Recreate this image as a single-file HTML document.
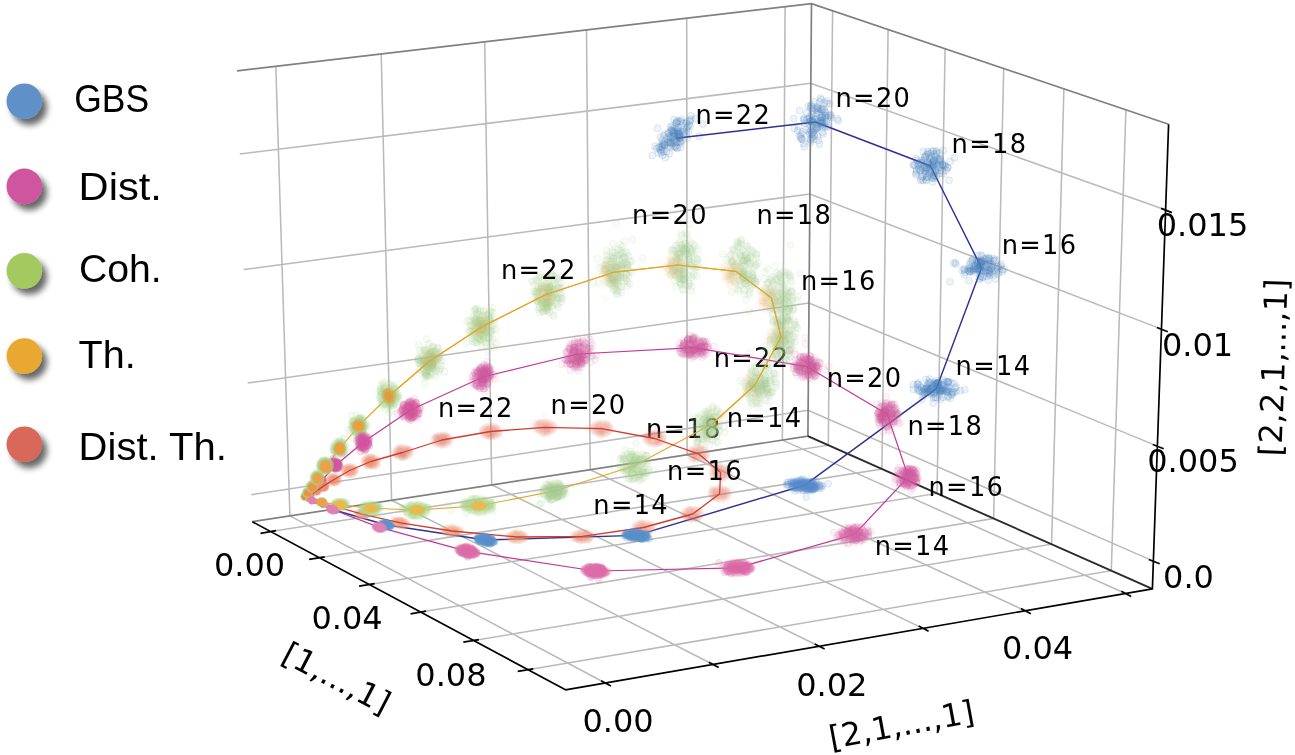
<!DOCTYPE html>
<html lang="en"><head><meta charset="utf-8"><title>Chart</title><style>html,body{margin:0;padding:0;background:#fff}svg{display:block}.p circle{r:3.5px;stroke-width:1px}</style></head><body>
<svg width="1295" height="755" viewBox="0 0 1295 755">
<defs><filter id="sh" x="-50%" y="-50%" width="220%" height="220%"><feGaussianBlur in="SourceAlpha" stdDeviation="3.2"/><feOffset dx="5" dy="6"/><feComponentTransfer><feFuncA type="linear" slope="0.6"/></feComponentTransfer><feMerge><feMergeNode/><feMergeNode in="SourceGraphic"/></feMerge></filter></defs>
<rect width="1295" height="755" fill="#fff"/>
<path d="M270.8,531.6L828.3,445.2L832.6,10.7M319.4,557.7L881.9,469.0L888.1,29.4M369.4,584.5L937.0,493.4L945.1,48.7M420.8,612.1L993.6,518.5L1003.7,68.5M473.6,640.5L1051.6,544.2L1063.9,88.8M528.0,669.7L1111.3,570.7L1125.9,109.7M605.3,683.0L289.9,515.9L275.8,66.4M713.1,664.5L391.6,500.3L381.2,54.0M819.0,646.2L491.7,484.8L484.7,41.9M923.0,628.4L590.2,469.7L586.5,30.0M1025.2,610.8L687.1,454.8L686.7,18.2M1125.6,593.5L782.4,440.1L785.1,6.7M251.4,494.7L808.1,410.2L1153.4,561.1M247.6,383.1L809.0,303.0L1157.4,446.1M243.7,269.6L809.9,194.0L1161.5,329.1M239.8,154.1L810.8,83.3L1165.7,210.0" fill="none" stroke="#bababa" stroke-width="1.55"/>
<path d="M237.0,70.9L811.5,3.6L1168.6,124.2M811.5,3.6L807.9,436.2M252.3,521.7L807.9,436.2" fill="none" stroke="#808080" stroke-width="1.7"/>
<path d="M807.9,436.2L1152.4,588.9" fill="none" stroke="#2a2a2a" stroke-width="1.9"/>
<defs><radialGradient id="g0"><stop offset="0" stop-color="#5b92cd" stop-opacity="1"/><stop offset="0.68" stop-color="#5b92cd" stop-opacity="1"/><stop offset="0.86" stop-color="#5b92cd" stop-opacity="0.6"/><stop offset="1" stop-color="#5b92cd" stop-opacity="0"/></radialGradient><radialGradient id="g1"><stop offset="0" stop-color="#548dca" stop-opacity="1"/><stop offset="0.5" stop-color="#548dca" stop-opacity="0.92"/><stop offset="0.8" stop-color="#548dca" stop-opacity="0.45"/><stop offset="1" stop-color="#548dca" stop-opacity="0"/></radialGradient><radialGradient id="g2"><stop offset="0" stop-color="#4c84c2" stop-opacity="1"/><stop offset="0.5" stop-color="#4c84c2" stop-opacity="0.92"/><stop offset="0.8" stop-color="#4c84c2" stop-opacity="0.45"/><stop offset="1" stop-color="#4c84c2" stop-opacity="0"/></radialGradient><radialGradient id="g3"><stop offset="0" stop-color="#4a80be" stop-opacity="1"/><stop offset="0.5" stop-color="#4a80be" stop-opacity="0.92"/><stop offset="0.8" stop-color="#4a80be" stop-opacity="0.45"/><stop offset="1" stop-color="#4a80be" stop-opacity="0"/></radialGradient><radialGradient id="g4"><stop offset="0" stop-color="#e07fb2" stop-opacity="1"/><stop offset="0.68" stop-color="#e07fb2" stop-opacity="1"/><stop offset="0.86" stop-color="#e07fb2" stop-opacity="0.6"/><stop offset="1" stop-color="#e07fb2" stop-opacity="0"/></radialGradient><radialGradient id="g5"><stop offset="0" stop-color="#de70aa" stop-opacity="1"/><stop offset="0.68" stop-color="#de70aa" stop-opacity="1"/><stop offset="0.86" stop-color="#de70aa" stop-opacity="0.6"/><stop offset="1" stop-color="#de70aa" stop-opacity="0"/></radialGradient><radialGradient id="g6"><stop offset="0" stop-color="#dc6aa8" stop-opacity="1"/><stop offset="0.5" stop-color="#dc6aa8" stop-opacity="0.92"/><stop offset="0.8" stop-color="#dc6aa8" stop-opacity="0.45"/><stop offset="1" stop-color="#dc6aa8" stop-opacity="0"/></radialGradient><radialGradient id="g7"><stop offset="0" stop-color="#dc68a9" stop-opacity="1"/><stop offset="0.5" stop-color="#dc68a9" stop-opacity="0.92"/><stop offset="0.8" stop-color="#dc68a9" stop-opacity="0.45"/><stop offset="1" stop-color="#dc68a9" stop-opacity="0"/></radialGradient><radialGradient id="g8"><stop offset="0" stop-color="#d860a5" stop-opacity="1"/><stop offset="0.5" stop-color="#d860a5" stop-opacity="0.92"/><stop offset="0.8" stop-color="#d860a5" stop-opacity="0.45"/><stop offset="1" stop-color="#d860a5" stop-opacity="0"/></radialGradient><radialGradient id="g9"><stop offset="0" stop-color="#d4589f" stop-opacity="1"/><stop offset="0.5" stop-color="#d4589f" stop-opacity="0.92"/><stop offset="0.8" stop-color="#d4589f" stop-opacity="0.45"/><stop offset="1" stop-color="#d4589f" stop-opacity="0"/></radialGradient><radialGradient id="g10"><stop offset="0" stop-color="#d4569f" stop-opacity="1"/><stop offset="0.5" stop-color="#d4569f" stop-opacity="0.92"/><stop offset="0.8" stop-color="#d4569f" stop-opacity="0.45"/><stop offset="1" stop-color="#d4569f" stop-opacity="0"/></radialGradient><radialGradient id="g11"><stop offset="0" stop-color="#d4569f" stop-opacity="1"/><stop offset="0.68" stop-color="#d4569f" stop-opacity="1"/><stop offset="0.86" stop-color="#d4569f" stop-opacity="0.6"/><stop offset="1" stop-color="#d4569f" stop-opacity="0"/></radialGradient><radialGradient id="g12"><stop offset="0" stop-color="#d8589f" stop-opacity="1"/><stop offset="0.68" stop-color="#d8589f" stop-opacity="1"/><stop offset="0.86" stop-color="#d8589f" stop-opacity="0.6"/><stop offset="1" stop-color="#d8589f" stop-opacity="0"/></radialGradient><radialGradient id="g13"><stop offset="0" stop-color="#aed58c" stop-opacity="1"/><stop offset="0.68" stop-color="#aed58c" stop-opacity="1"/><stop offset="0.86" stop-color="#aed58c" stop-opacity="0.6"/><stop offset="1" stop-color="#aed58c" stop-opacity="0"/></radialGradient><radialGradient id="g14"><stop offset="0" stop-color="#aed58c" stop-opacity="1"/><stop offset="0.5" stop-color="#aed58c" stop-opacity="0.92"/><stop offset="0.8" stop-color="#aed58c" stop-opacity="0.45"/><stop offset="1" stop-color="#aed58c" stop-opacity="0"/></radialGradient><radialGradient id="g15"><stop offset="0" stop-color="#a6cf90" stop-opacity="1"/><stop offset="0.5" stop-color="#a6cf90" stop-opacity="0.92"/><stop offset="0.8" stop-color="#a6cf90" stop-opacity="0.45"/><stop offset="1" stop-color="#a6cf90" stop-opacity="0"/></radialGradient><radialGradient id="g16"><stop offset="0" stop-color="#a6d488" stop-opacity="1"/><stop offset="0.68" stop-color="#a6d488" stop-opacity="1"/><stop offset="0.86" stop-color="#a6d488" stop-opacity="0.6"/><stop offset="1" stop-color="#a6d488" stop-opacity="0"/></radialGradient><radialGradient id="g17"><stop offset="0" stop-color="#eba04a" stop-opacity="1"/><stop offset="0.68" stop-color="#eba04a" stop-opacity="1"/><stop offset="0.86" stop-color="#eba04a" stop-opacity="0.6"/><stop offset="1" stop-color="#eba04a" stop-opacity="0"/></radialGradient><radialGradient id="g18"><stop offset="0" stop-color="#e9b94c" stop-opacity="1"/><stop offset="0.68" stop-color="#e9b94c" stop-opacity="1"/><stop offset="0.86" stop-color="#e9b94c" stop-opacity="0.6"/><stop offset="1" stop-color="#e9b94c" stop-opacity="0"/></radialGradient><radialGradient id="g19"><stop offset="0" stop-color="#e9a03c" stop-opacity="1"/><stop offset="0.5" stop-color="#e9a03c" stop-opacity="0.92"/><stop offset="0.8" stop-color="#e9a03c" stop-opacity="0.45"/><stop offset="1" stop-color="#e9a03c" stop-opacity="0"/></radialGradient><radialGradient id="g20"><stop offset="0" stop-color="#e9a03c" stop-opacity="1"/><stop offset="0.68" stop-color="#e9a03c" stop-opacity="1"/><stop offset="0.86" stop-color="#e9a03c" stop-opacity="0.6"/><stop offset="1" stop-color="#e9a03c" stop-opacity="0"/></radialGradient><radialGradient id="g21"><stop offset="0" stop-color="#ea9548" stop-opacity="1"/><stop offset="0.68" stop-color="#ea9548" stop-opacity="1"/><stop offset="0.86" stop-color="#ea9548" stop-opacity="0.6"/><stop offset="1" stop-color="#ea9548" stop-opacity="0"/></radialGradient><radialGradient id="g22"><stop offset="0" stop-color="#ea8f48" stop-opacity="1"/><stop offset="0.68" stop-color="#ea8f48" stop-opacity="1"/><stop offset="0.86" stop-color="#ea8f48" stop-opacity="0.6"/><stop offset="1" stop-color="#ea8f48" stop-opacity="0"/></radialGradient><radialGradient id="g23"><stop offset="0" stop-color="#ea8a48" stop-opacity="1"/><stop offset="0.68" stop-color="#ea8a48" stop-opacity="1"/><stop offset="0.86" stop-color="#ea8a48" stop-opacity="0.6"/><stop offset="1" stop-color="#ea8a48" stop-opacity="0"/></radialGradient><radialGradient id="g24"><stop offset="0" stop-color="#ea8a6c" stop-opacity="1"/><stop offset="0.68" stop-color="#ea8a6c" stop-opacity="1"/><stop offset="0.86" stop-color="#ea8a6c" stop-opacity="0.6"/><stop offset="1" stop-color="#ea8a6c" stop-opacity="0"/></radialGradient><radialGradient id="g25"><stop offset="0" stop-color="#f0a07e" stop-opacity="1"/><stop offset="0.68" stop-color="#f0a07e" stop-opacity="1"/><stop offset="0.86" stop-color="#f0a07e" stop-opacity="0.6"/><stop offset="1" stop-color="#f0a07e" stop-opacity="0"/></radialGradient><radialGradient id="g26"><stop offset="0" stop-color="#f0a07e" stop-opacity="1"/><stop offset="0.5" stop-color="#f0a07e" stop-opacity="0.92"/><stop offset="0.8" stop-color="#f0a07e" stop-opacity="0.45"/><stop offset="1" stop-color="#f0a07e" stop-opacity="0"/></radialGradient><radialGradient id="g27"><stop offset="0" stop-color="#ea8a6c" stop-opacity="1"/><stop offset="0.5" stop-color="#ea8a6c" stop-opacity="0.92"/><stop offset="0.8" stop-color="#ea8a6c" stop-opacity="0.45"/><stop offset="1" stop-color="#ea8a6c" stop-opacity="0"/></radialGradient><radialGradient id="g28"><stop offset="0" stop-color="#e0705a" stop-opacity="1"/><stop offset="0.5" stop-color="#e0705a" stop-opacity="0.92"/><stop offset="0.8" stop-color="#e0705a" stop-opacity="0.45"/><stop offset="1" stop-color="#e0705a" stop-opacity="0"/></radialGradient></defs>
<g font-family="DejaVu Sans, Liberation Sans, sans-serif" font-size="25.7" letter-spacing="1.3" fill="#000"><text x="645.9" y="438">n=18</text><text x="713.7" y="366.5">n=22</text></g>
<path d="M305.5,497.5L315.0,501.5L323.0,505.0L335.0,510.3L385.5,524.7L485.5,540.0L636.5,535.4L804.4,485.3L936.4,388.6L981.5,267.9L930.5,166.0L815.3,122.0L676.0,138.3" fill="none" stroke="#2d3192" stroke-width="1.45" stroke-linejoin="round"/>
<path d="M305.5,497.5L311.9,500.3L332.4,509.5L379.4,527.4L467.5,551.3L595.0,571.0L737.6,567.8L854.5,534.4L908.3,476.9L887.2,414.2L807.2,366.7L693.6,347.6L577.6,354.0L483.0,377.0L410.6,410.0L363.5,442.0L335.7,465.2L321.8,480.5L314.0,488.0L309.5,493.0L307.0,496.0L305.5,497.5" fill="none" stroke="#c0399b" stroke-width="1.25" stroke-linejoin="round"/>
<path d="M305.5,497.5L308.0,499.0L313.0,500.8L321.8,502.3L339.7,504.9L370.8,508.2L417.0,510.0L479.0,505.7L552.7,491.5L634.0,466.0L712.0,424.0L755.0,385.0L781.0,337.0L771.5,298.0L736.0,271.4L677.8,265.0L613.0,272.4L546.0,294.5L481.6,327.0L429.7,361.0L389.0,396.0L358.6,426.0L339.7,448.6L325.8,466.5L317.8,478.4L312.5,487.0L307.9,493.0L305.0,496.8L305.5,497.5" fill="none" stroke="#e8a422" stroke-width="1.1" stroke-linejoin="round"/>
<ellipse cx="552.7" cy="491.5" rx="10.8" ry="8.1" fill="url(#g19)" opacity="0.12"/>
<ellipse cx="634.0" cy="466.0" rx="10.8" ry="8.9" fill="url(#g19)" opacity="0.1"/>
<ellipse cx="712.0" cy="424.0" rx="10.8" ry="10.8" fill="url(#g19)" opacity="0.06"/><g class="p" fill="#e9a03c" fill-opacity="0.03"><circle cx="722.9" cy="414.4"/><circle cx="716.5" cy="421.8"/><circle cx="706.3" cy="418.9"/><circle cx="709.9" cy="426.5"/><circle cx="713.4" cy="421.8"/><circle cx="713.7" cy="415.9"/><circle cx="712.5" cy="425.2"/><circle cx="705.8" cy="426.9"/><circle cx="718.9" cy="429.0"/><circle cx="706.7" cy="422.4"/><circle cx="708.3" cy="423.6"/><circle cx="710.3" cy="422.7"/><circle cx="714.3" cy="411.7"/><circle cx="706.1" cy="418.0"/><circle cx="710.4" cy="427.6"/><circle cx="714.7" cy="426.1"/><circle cx="703.7" cy="419.4"/><circle cx="710.8" cy="425.6"/><circle cx="712.2" cy="419.8"/><circle cx="705.5" cy="427.5"/><circle cx="707.4" cy="422.8"/><circle cx="711.6" cy="425.4"/><circle cx="708.5" cy="418.6"/><circle cx="710.7" cy="419.9"/><circle cx="712.1" cy="417.4"/></g>
<ellipse cx="753.0" cy="386.0" rx="11.8" ry="13.6" fill="url(#g19)" opacity="0.12"/><g class="p" fill="#e9a03c" fill-opacity="0.03" stroke="#e9a03c" stroke-opacity="0.03"><circle cx="757.4" cy="386.1"/><circle cx="751.1" cy="396.0"/><circle cx="747.7" cy="390.1"/><circle cx="756.2" cy="386.1"/><circle cx="759.5" cy="381.7"/><circle cx="755.4" cy="392.6"/><circle cx="752.9" cy="392.7"/><circle cx="750.3" cy="379.0"/><circle cx="748.0" cy="377.8"/><circle cx="759.1" cy="380.0"/><circle cx="746.9" cy="379.0"/><circle cx="755.1" cy="378.3"/><circle cx="746.2" cy="385.5"/><circle cx="758.1" cy="393.6"/><circle cx="756.3" cy="375.8"/><circle cx="749.5" cy="386.3"/><circle cx="749.2" cy="389.9"/><circle cx="747.4" cy="380.4"/><circle cx="755.8" cy="374.3"/><circle cx="761.2" cy="389.3"/><circle cx="752.0" cy="383.7"/><circle cx="755.2" cy="388.0"/><circle cx="748.2" cy="386.6"/><circle cx="748.8" cy="382.8"/><circle cx="752.7" cy="386.2"/><circle cx="751.4" cy="385.3"/><circle cx="750.9" cy="384.0"/><circle cx="760.0" cy="393.9"/><circle cx="748.7" cy="373.5"/><circle cx="756.6" cy="396.3"/></g>
<ellipse cx="778.0" cy="338.0" rx="11.8" ry="13.6" fill="url(#g19)" opacity="0.15"/><g class="p" fill="#e9a03c" fill-opacity="0.03" stroke="#e9a03c" stroke-opacity="0.03"><circle cx="766.7" cy="336.6"/><circle cx="780.2" cy="344.9"/><circle cx="775.2" cy="329.7"/><circle cx="781.2" cy="333.9"/><circle cx="775.1" cy="344.7"/><circle cx="785.1" cy="335.4"/><circle cx="770.3" cy="344.5"/><circle cx="776.3" cy="346.5"/><circle cx="779.0" cy="331.8"/><circle cx="769.9" cy="331.9"/><circle cx="774.8" cy="338.5"/><circle cx="778.8" cy="339.1"/><circle cx="783.8" cy="334.7"/><circle cx="778.1" cy="329.7"/><circle cx="786.4" cy="339.0"/><circle cx="776.3" cy="331.7"/><circle cx="778.6" cy="345.1"/><circle cx="780.4" cy="338.9"/><circle cx="778.8" cy="345.3"/><circle cx="781.7" cy="338.7"/><circle cx="768.2" cy="341.7"/><circle cx="778.7" cy="337.6"/><circle cx="783.0" cy="333.4"/><circle cx="779.3" cy="338.6"/><circle cx="771.3" cy="336.7"/><circle cx="778.4" cy="343.9"/><circle cx="780.3" cy="337.8"/><circle cx="781.3" cy="326.2"/><circle cx="775.9" cy="333.5"/><circle cx="780.2" cy="347.5"/></g>
<ellipse cx="768.0" cy="299.0" rx="11.8" ry="14.6" fill="url(#g19)" opacity="0.18"/><g class="p" fill="#e9a03c" fill-opacity="0.03" stroke="#e9a03c" stroke-opacity="0.03"><circle cx="771.5" cy="303.5"/><circle cx="775.2" cy="290.6"/><circle cx="777.1" cy="296.1"/><circle cx="775.7" cy="301.8"/><circle cx="761.7" cy="291.3"/><circle cx="777.3" cy="296.5"/><circle cx="767.8" cy="299.8"/><circle cx="776.4" cy="293.6"/><circle cx="765.8" cy="310.0"/><circle cx="762.3" cy="300.6"/><circle cx="767.2" cy="296.1"/><circle cx="771.5" cy="290.2"/><circle cx="768.1" cy="289.6"/><circle cx="776.0" cy="302.0"/><circle cx="762.7" cy="290.1"/><circle cx="770.2" cy="286.7"/><circle cx="767.2" cy="305.3"/><circle cx="772.4" cy="306.1"/><circle cx="769.6" cy="290.8"/><circle cx="763.4" cy="301.9"/><circle cx="758.1" cy="305.6"/><circle cx="775.9" cy="291.1"/><circle cx="762.8" cy="303.2"/><circle cx="764.8" cy="303.0"/><circle cx="765.9" cy="295.9"/><circle cx="767.4" cy="303.0"/><circle cx="770.7" cy="298.6"/><circle cx="774.3" cy="308.3"/><circle cx="771.6" cy="290.6"/><circle cx="765.1" cy="297.8"/><circle cx="770.3" cy="307.0"/><circle cx="765.3" cy="306.5"/><circle cx="762.6" cy="300.9"/><circle cx="766.0" cy="297.4"/><circle cx="773.6" cy="296.7"/></g>
<ellipse cx="733.0" cy="273.0" rx="11.9" ry="14.6" fill="url(#g19)" opacity="0.2"/><g class="p" fill="#e9a03c" fill-opacity="0.03" stroke="#e9a03c" stroke-opacity="0.03"><circle cx="731.0" cy="260.1"/><circle cx="742.4" cy="274.4"/><circle cx="724.1" cy="270.8"/><circle cx="730.6" cy="279.5"/><circle cx="731.1" cy="276.1"/><circle cx="731.4" cy="266.8"/><circle cx="732.5" cy="273.3"/><circle cx="736.2" cy="284.3"/><circle cx="729.6" cy="285.0"/><circle cx="729.5" cy="284.2"/><circle cx="733.0" cy="260.3"/><circle cx="733.8" cy="282.0"/><circle cx="740.7" cy="271.3"/><circle cx="724.8" cy="266.2"/><circle cx="738.0" cy="266.8"/><circle cx="723.8" cy="277.3"/><circle cx="727.2" cy="276.2"/><circle cx="734.2" cy="271.1"/><circle cx="721.8" cy="267.7"/><circle cx="729.4" cy="278.4"/><circle cx="733.5" cy="266.8"/><circle cx="737.2" cy="275.3"/><circle cx="725.4" cy="280.8"/><circle cx="734.8" cy="289.9"/><circle cx="737.9" cy="263.4"/><circle cx="738.3" cy="274.3"/><circle cx="731.1" cy="274.8"/><circle cx="735.9" cy="270.8"/><circle cx="728.6" cy="276.7"/><circle cx="734.6" cy="265.7"/><circle cx="739.0" cy="271.3"/><circle cx="741.7" cy="281.9"/><circle cx="732.2" cy="277.8"/><circle cx="728.1" cy="274.0"/><circle cx="724.2" cy="266.1"/></g>
<ellipse cx="675.0" cy="266.5" rx="11.9" ry="14.6" fill="url(#g19)" opacity="0.2"/><g class="p" fill="#e9a03c" fill-opacity="0.03" stroke="#e9a03c" stroke-opacity="0.03"><circle cx="669.1" cy="275.7"/><circle cx="665.5" cy="267.2"/><circle cx="665.3" cy="266.1"/><circle cx="675.2" cy="275.0"/><circle cx="677.7" cy="272.0"/><circle cx="666.6" cy="268.4"/><circle cx="673.4" cy="273.4"/><circle cx="684.1" cy="265.1"/><circle cx="679.9" cy="277.2"/><circle cx="672.1" cy="265.8"/><circle cx="671.3" cy="260.5"/><circle cx="669.3" cy="257.8"/><circle cx="677.0" cy="256.7"/><circle cx="677.6" cy="273.4"/><circle cx="666.7" cy="271.3"/><circle cx="675.0" cy="269.0"/><circle cx="684.7" cy="268.0"/><circle cx="679.9" cy="271.7"/><circle cx="675.1" cy="261.1"/><circle cx="676.4" cy="261.0"/><circle cx="670.4" cy="265.9"/><circle cx="684.1" cy="277.2"/><circle cx="681.7" cy="256.4"/><circle cx="677.7" cy="261.6"/><circle cx="677.1" cy="271.7"/><circle cx="678.1" cy="262.3"/><circle cx="670.1" cy="270.7"/><circle cx="680.8" cy="261.7"/><circle cx="670.8" cy="265.5"/><circle cx="672.2" cy="272.2"/><circle cx="679.8" cy="271.4"/><circle cx="672.0" cy="261.0"/><circle cx="673.4" cy="267.2"/><circle cx="678.9" cy="269.0"/><circle cx="673.3" cy="270.0"/></g>
<ellipse cx="610.5" cy="274.0" rx="11.9" ry="14.6" fill="url(#g19)" opacity="0.23"/><g class="p" fill="#e9a03c" fill-opacity="0.035" stroke="#e9a03c" stroke-opacity="0.03"><circle cx="605.2" cy="297.9"/><circle cx="605.2" cy="271.3"/><circle cx="606.8" cy="266.4"/><circle cx="606.7" cy="281.4"/><circle cx="605.1" cy="264.7"/><circle cx="605.6" cy="262.9"/><circle cx="604.0" cy="273.8"/><circle cx="609.9" cy="280.8"/><circle cx="612.4" cy="285.2"/><circle cx="614.6" cy="280.4"/><circle cx="613.7" cy="278.4"/><circle cx="610.3" cy="277.9"/><circle cx="612.5" cy="271.9"/><circle cx="604.5" cy="265.7"/><circle cx="602.1" cy="270.3"/><circle cx="601.4" cy="274.1"/><circle cx="617.1" cy="278.0"/><circle cx="618.3" cy="280.4"/><circle cx="605.7" cy="260.5"/><circle cx="618.0" cy="265.9"/><circle cx="604.0" cy="270.9"/><circle cx="609.0" cy="277.7"/><circle cx="607.5" cy="268.8"/><circle cx="614.5" cy="268.3"/><circle cx="623.2" cy="265.7"/><circle cx="610.9" cy="281.2"/><circle cx="610.8" cy="264.4"/><circle cx="610.5" cy="280.7"/><circle cx="607.3" cy="264.4"/><circle cx="610.4" cy="261.3"/><circle cx="612.9" cy="278.7"/><circle cx="611.3" cy="267.3"/><circle cx="615.7" cy="282.5"/><circle cx="616.1" cy="271.8"/><circle cx="613.1" cy="270.1"/></g>
<ellipse cx="546.0" cy="294.5" rx="11.4" ry="13.5" fill="url(#g19)" opacity="0.27"/><g class="p" fill="#e9a03c" fill-opacity="0.04" stroke="#e9a03c" stroke-opacity="0.03"><circle cx="547.3" cy="287.5"/><circle cx="548.2" cy="292.8"/><circle cx="541.0" cy="289.2"/><circle cx="555.2" cy="293.7"/><circle cx="548.1" cy="283.4"/><circle cx="550.1" cy="303.4"/><circle cx="547.4" cy="305.5"/><circle cx="548.1" cy="289.0"/><circle cx="553.2" cy="297.6"/><circle cx="542.1" cy="288.7"/><circle cx="538.1" cy="299.8"/><circle cx="546.4" cy="293.0"/><circle cx="550.0" cy="287.4"/><circle cx="547.6" cy="297.3"/><circle cx="549.7" cy="293.6"/><circle cx="544.9" cy="293.0"/><circle cx="547.8" cy="303.4"/><circle cx="541.4" cy="297.6"/><circle cx="546.5" cy="297.3"/><circle cx="546.3" cy="303.4"/><circle cx="549.1" cy="296.1"/><circle cx="548.0" cy="299.7"/><circle cx="546.6" cy="298.3"/><circle cx="545.1" cy="302.8"/><circle cx="545.2" cy="277.0"/><circle cx="548.7" cy="292.7"/><circle cx="545.2" cy="298.1"/><circle cx="534.1" cy="284.8"/><circle cx="545.3" cy="287.3"/><circle cx="548.6" cy="297.2"/><circle cx="544.1" cy="298.9"/><circle cx="537.6" cy="293.9"/><circle cx="549.8" cy="301.8"/><circle cx="548.4" cy="302.5"/><circle cx="547.8" cy="293.8"/></g>
<ellipse cx="481.6" cy="327.0" rx="10.4" ry="12.3" fill="url(#g19)" opacity="0.35"/><g class="p" fill="#e9a03c" fill-opacity="0.05" stroke="#e9a03c" stroke-opacity="0.04"><circle cx="489.9" cy="319.9"/><circle cx="488.0" cy="326.2"/><circle cx="480.4" cy="317.7"/><circle cx="475.2" cy="324.2"/><circle cx="477.0" cy="329.2"/><circle cx="483.3" cy="322.8"/><circle cx="483.1" cy="325.4"/><circle cx="481.2" cy="332.8"/><circle cx="482.9" cy="329.3"/><circle cx="486.7" cy="331.3"/><circle cx="479.7" cy="329.4"/><circle cx="475.9" cy="333.6"/><circle cx="479.8" cy="325.3"/><circle cx="475.4" cy="333.1"/><circle cx="478.7" cy="323.2"/><circle cx="480.2" cy="335.7"/><circle cx="485.9" cy="324.9"/><circle cx="479.2" cy="331.1"/><circle cx="481.8" cy="328.3"/><circle cx="481.4" cy="339.0"/><circle cx="485.2" cy="329.5"/><circle cx="484.1" cy="315.7"/><circle cx="478.3" cy="332.7"/><circle cx="486.4" cy="323.3"/><circle cx="473.7" cy="320.7"/><circle cx="483.5" cy="326.0"/><circle cx="485.6" cy="325.8"/><circle cx="482.5" cy="329.4"/><circle cx="481.0" cy="324.8"/><circle cx="479.1" cy="325.9"/><circle cx="481.6" cy="331.5"/><circle cx="481.7" cy="324.2"/><circle cx="477.4" cy="323.2"/><circle cx="483.0" cy="327.4"/><circle cx="486.5" cy="326.2"/></g>
<ellipse cx="429.7" cy="361.0" rx="9.7" ry="10.8" fill="url(#g19)" opacity="0.46"/><g class="p" fill="#e9a03c" fill-opacity="0.07" stroke="#e9a03c" stroke-opacity="0.04"><circle cx="425.3" cy="363.4"/><circle cx="429.2" cy="363.2"/><circle cx="433.8" cy="363.1"/><circle cx="424.9" cy="358.8"/><circle cx="428.1" cy="353.5"/><circle cx="430.5" cy="353.8"/><circle cx="433.1" cy="363.8"/><circle cx="429.7" cy="367.5"/><circle cx="433.4" cy="355.7"/><circle cx="435.8" cy="356.5"/><circle cx="432.7" cy="356.6"/><circle cx="425.9" cy="366.1"/><circle cx="424.8" cy="365.3"/><circle cx="426.9" cy="366.9"/><circle cx="427.6" cy="364.1"/><circle cx="437.0" cy="360.0"/><circle cx="424.8" cy="359.2"/><circle cx="430.3" cy="352.5"/><circle cx="427.3" cy="361.4"/><circle cx="431.0" cy="353.1"/><circle cx="429.3" cy="361.2"/><circle cx="433.4" cy="362.0"/><circle cx="433.2" cy="363.1"/><circle cx="426.6" cy="372.1"/><circle cx="431.9" cy="361.9"/><circle cx="428.3" cy="367.2"/><circle cx="429.9" cy="363.2"/><circle cx="430.3" cy="360.3"/><circle cx="424.1" cy="358.5"/><circle cx="435.6" cy="361.9"/></g>
<ellipse cx="553.0" cy="491.5" rx="14.6" ry="11.2" fill="url(#g15)" opacity="0.3"/><g class="p" fill="#a6cf90" fill-opacity="0.101" stroke="#a6cf90" stroke-opacity="0.127"><circle cx="563.1" cy="494.2"/><circle cx="541.1" cy="503.2"/><circle cx="550.3" cy="482.3"/><circle cx="548.6" cy="494.8"/><circle cx="561.9" cy="495.9"/><circle cx="560.2" cy="487.1"/><circle cx="557.5" cy="496.1"/><circle cx="562.0" cy="493.9"/><circle cx="553.7" cy="499.2"/><circle cx="559.2" cy="485.3"/><circle cx="553.2" cy="488.2"/><circle cx="557.9" cy="494.5"/><circle cx="549.5" cy="488.3"/><circle cx="559.9" cy="486.4"/><circle cx="564.6" cy="488.1"/><circle cx="544.4" cy="490.0"/><circle cx="555.1" cy="489.9"/><circle cx="547.9" cy="495.9"/><circle cx="559.8" cy="492.4"/><circle cx="557.8" cy="496.5"/><circle cx="551.6" cy="500.3"/><circle cx="565.3" cy="493.8"/><circle cx="562.4" cy="490.1"/><circle cx="564.0" cy="491.5"/><circle cx="554.6" cy="490.6"/><circle cx="543.4" cy="490.2"/><circle cx="543.7" cy="494.4"/><circle cx="547.5" cy="498.8"/><circle cx="545.3" cy="489.0"/><circle cx="558.7" cy="495.8"/><circle cx="554.6" cy="483.2"/><circle cx="550.4" cy="494.3"/><circle cx="557.0" cy="483.1"/><circle cx="561.7" cy="496.0"/><circle cx="551.0" cy="499.8"/><circle cx="558.7" cy="484.0"/><circle cx="554.9" cy="486.0"/><circle cx="546.1" cy="484.3"/><circle cx="543.2" cy="488.1"/><circle cx="563.2" cy="490.8"/><circle cx="550.6" cy="488.7"/><circle cx="549.3" cy="497.3"/><circle cx="556.2" cy="497.9"/><circle cx="548.5" cy="493.0"/><circle cx="559.8" cy="489.3"/><circle cx="557.3" cy="497.0"/><circle cx="557.2" cy="488.4"/><circle cx="553.3" cy="487.0"/><circle cx="557.0" cy="496.5"/><circle cx="550.6" cy="492.2"/><circle cx="546.9" cy="489.0"/><circle cx="552.2" cy="492.2"/><circle cx="556.0" cy="494.8"/><circle cx="554.5" cy="493.5"/><circle cx="557.2" cy="491.5"/><circle cx="554.2" cy="487.7"/><circle cx="554.5" cy="495.8"/><circle cx="549.1" cy="497.2"/><circle cx="550.0" cy="496.2"/><circle cx="563.3" cy="492.5"/><circle cx="550.7" cy="493.5"/><circle cx="550.7" cy="487.7"/><circle cx="559.4" cy="483.4"/><circle cx="558.6" cy="488.3"/><circle cx="558.8" cy="489.4"/><circle cx="564.2" cy="489.4"/><circle cx="539.4" cy="504.0"/><circle cx="553.3" cy="491.0"/><circle cx="553.0" cy="490.2"/><circle cx="554.9" cy="488.3"/><circle cx="566.3" cy="488.6"/><circle cx="557.0" cy="497.3"/><circle cx="551.7" cy="495.3"/><circle cx="549.8" cy="487.3"/><circle cx="548.2" cy="496.2"/><circle cx="559.4" cy="487.7"/><circle cx="559.2" cy="487.7"/><circle cx="554.1" cy="494.5"/><circle cx="540.5" cy="494.2"/><circle cx="551.2" cy="485.2"/><circle cx="557.1" cy="492.7"/><circle cx="555.2" cy="490.3"/><circle cx="548.9" cy="485.8"/><circle cx="551.5" cy="487.0"/><circle cx="550.2" cy="493.2"/><circle cx="557.8" cy="493.2"/><circle cx="554.6" cy="490.3"/><circle cx="558.7" cy="496.4"/><circle cx="549.9" cy="489.6"/><circle cx="546.9" cy="490.2"/><circle cx="550.2" cy="499.7"/><circle cx="561.1" cy="485.6"/><circle cx="557.6" cy="490.4"/><circle cx="542.3" cy="492.5"/><circle cx="548.7" cy="492.7"/><circle cx="556.0" cy="488.6"/><circle cx="562.0" cy="492.0"/><circle cx="548.1" cy="484.5"/></g>
<ellipse cx="635.0" cy="465.5" rx="16.5" ry="17.1" fill="url(#g15)" opacity="0.26"/><g class="p" fill="#a6cf90" fill-opacity="0.089" stroke="#a6cf90" stroke-opacity="0.127"><circle cx="635.9" cy="443.6"/><circle cx="626.8" cy="470.0"/><circle cx="620.2" cy="459.1"/><circle cx="629.4" cy="470.7"/><circle cx="637.7" cy="459.5"/><circle cx="636.6" cy="465.6"/><circle cx="629.1" cy="478.4"/><circle cx="630.3" cy="475.8"/><circle cx="641.2" cy="463.8"/><circle cx="633.4" cy="473.9"/><circle cx="635.9" cy="456.7"/><circle cx="639.7" cy="474.6"/><circle cx="639.2" cy="480.0"/><circle cx="627.4" cy="453.9"/><circle cx="630.5" cy="463.3"/><circle cx="623.3" cy="460.3"/><circle cx="640.3" cy="474.5"/><circle cx="639.0" cy="458.8"/><circle cx="637.1" cy="462.1"/><circle cx="635.4" cy="477.9"/><circle cx="621.8" cy="458.6"/><circle cx="633.7" cy="468.0"/><circle cx="640.2" cy="479.5"/><circle cx="648.0" cy="460.5"/><circle cx="626.9" cy="462.3"/><circle cx="645.5" cy="473.0"/><circle cx="623.3" cy="470.6"/><circle cx="634.5" cy="478.6"/><circle cx="646.8" cy="463.7"/><circle cx="632.1" cy="479.3"/><circle cx="621.2" cy="467.6"/><circle cx="631.4" cy="472.3"/><circle cx="643.3" cy="472.6"/><circle cx="645.9" cy="455.8"/><circle cx="633.7" cy="460.8"/><circle cx="644.8" cy="459.8"/><circle cx="643.5" cy="454.7"/><circle cx="623.7" cy="456.4"/><circle cx="624.3" cy="459.3"/><circle cx="631.6" cy="454.7"/><circle cx="626.9" cy="472.6"/><circle cx="633.8" cy="457.5"/><circle cx="640.9" cy="472.3"/><circle cx="624.3" cy="458.8"/><circle cx="630.8" cy="451.4"/><circle cx="644.6" cy="477.1"/><circle cx="648.9" cy="469.7"/><circle cx="628.3" cy="469.7"/><circle cx="635.9" cy="457.8"/><circle cx="633.4" cy="469.6"/><circle cx="642.2" cy="478.4"/><circle cx="631.6" cy="454.3"/><circle cx="631.2" cy="460.3"/><circle cx="634.6" cy="464.2"/><circle cx="632.9" cy="465.5"/><circle cx="641.4" cy="460.1"/><circle cx="622.2" cy="468.2"/><circle cx="648.0" cy="472.9"/><circle cx="626.2" cy="468.5"/><circle cx="642.5" cy="471.8"/><circle cx="647.6" cy="471.4"/><circle cx="614.9" cy="469.4"/><circle cx="629.2" cy="458.3"/><circle cx="622.5" cy="455.7"/><circle cx="632.0" cy="473.2"/><circle cx="642.7" cy="470.0"/><circle cx="643.4" cy="462.2"/><circle cx="628.7" cy="479.3"/><circle cx="637.9" cy="462.5"/><circle cx="640.0" cy="459.6"/><circle cx="645.9" cy="455.5"/><circle cx="630.8" cy="463.8"/><circle cx="633.3" cy="455.9"/><circle cx="640.8" cy="469.8"/><circle cx="635.1" cy="469.5"/><circle cx="631.4" cy="472.4"/><circle cx="630.6" cy="457.3"/><circle cx="633.5" cy="463.8"/><circle cx="637.2" cy="470.2"/><circle cx="646.8" cy="455.4"/><circle cx="623.4" cy="467.4"/><circle cx="644.1" cy="473.0"/><circle cx="634.1" cy="463.6"/><circle cx="632.8" cy="478.5"/><circle cx="633.5" cy="467.9"/><circle cx="626.3" cy="472.3"/><circle cx="634.1" cy="463.6"/><circle cx="632.9" cy="464.6"/><circle cx="654.2" cy="470.1"/><circle cx="639.8" cy="460.0"/><circle cx="625.1" cy="449.7"/><circle cx="630.9" cy="466.8"/><circle cx="636.7" cy="454.9"/><circle cx="639.7" cy="461.5"/><circle cx="643.1" cy="463.7"/><circle cx="635.4" cy="460.2"/><circle cx="630.3" cy="465.9"/><circle cx="639.2" cy="471.0"/><circle cx="630.2" cy="456.5"/><circle cx="638.2" cy="475.1"/><circle cx="631.7" cy="462.5"/><circle cx="632.1" cy="468.2"/><circle cx="641.9" cy="458.8"/><circle cx="638.3" cy="476.2"/><circle cx="639.4" cy="460.1"/></g>
<ellipse cx="708.4" cy="426.5" rx="14.6" ry="22.2" transform="rotate(20 708.4 426.5)" fill="url(#g15)" opacity="0.22"/><g class="p" fill="#a6cf90" fill-opacity="0.081" stroke="#a6cf90" stroke-opacity="0.127"><circle cx="708.4" cy="410.3"/><circle cx="703.7" cy="430.9"/><circle cx="706.8" cy="421.9"/><circle cx="707.8" cy="412.6"/><circle cx="713.1" cy="426.8"/><circle cx="694.5" cy="432.5"/><circle cx="703.0" cy="438.4"/><circle cx="711.5" cy="419.2"/><circle cx="719.4" cy="431.0"/><circle cx="719.4" cy="425.5"/><circle cx="705.4" cy="423.1"/><circle cx="709.7" cy="428.6"/><circle cx="700.8" cy="414.5"/><circle cx="721.2" cy="413.1"/><circle cx="698.6" cy="418.2"/><circle cx="717.3" cy="435.0"/><circle cx="705.2" cy="429.3"/><circle cx="709.4" cy="444.7"/><circle cx="715.0" cy="429.6"/><circle cx="710.7" cy="413.7"/><circle cx="709.9" cy="417.6"/><circle cx="711.3" cy="434.6"/><circle cx="705.9" cy="427.9"/><circle cx="713.0" cy="406.4"/><circle cx="707.7" cy="431.9"/><circle cx="698.5" cy="417.2"/><circle cx="709.0" cy="430.7"/><circle cx="712.0" cy="433.1"/><circle cx="710.0" cy="420.5"/><circle cx="696.9" cy="442.5"/><circle cx="708.3" cy="419.2"/><circle cx="705.8" cy="411.4"/><circle cx="719.7" cy="414.0"/><circle cx="712.6" cy="440.1"/><circle cx="702.8" cy="425.5"/><circle cx="716.5" cy="436.4"/><circle cx="714.0" cy="416.6"/><circle cx="695.9" cy="426.2"/><circle cx="709.0" cy="421.6"/><circle cx="711.8" cy="423.9"/><circle cx="708.3" cy="420.4"/><circle cx="708.4" cy="435.0"/><circle cx="696.6" cy="441.4"/><circle cx="714.2" cy="417.3"/><circle cx="707.1" cy="428.0"/><circle cx="705.0" cy="414.2"/><circle cx="698.7" cy="426.5"/><circle cx="708.9" cy="416.9"/><circle cx="717.1" cy="411.0"/><circle cx="707.8" cy="414.1"/><circle cx="708.8" cy="426.1"/><circle cx="706.9" cy="438.7"/><circle cx="715.4" cy="415.9"/><circle cx="706.9" cy="437.2"/><circle cx="706.6" cy="419.8"/><circle cx="717.4" cy="417.1"/><circle cx="718.2" cy="442.6"/><circle cx="712.2" cy="425.5"/><circle cx="706.0" cy="424.9"/><circle cx="702.5" cy="431.0"/><circle cx="710.0" cy="424.6"/><circle cx="702.4" cy="425.5"/><circle cx="705.2" cy="429.5"/><circle cx="700.8" cy="431.0"/><circle cx="701.3" cy="444.3"/><circle cx="697.4" cy="443.5"/><circle cx="724.8" cy="432.5"/><circle cx="716.0" cy="441.8"/><circle cx="703.6" cy="419.4"/><circle cx="713.2" cy="432.2"/><circle cx="712.0" cy="433.1"/><circle cx="717.6" cy="428.1"/><circle cx="704.9" cy="419.0"/><circle cx="711.5" cy="418.9"/><circle cx="709.1" cy="425.3"/><circle cx="707.0" cy="426.3"/><circle cx="703.0" cy="435.8"/><circle cx="706.5" cy="434.7"/><circle cx="700.4" cy="424.6"/><circle cx="712.5" cy="408.1"/><circle cx="724.5" cy="419.2"/><circle cx="710.6" cy="436.0"/><circle cx="716.5" cy="425.6"/><circle cx="692.1" cy="428.0"/><circle cx="705.7" cy="433.3"/><circle cx="703.3" cy="439.1"/><circle cx="712.7" cy="425.2"/><circle cx="724.1" cy="426.8"/><circle cx="695.9" cy="424.1"/><circle cx="709.3" cy="433.8"/><circle cx="705.6" cy="426.3"/><circle cx="705.3" cy="421.9"/><circle cx="714.1" cy="424.0"/><circle cx="713.5" cy="426.7"/><circle cx="710.2" cy="424.7"/><circle cx="714.6" cy="430.9"/><circle cx="703.8" cy="427.0"/><circle cx="714.3" cy="432.3"/><circle cx="705.2" cy="418.2"/><circle cx="698.2" cy="438.0"/><circle cx="706.6" cy="435.9"/><circle cx="714.3" cy="425.9"/><circle cx="715.1" cy="428.4"/><circle cx="717.2" cy="409.0"/><circle cx="709.4" cy="423.0"/><circle cx="703.5" cy="427.3"/><circle cx="702.3" cy="421.7"/><circle cx="694.9" cy="419.4"/><circle cx="698.6" cy="441.4"/><circle cx="707.4" cy="432.5"/><circle cx="693.5" cy="416.5"/><circle cx="697.4" cy="436.4"/></g>
<ellipse cx="760.0" cy="384.0" rx="17.6" ry="21.8" transform="rotate(15 760.0 384.0)" fill="url(#g15)" opacity="0.19"/><g class="p" fill="#a6cf90" fill-opacity="0.075" stroke="#a6cf90" stroke-opacity="0.127"><circle cx="769.3" cy="402.0"/><circle cx="757.9" cy="390.6"/><circle cx="749.9" cy="353.3"/><circle cx="754.6" cy="387.9"/><circle cx="753.1" cy="384.7"/><circle cx="759.3" cy="376.7"/><circle cx="767.1" cy="364.8"/><circle cx="755.1" cy="393.7"/><circle cx="760.3" cy="395.6"/><circle cx="750.0" cy="388.9"/><circle cx="747.1" cy="393.6"/><circle cx="746.9" cy="393.3"/><circle cx="774.2" cy="373.4"/><circle cx="766.6" cy="378.4"/><circle cx="772.7" cy="392.0"/><circle cx="757.4" cy="386.5"/><circle cx="752.5" cy="403.0"/><circle cx="774.8" cy="378.8"/><circle cx="775.0" cy="387.5"/><circle cx="752.7" cy="376.3"/><circle cx="763.9" cy="392.7"/><circle cx="766.6" cy="390.3"/><circle cx="751.3" cy="382.8"/><circle cx="751.4" cy="371.0"/><circle cx="767.5" cy="393.7"/><circle cx="756.2" cy="365.8"/><circle cx="768.1" cy="388.6"/><circle cx="760.8" cy="382.6"/><circle cx="762.8" cy="386.0"/><circle cx="764.3" cy="365.2"/><circle cx="765.2" cy="368.8"/><circle cx="756.9" cy="403.4"/><circle cx="759.1" cy="393.1"/><circle cx="750.7" cy="380.9"/><circle cx="770.9" cy="393.9"/><circle cx="748.1" cy="387.4"/><circle cx="762.6" cy="366.8"/><circle cx="773.6" cy="373.3"/><circle cx="752.8" cy="387.4"/><circle cx="761.5" cy="390.0"/><circle cx="766.1" cy="400.4"/><circle cx="758.7" cy="397.7"/><circle cx="756.2" cy="402.0"/><circle cx="776.4" cy="384.9"/><circle cx="765.5" cy="384.8"/><circle cx="751.7" cy="382.2"/><circle cx="775.7" cy="374.8"/><circle cx="770.0" cy="382.0"/><circle cx="759.9" cy="403.6"/><circle cx="758.3" cy="400.3"/><circle cx="768.8" cy="370.5"/><circle cx="758.5" cy="388.9"/><circle cx="757.3" cy="388.8"/><circle cx="745.8" cy="386.7"/><circle cx="749.3" cy="397.5"/><circle cx="756.3" cy="394.9"/><circle cx="771.4" cy="392.1"/><circle cx="752.0" cy="368.5"/><circle cx="757.5" cy="378.1"/><circle cx="767.2" cy="386.7"/><circle cx="765.1" cy="380.2"/><circle cx="751.0" cy="397.9"/><circle cx="745.0" cy="391.3"/><circle cx="752.7" cy="388.3"/><circle cx="749.2" cy="385.6"/><circle cx="767.3" cy="364.5"/><circle cx="753.5" cy="388.3"/><circle cx="766.4" cy="388.3"/><circle cx="755.8" cy="381.9"/><circle cx="752.9" cy="371.8"/><circle cx="761.4" cy="383.9"/><circle cx="764.4" cy="386.6"/><circle cx="764.3" cy="383.7"/><circle cx="758.1" cy="407.6"/><circle cx="752.4" cy="383.0"/><circle cx="755.3" cy="387.4"/><circle cx="765.2" cy="377.1"/><circle cx="760.5" cy="386.0"/><circle cx="758.3" cy="386.5"/><circle cx="768.4" cy="392.2"/><circle cx="757.5" cy="385.7"/><circle cx="775.9" cy="382.1"/><circle cx="769.7" cy="380.0"/><circle cx="750.2" cy="374.5"/><circle cx="763.0" cy="382.4"/><circle cx="756.9" cy="375.3"/><circle cx="755.7" cy="372.2"/><circle cx="761.8" cy="359.6"/><circle cx="762.4" cy="387.4"/><circle cx="758.4" cy="392.6"/><circle cx="755.7" cy="382.7"/><circle cx="740.7" cy="380.6"/><circle cx="755.5" cy="388.7"/><circle cx="766.5" cy="383.8"/><circle cx="750.0" cy="384.5"/><circle cx="763.7" cy="393.9"/><circle cx="758.4" cy="374.2"/><circle cx="760.5" cy="373.6"/><circle cx="743.5" cy="382.9"/><circle cx="761.4" cy="390.6"/><circle cx="753.8" cy="381.6"/><circle cx="754.8" cy="367.5"/><circle cx="767.8" cy="367.6"/><circle cx="751.5" cy="404.8"/><circle cx="766.9" cy="392.2"/><circle cx="764.7" cy="382.9"/><circle cx="750.5" cy="401.3"/><circle cx="759.9" cy="377.8"/><circle cx="764.8" cy="384.4"/><circle cx="770.8" cy="380.4"/><circle cx="754.9" cy="378.4"/><circle cx="769.1" cy="395.6"/><circle cx="761.6" cy="385.2"/><circle cx="764.9" cy="375.5"/><circle cx="764.9" cy="380.3"/><circle cx="761.6" cy="384.6"/><circle cx="763.3" cy="380.3"/><circle cx="766.0" cy="389.2"/></g>
<ellipse cx="783.0" cy="338.0" rx="16.5" ry="26.4" transform="rotate(5 783.0 338.0)" fill="url(#g15)" opacity="0.18"/><g class="p" fill="#a6cf90" fill-opacity="0.075" stroke="#a6cf90" stroke-opacity="0.127"><circle cx="764.1" cy="345.8"/><circle cx="788.3" cy="332.5"/><circle cx="779.6" cy="325.7"/><circle cx="791.0" cy="342.2"/><circle cx="780.1" cy="320.1"/><circle cx="781.9" cy="349.2"/><circle cx="770.8" cy="343.3"/><circle cx="781.8" cy="319.6"/><circle cx="786.5" cy="321.4"/><circle cx="795.8" cy="333.4"/><circle cx="789.4" cy="344.7"/><circle cx="777.7" cy="356.8"/><circle cx="793.7" cy="320.2"/><circle cx="785.6" cy="350.2"/><circle cx="783.8" cy="335.0"/><circle cx="776.4" cy="355.7"/><circle cx="789.5" cy="330.4"/><circle cx="778.9" cy="339.5"/><circle cx="790.6" cy="329.5"/><circle cx="781.7" cy="321.1"/><circle cx="790.0" cy="344.3"/><circle cx="776.6" cy="353.0"/><circle cx="777.2" cy="361.7"/><circle cx="774.0" cy="336.9"/><circle cx="775.9" cy="335.1"/><circle cx="781.7" cy="346.1"/><circle cx="780.9" cy="335.6"/><circle cx="791.1" cy="356.3"/><circle cx="794.4" cy="325.2"/><circle cx="782.8" cy="325.6"/><circle cx="780.3" cy="353.7"/><circle cx="789.3" cy="360.0"/><circle cx="780.2" cy="324.0"/><circle cx="777.3" cy="339.2"/><circle cx="787.6" cy="318.2"/><circle cx="797.4" cy="328.0"/><circle cx="789.6" cy="349.0"/><circle cx="782.8" cy="361.6"/><circle cx="770.0" cy="340.0"/><circle cx="774.9" cy="354.7"/><circle cx="790.1" cy="338.0"/><circle cx="778.4" cy="342.7"/><circle cx="776.8" cy="320.0"/><circle cx="794.9" cy="342.0"/><circle cx="796.6" cy="326.6"/><circle cx="787.8" cy="344.5"/><circle cx="781.4" cy="326.2"/><circle cx="772.2" cy="356.9"/><circle cx="782.8" cy="353.8"/><circle cx="786.7" cy="316.6"/><circle cx="794.9" cy="322.2"/><circle cx="776.1" cy="354.2"/><circle cx="782.3" cy="339.7"/><circle cx="786.8" cy="360.0"/><circle cx="773.4" cy="359.1"/><circle cx="770.4" cy="339.3"/><circle cx="774.8" cy="340.0"/><circle cx="787.6" cy="352.5"/><circle cx="786.9" cy="351.0"/><circle cx="776.6" cy="343.2"/><circle cx="781.4" cy="352.7"/><circle cx="779.8" cy="349.0"/><circle cx="776.4" cy="344.2"/><circle cx="804.5" cy="337.6"/><circle cx="781.1" cy="349.9"/><circle cx="776.6" cy="331.9"/><circle cx="779.0" cy="340.9"/><circle cx="772.0" cy="354.8"/><circle cx="783.8" cy="340.5"/><circle cx="782.0" cy="337.7"/><circle cx="765.5" cy="352.3"/><circle cx="776.0" cy="347.7"/><circle cx="782.2" cy="335.6"/><circle cx="784.8" cy="359.0"/><circle cx="783.1" cy="331.1"/><circle cx="789.0" cy="308.4"/><circle cx="778.1" cy="325.6"/><circle cx="782.0" cy="321.3"/><circle cx="789.3" cy="334.9"/><circle cx="784.0" cy="338.4"/><circle cx="781.6" cy="330.0"/><circle cx="791.2" cy="349.1"/><circle cx="793.7" cy="337.1"/><circle cx="784.6" cy="342.7"/><circle cx="780.8" cy="337.5"/><circle cx="773.0" cy="322.7"/><circle cx="777.9" cy="323.7"/><circle cx="785.7" cy="342.9"/><circle cx="786.2" cy="335.2"/><circle cx="789.2" cy="350.0"/><circle cx="787.4" cy="334.4"/><circle cx="795.1" cy="324.6"/><circle cx="773.0" cy="321.3"/><circle cx="791.4" cy="340.0"/><circle cx="781.4" cy="309.5"/><circle cx="782.5" cy="325.9"/><circle cx="767.3" cy="350.1"/><circle cx="781.8" cy="355.1"/><circle cx="782.4" cy="345.0"/><circle cx="777.6" cy="345.3"/><circle cx="779.6" cy="345.3"/><circle cx="785.7" cy="325.0"/><circle cx="783.1" cy="340.2"/><circle cx="778.3" cy="336.4"/><circle cx="788.3" cy="353.8"/><circle cx="786.0" cy="310.6"/><circle cx="786.4" cy="361.1"/><circle cx="782.4" cy="327.6"/><circle cx="785.0" cy="341.0"/><circle cx="790.0" cy="331.2"/><circle cx="794.4" cy="350.5"/><circle cx="774.9" cy="350.3"/><circle cx="781.5" cy="346.7"/><circle cx="785.6" cy="339.2"/><circle cx="785.8" cy="333.4"/><circle cx="778.3" cy="335.0"/><circle cx="780.7" cy="342.9"/><circle cx="786.2" cy="318.7"/></g>
<ellipse cx="781.0" cy="296.5" rx="17.6" ry="28.7" transform="rotate(-3 781.0 296.5)" fill="url(#g15)" opacity="0.15"/><g class="p" fill="#a6cf90" fill-opacity="0.075" stroke="#a6cf90" stroke-opacity="0.127"><circle cx="772.7" cy="313.4"/><circle cx="797.5" cy="296.5"/><circle cx="790.6" cy="245.0"/><circle cx="783.3" cy="271.5"/><circle cx="773.0" cy="283.0"/><circle cx="772.6" cy="314.7"/><circle cx="770.2" cy="279.0"/><circle cx="781.3" cy="306.4"/><circle cx="769.8" cy="302.5"/><circle cx="777.1" cy="310.4"/><circle cx="788.5" cy="302.8"/><circle cx="773.9" cy="320.1"/><circle cx="788.4" cy="273.1"/><circle cx="778.6" cy="286.7"/><circle cx="788.1" cy="320.4"/><circle cx="791.5" cy="280.9"/><circle cx="777.3" cy="279.5"/><circle cx="790.5" cy="292.0"/><circle cx="784.9" cy="312.7"/><circle cx="766.8" cy="284.4"/><circle cx="775.6" cy="279.8"/><circle cx="792.7" cy="298.2"/><circle cx="770.5" cy="308.8"/><circle cx="782.3" cy="286.1"/><circle cx="782.1" cy="293.5"/><circle cx="793.5" cy="309.1"/><circle cx="779.3" cy="314.1"/><circle cx="787.9" cy="319.8"/><circle cx="767.7" cy="282.7"/><circle cx="783.9" cy="303.6"/><circle cx="784.2" cy="283.5"/><circle cx="773.9" cy="284.4"/><circle cx="788.7" cy="320.9"/><circle cx="781.1" cy="281.7"/><circle cx="789.4" cy="309.8"/><circle cx="785.4" cy="275.5"/><circle cx="785.6" cy="323.8"/><circle cx="771.3" cy="296.7"/><circle cx="797.1" cy="300.3"/><circle cx="777.2" cy="320.6"/><circle cx="782.6" cy="322.5"/><circle cx="791.6" cy="291.6"/><circle cx="776.5" cy="272.8"/><circle cx="782.6" cy="290.6"/><circle cx="781.0" cy="273.4"/><circle cx="790.1" cy="304.9"/><circle cx="773.7" cy="291.8"/><circle cx="775.1" cy="321.0"/><circle cx="779.1" cy="300.6"/><circle cx="789.1" cy="308.6"/><circle cx="779.2" cy="276.0"/><circle cx="777.2" cy="323.7"/><circle cx="787.1" cy="317.5"/><circle cx="787.3" cy="297.8"/><circle cx="779.2" cy="274.7"/><circle cx="790.2" cy="277.7"/><circle cx="792.4" cy="311.1"/><circle cx="781.5" cy="317.9"/><circle cx="772.3" cy="294.7"/><circle cx="781.4" cy="277.4"/><circle cx="775.1" cy="266.4"/><circle cx="780.7" cy="292.9"/><circle cx="771.9" cy="280.6"/><circle cx="790.1" cy="276.1"/><circle cx="786.7" cy="297.8"/><circle cx="789.3" cy="274.7"/><circle cx="782.8" cy="313.2"/><circle cx="778.9" cy="278.0"/><circle cx="765.9" cy="288.2"/><circle cx="789.8" cy="316.6"/><circle cx="782.2" cy="308.5"/><circle cx="789.1" cy="304.4"/><circle cx="775.3" cy="306.7"/><circle cx="773.7" cy="298.7"/><circle cx="787.9" cy="310.9"/><circle cx="781.1" cy="312.0"/><circle cx="793.4" cy="309.2"/><circle cx="781.2" cy="301.1"/><circle cx="781.5" cy="297.7"/><circle cx="787.6" cy="311.3"/><circle cx="782.0" cy="307.0"/><circle cx="783.4" cy="299.1"/><circle cx="774.3" cy="302.6"/><circle cx="780.7" cy="301.0"/><circle cx="789.5" cy="306.7"/><circle cx="786.4" cy="290.1"/><circle cx="769.0" cy="292.5"/><circle cx="781.4" cy="299.6"/><circle cx="791.7" cy="300.5"/><circle cx="791.8" cy="291.1"/><circle cx="773.8" cy="308.9"/><circle cx="771.8" cy="276.7"/><circle cx="777.4" cy="301.7"/><circle cx="789.6" cy="296.7"/><circle cx="788.1" cy="296.4"/><circle cx="768.3" cy="283.1"/><circle cx="768.6" cy="294.9"/><circle cx="764.6" cy="278.8"/><circle cx="775.6" cy="309.0"/><circle cx="784.9" cy="291.6"/><circle cx="782.5" cy="293.4"/><circle cx="800.5" cy="273.7"/><circle cx="764.6" cy="272.0"/><circle cx="770.1" cy="292.5"/><circle cx="787.8" cy="292.9"/><circle cx="778.8" cy="294.5"/><circle cx="781.7" cy="284.1"/><circle cx="785.5" cy="295.3"/><circle cx="783.0" cy="303.3"/><circle cx="785.5" cy="306.3"/><circle cx="774.6" cy="302.6"/><circle cx="767.7" cy="269.1"/><circle cx="778.1" cy="301.5"/><circle cx="784.5" cy="300.4"/><circle cx="785.7" cy="272.3"/><circle cx="776.3" cy="293.1"/><circle cx="774.8" cy="300.4"/><circle cx="785.1" cy="299.7"/></g>
<ellipse cx="743.7" cy="267.0" rx="16.5" ry="28.7" transform="rotate(-3 743.7 267.0)" fill="url(#g15)" opacity="0.15"/><g class="p" fill="#a6cf90" fill-opacity="0.075" stroke="#a6cf90" stroke-opacity="0.127"><circle cx="746.2" cy="300.0"/><circle cx="751.5" cy="281.0"/><circle cx="733.2" cy="249.0"/><circle cx="749.1" cy="311.0"/><circle cx="742.4" cy="278.6"/><circle cx="756.4" cy="265.5"/><circle cx="752.1" cy="286.3"/><circle cx="752.1" cy="250.9"/><circle cx="742.7" cy="250.4"/><circle cx="752.5" cy="274.8"/><circle cx="739.2" cy="247.5"/><circle cx="752.4" cy="275.7"/><circle cx="754.9" cy="284.1"/><circle cx="742.5" cy="274.6"/><circle cx="741.9" cy="257.2"/><circle cx="730.4" cy="274.5"/><circle cx="757.4" cy="278.8"/><circle cx="745.2" cy="264.6"/><circle cx="739.9" cy="280.3"/><circle cx="754.7" cy="281.0"/><circle cx="735.1" cy="281.7"/><circle cx="747.2" cy="257.6"/><circle cx="731.3" cy="262.0"/><circle cx="749.9" cy="249.3"/><circle cx="746.7" cy="257.3"/><circle cx="738.7" cy="243.5"/><circle cx="755.4" cy="284.1"/><circle cx="744.4" cy="294.0"/><circle cx="750.4" cy="288.8"/><circle cx="732.3" cy="262.0"/><circle cx="748.7" cy="294.7"/><circle cx="746.2" cy="278.8"/><circle cx="732.1" cy="261.6"/><circle cx="734.2" cy="271.9"/><circle cx="742.6" cy="266.6"/><circle cx="740.3" cy="256.2"/><circle cx="747.5" cy="246.6"/><circle cx="748.0" cy="274.5"/><circle cx="732.0" cy="269.2"/><circle cx="744.0" cy="270.4"/><circle cx="756.3" cy="258.0"/><circle cx="749.9" cy="258.2"/><circle cx="737.9" cy="289.1"/><circle cx="755.6" cy="264.4"/><circle cx="750.0" cy="256.4"/><circle cx="745.8" cy="253.8"/><circle cx="756.1" cy="281.9"/><circle cx="744.0" cy="278.0"/><circle cx="734.7" cy="250.0"/><circle cx="742.9" cy="277.6"/><circle cx="744.3" cy="290.0"/><circle cx="754.6" cy="267.4"/><circle cx="752.4" cy="278.6"/><circle cx="756.5" cy="253.8"/><circle cx="743.3" cy="277.3"/><circle cx="749.8" cy="292.7"/><circle cx="740.4" cy="268.2"/><circle cx="742.0" cy="263.0"/><circle cx="737.9" cy="241.7"/><circle cx="748.4" cy="262.7"/><circle cx="722.9" cy="253.8"/><circle cx="727.1" cy="259.6"/><circle cx="763.8" cy="292.6"/><circle cx="744.9" cy="255.7"/><circle cx="735.1" cy="257.6"/><circle cx="746.2" cy="283.3"/><circle cx="744.9" cy="283.4"/><circle cx="741.4" cy="239.7"/><circle cx="746.6" cy="280.3"/><circle cx="748.5" cy="281.3"/><circle cx="737.3" cy="263.9"/><circle cx="744.2" cy="271.8"/><circle cx="748.4" cy="279.8"/><circle cx="740.3" cy="253.4"/><circle cx="740.6" cy="264.7"/><circle cx="740.1" cy="255.1"/><circle cx="750.5" cy="279.6"/><circle cx="751.1" cy="277.0"/><circle cx="747.2" cy="261.1"/><circle cx="741.2" cy="271.1"/><circle cx="731.3" cy="271.1"/><circle cx="731.5" cy="291.9"/><circle cx="747.7" cy="258.7"/><circle cx="743.3" cy="260.5"/><circle cx="755.2" cy="281.2"/><circle cx="744.1" cy="260.6"/><circle cx="748.1" cy="270.6"/><circle cx="743.3" cy="260.6"/><circle cx="732.4" cy="250.0"/><circle cx="737.8" cy="246.2"/><circle cx="738.7" cy="291.0"/><circle cx="744.6" cy="276.4"/><circle cx="740.8" cy="285.1"/><circle cx="745.3" cy="277.8"/><circle cx="751.8" cy="272.7"/><circle cx="756.5" cy="254.5"/><circle cx="742.0" cy="274.0"/><circle cx="743.6" cy="273.4"/><circle cx="758.6" cy="262.7"/><circle cx="745.4" cy="260.5"/><circle cx="737.0" cy="242.5"/><circle cx="748.1" cy="285.5"/><circle cx="745.0" cy="283.2"/><circle cx="734.7" cy="265.4"/><circle cx="743.4" cy="277.0"/><circle cx="744.6" cy="274.4"/><circle cx="753.2" cy="252.2"/><circle cx="743.3" cy="272.5"/><circle cx="739.5" cy="272.3"/><circle cx="731.1" cy="254.6"/><circle cx="740.8" cy="243.5"/><circle cx="759.9" cy="290.9"/><circle cx="753.0" cy="277.7"/><circle cx="749.8" cy="263.3"/><circle cx="740.8" cy="240.4"/><circle cx="750.0" cy="264.3"/><circle cx="729.6" cy="256.8"/><circle cx="746.1" cy="245.6"/></g>
<ellipse cx="684.0" cy="261.0" rx="17.1" ry="28.7" fill="url(#g15)" opacity="0.15"/><g class="p" fill="#a6cf90" fill-opacity="0.075" stroke="#a6cf90" stroke-opacity="0.127"><circle cx="676.2" cy="250.6"/><circle cx="691.8" cy="286.4"/><circle cx="693.2" cy="244.1"/><circle cx="687.5" cy="234.5"/><circle cx="676.0" cy="245.5"/><circle cx="672.6" cy="268.1"/><circle cx="685.4" cy="233.0"/><circle cx="688.9" cy="286.1"/><circle cx="687.3" cy="254.1"/><circle cx="689.3" cy="283.8"/><circle cx="675.6" cy="268.8"/><circle cx="672.8" cy="251.0"/><circle cx="683.8" cy="279.6"/><circle cx="698.1" cy="249.5"/><circle cx="697.9" cy="264.1"/><circle cx="680.6" cy="284.0"/><circle cx="677.4" cy="253.2"/><circle cx="679.3" cy="266.0"/><circle cx="678.5" cy="259.7"/><circle cx="695.7" cy="257.9"/><circle cx="682.6" cy="278.7"/><circle cx="683.0" cy="289.5"/><circle cx="681.2" cy="278.8"/><circle cx="684.6" cy="273.9"/><circle cx="670.6" cy="274.7"/><circle cx="674.0" cy="270.5"/><circle cx="681.8" cy="235.7"/><circle cx="681.7" cy="247.2"/><circle cx="680.5" cy="281.4"/><circle cx="697.6" cy="258.9"/><circle cx="683.2" cy="289.5"/><circle cx="685.5" cy="254.9"/><circle cx="672.3" cy="263.0"/><circle cx="695.2" cy="245.8"/><circle cx="684.2" cy="276.4"/><circle cx="677.8" cy="274.3"/><circle cx="682.1" cy="274.6"/><circle cx="686.0" cy="249.6"/><circle cx="690.2" cy="249.5"/><circle cx="688.8" cy="283.6"/><circle cx="677.8" cy="254.0"/><circle cx="698.0" cy="266.5"/><circle cx="684.8" cy="248.4"/><circle cx="683.8" cy="279.8"/><circle cx="696.7" cy="276.1"/><circle cx="697.9" cy="259.7"/><circle cx="681.1" cy="234.0"/><circle cx="684.4" cy="267.4"/><circle cx="687.8" cy="246.4"/><circle cx="691.3" cy="264.5"/><circle cx="674.6" cy="280.5"/><circle cx="685.6" cy="266.6"/><circle cx="676.1" cy="256.9"/><circle cx="670.9" cy="250.3"/><circle cx="684.8" cy="243.5"/><circle cx="691.6" cy="253.9"/><circle cx="678.8" cy="274.3"/><circle cx="693.1" cy="266.4"/><circle cx="672.6" cy="272.0"/><circle cx="691.3" cy="264.9"/><circle cx="688.9" cy="275.5"/><circle cx="682.2" cy="245.1"/><circle cx="682.2" cy="269.7"/><circle cx="680.1" cy="252.6"/><circle cx="675.1" cy="268.1"/><circle cx="676.5" cy="258.4"/><circle cx="678.9" cy="278.0"/><circle cx="691.2" cy="291.0"/><circle cx="679.1" cy="248.4"/><circle cx="686.0" cy="243.3"/><circle cx="680.6" cy="270.0"/><circle cx="684.5" cy="272.2"/><circle cx="678.8" cy="255.1"/><circle cx="683.1" cy="272.1"/><circle cx="692.0" cy="276.9"/><circle cx="684.9" cy="251.8"/><circle cx="681.2" cy="261.3"/><circle cx="673.2" cy="249.0"/><circle cx="671.8" cy="265.0"/><circle cx="685.7" cy="249.2"/><circle cx="690.9" cy="262.4"/><circle cx="683.2" cy="269.9"/><circle cx="686.5" cy="247.5"/><circle cx="679.3" cy="242.6"/><circle cx="688.4" cy="259.8"/><circle cx="690.5" cy="252.0"/><circle cx="675.7" cy="275.6"/><circle cx="690.0" cy="242.3"/><circle cx="691.6" cy="251.8"/><circle cx="694.8" cy="267.7"/><circle cx="679.8" cy="258.1"/><circle cx="682.9" cy="222.9"/><circle cx="688.9" cy="257.1"/><circle cx="689.4" cy="224.5"/><circle cx="689.1" cy="261.5"/><circle cx="676.1" cy="286.7"/><circle cx="689.9" cy="249.0"/><circle cx="678.4" cy="268.8"/><circle cx="696.7" cy="267.9"/><circle cx="681.1" cy="284.6"/><circle cx="679.9" cy="278.4"/><circle cx="688.9" cy="259.6"/><circle cx="679.9" cy="253.9"/><circle cx="684.0" cy="279.2"/><circle cx="683.7" cy="249.9"/><circle cx="693.6" cy="274.7"/><circle cx="684.8" cy="277.5"/><circle cx="685.5" cy="285.1"/><circle cx="683.4" cy="251.8"/><circle cx="681.1" cy="262.9"/><circle cx="685.2" cy="254.0"/><circle cx="680.5" cy="244.3"/><circle cx="680.3" cy="282.4"/><circle cx="682.8" cy="248.5"/><circle cx="679.4" cy="251.2"/><circle cx="683.3" cy="250.1"/><circle cx="692.3" cy="250.2"/><circle cx="682.2" cy="280.1"/></g>
<ellipse cx="616.6" cy="268.6" rx="16.5" ry="26.4" fill="url(#g15)" opacity="0.18"/><g class="p" fill="#a6cf90" fill-opacity="0.075" stroke="#a6cf90" stroke-opacity="0.127"><circle cx="642.8" cy="258.2"/><circle cx="625.3" cy="258.2"/><circle cx="624.3" cy="257.4"/><circle cx="616.0" cy="223.5"/><circle cx="621.4" cy="292.3"/><circle cx="618.2" cy="249.7"/><circle cx="602.8" cy="265.7"/><circle cx="622.2" cy="258.9"/><circle cx="627.6" cy="265.0"/><circle cx="620.9" cy="287.0"/><circle cx="611.3" cy="261.2"/><circle cx="613.0" cy="243.6"/><circle cx="618.1" cy="275.8"/><circle cx="607.1" cy="274.7"/><circle cx="612.4" cy="251.2"/><circle cx="627.3" cy="286.6"/><circle cx="627.5" cy="281.9"/><circle cx="608.2" cy="272.4"/><circle cx="609.7" cy="273.9"/><circle cx="620.6" cy="250.8"/><circle cx="624.3" cy="281.2"/><circle cx="617.7" cy="293.5"/><circle cx="611.3" cy="268.8"/><circle cx="620.2" cy="244.5"/><circle cx="605.8" cy="268.8"/><circle cx="612.3" cy="256.1"/><circle cx="615.7" cy="278.7"/><circle cx="609.7" cy="268.2"/><circle cx="610.1" cy="278.4"/><circle cx="628.9" cy="256.4"/><circle cx="606.6" cy="255.9"/><circle cx="605.7" cy="264.7"/><circle cx="625.8" cy="263.0"/><circle cx="620.3" cy="277.1"/><circle cx="612.1" cy="277.3"/><circle cx="621.0" cy="265.7"/><circle cx="626.9" cy="264.8"/><circle cx="610.7" cy="284.2"/><circle cx="619.3" cy="259.5"/><circle cx="621.5" cy="266.5"/><circle cx="612.3" cy="279.2"/><circle cx="626.2" cy="278.8"/><circle cx="617.7" cy="290.9"/><circle cx="627.8" cy="268.1"/><circle cx="620.1" cy="254.4"/><circle cx="624.3" cy="277.8"/><circle cx="625.5" cy="251.2"/><circle cx="615.6" cy="287.5"/><circle cx="613.8" cy="289.9"/><circle cx="613.6" cy="258.6"/><circle cx="616.2" cy="282.9"/><circle cx="609.2" cy="273.7"/><circle cx="621.3" cy="277.4"/><circle cx="616.6" cy="294.6"/><circle cx="612.2" cy="281.5"/><circle cx="627.2" cy="253.1"/><circle cx="618.1" cy="276.6"/><circle cx="620.9" cy="269.7"/><circle cx="630.0" cy="261.0"/><circle cx="617.8" cy="283.8"/><circle cx="614.0" cy="252.5"/><circle cx="624.2" cy="240.7"/><circle cx="614.1" cy="282.8"/><circle cx="627.3" cy="267.7"/><circle cx="616.0" cy="267.1"/><circle cx="614.8" cy="267.2"/><circle cx="626.3" cy="274.6"/><circle cx="628.6" cy="275.5"/><circle cx="614.1" cy="265.4"/><circle cx="631.8" cy="261.2"/><circle cx="623.8" cy="257.0"/><circle cx="620.5" cy="264.4"/><circle cx="613.6" cy="258.2"/><circle cx="611.4" cy="270.6"/><circle cx="626.2" cy="273.4"/><circle cx="610.4" cy="274.1"/><circle cx="599.1" cy="267.6"/><circle cx="632.3" cy="239.4"/><circle cx="614.3" cy="280.6"/><circle cx="629.8" cy="283.9"/><circle cx="613.6" cy="288.8"/><circle cx="627.7" cy="264.7"/><circle cx="617.3" cy="257.8"/><circle cx="614.5" cy="285.6"/><circle cx="608.5" cy="283.4"/><circle cx="619.2" cy="273.4"/><circle cx="612.6" cy="278.1"/><circle cx="615.8" cy="266.5"/><circle cx="605.5" cy="269.1"/><circle cx="614.0" cy="279.3"/><circle cx="617.6" cy="267.8"/><circle cx="613.0" cy="261.3"/><circle cx="611.6" cy="277.2"/><circle cx="606.4" cy="250.6"/><circle cx="618.4" cy="286.1"/><circle cx="618.9" cy="266.3"/><circle cx="631.4" cy="272.4"/><circle cx="612.5" cy="270.6"/><circle cx="623.6" cy="263.7"/><circle cx="622.1" cy="264.2"/><circle cx="617.5" cy="272.1"/><circle cx="599.1" cy="283.3"/><circle cx="620.5" cy="273.5"/><circle cx="617.6" cy="265.1"/><circle cx="625.7" cy="267.9"/><circle cx="622.3" cy="247.0"/><circle cx="630.0" cy="270.4"/><circle cx="618.1" cy="255.3"/><circle cx="609.8" cy="272.7"/><circle cx="593.0" cy="282.8"/><circle cx="610.7" cy="257.6"/><circle cx="616.1" cy="290.5"/><circle cx="617.4" cy="280.6"/><circle cx="607.0" cy="259.8"/><circle cx="622.0" cy="253.1"/><circle cx="597.3" cy="258.6"/><circle cx="613.1" cy="264.3"/><circle cx="620.7" cy="274.9"/></g>
<ellipse cx="548.0" cy="294.0" rx="16.5" ry="23.5" fill="url(#g15)" opacity="0.2"/><g class="p" fill="#a6cf90" fill-opacity="0.081" stroke="#a6cf90" stroke-opacity="0.127"><circle cx="548.3" cy="301.8"/><circle cx="536.3" cy="292.3"/><circle cx="542.9" cy="291.6"/><circle cx="531.4" cy="280.8"/><circle cx="537.7" cy="291.5"/><circle cx="546.4" cy="310.7"/><circle cx="561.5" cy="288.2"/><circle cx="558.9" cy="297.7"/><circle cx="555.9" cy="276.5"/><circle cx="534.0" cy="297.6"/><circle cx="548.3" cy="289.7"/><circle cx="533.4" cy="291.5"/><circle cx="547.1" cy="305.3"/><circle cx="549.6" cy="287.2"/><circle cx="549.1" cy="312.2"/><circle cx="552.4" cy="297.4"/><circle cx="546.0" cy="307.6"/><circle cx="539.5" cy="308.2"/><circle cx="557.2" cy="299.6"/><circle cx="541.5" cy="302.3"/><circle cx="555.0" cy="294.6"/><circle cx="560.8" cy="288.4"/><circle cx="544.5" cy="308.1"/><circle cx="537.2" cy="297.5"/><circle cx="549.5" cy="286.7"/><circle cx="552.0" cy="286.0"/><circle cx="552.7" cy="296.6"/><circle cx="538.5" cy="309.8"/><circle cx="558.1" cy="281.2"/><circle cx="550.5" cy="273.4"/><circle cx="560.9" cy="282.5"/><circle cx="560.6" cy="298.3"/><circle cx="558.6" cy="307.0"/><circle cx="557.5" cy="278.6"/><circle cx="552.9" cy="275.1"/><circle cx="540.0" cy="312.7"/><circle cx="562.0" cy="296.3"/><circle cx="543.4" cy="307.0"/><circle cx="536.2" cy="280.0"/><circle cx="552.5" cy="314.9"/><circle cx="546.7" cy="310.1"/><circle cx="535.2" cy="291.2"/><circle cx="561.0" cy="301.9"/><circle cx="539.2" cy="276.9"/><circle cx="554.3" cy="283.1"/><circle cx="549.5" cy="285.7"/><circle cx="552.2" cy="276.2"/><circle cx="540.0" cy="307.0"/><circle cx="558.7" cy="288.5"/><circle cx="560.4" cy="293.0"/><circle cx="542.2" cy="309.3"/><circle cx="537.3" cy="301.3"/><circle cx="535.8" cy="293.3"/><circle cx="538.8" cy="277.8"/><circle cx="546.4" cy="296.6"/><circle cx="550.7" cy="290.0"/><circle cx="556.6" cy="297.8"/><circle cx="549.7" cy="288.1"/><circle cx="550.5" cy="302.8"/><circle cx="537.6" cy="300.3"/><circle cx="557.0" cy="304.1"/><circle cx="551.2" cy="292.6"/><circle cx="541.2" cy="285.4"/><circle cx="546.0" cy="283.8"/><circle cx="549.2" cy="289.7"/><circle cx="546.5" cy="307.5"/><circle cx="549.9" cy="302.1"/><circle cx="537.1" cy="300.9"/><circle cx="543.1" cy="311.5"/><circle cx="538.6" cy="287.1"/><circle cx="554.2" cy="316.2"/><circle cx="538.8" cy="292.8"/><circle cx="543.7" cy="311.5"/><circle cx="562.6" cy="298.4"/><circle cx="555.1" cy="289.1"/><circle cx="541.4" cy="300.9"/><circle cx="546.1" cy="303.4"/><circle cx="547.2" cy="309.0"/><circle cx="548.0" cy="295.5"/><circle cx="555.4" cy="297.3"/><circle cx="558.1" cy="289.3"/><circle cx="542.7" cy="304.6"/><circle cx="552.2" cy="289.4"/><circle cx="541.4" cy="288.3"/><circle cx="548.4" cy="292.4"/><circle cx="541.4" cy="286.1"/><circle cx="552.2" cy="306.2"/><circle cx="558.6" cy="286.9"/><circle cx="541.2" cy="300.5"/><circle cx="546.3" cy="302.3"/><circle cx="554.4" cy="290.5"/><circle cx="547.4" cy="278.2"/><circle cx="537.9" cy="301.5"/><circle cx="561.9" cy="277.0"/><circle cx="538.5" cy="289.1"/><circle cx="552.8" cy="275.0"/><circle cx="548.1" cy="307.6"/><circle cx="532.9" cy="282.0"/><circle cx="552.5" cy="305.1"/><circle cx="542.4" cy="302.6"/><circle cx="554.1" cy="279.7"/><circle cx="547.2" cy="287.9"/><circle cx="545.8" cy="295.9"/><circle cx="540.5" cy="274.5"/><circle cx="538.5" cy="280.3"/><circle cx="546.4" cy="303.0"/><circle cx="544.3" cy="286.4"/><circle cx="544.3" cy="301.3"/><circle cx="546.9" cy="294.0"/><circle cx="543.2" cy="293.1"/><circle cx="545.1" cy="305.2"/><circle cx="548.1" cy="305.9"/></g>
<ellipse cx="482.0" cy="326.5" rx="16.3" ry="21.8" fill="url(#g15)" opacity="0.23"/><g class="p" fill="#a6cf90" fill-opacity="0.089" stroke="#a6cf90" stroke-opacity="0.127"><circle cx="483.6" cy="323.9"/><circle cx="496.2" cy="343.2"/><circle cx="484.6" cy="323.2"/><circle cx="481.7" cy="346.8"/><circle cx="475.8" cy="318.8"/><circle cx="476.7" cy="343.0"/><circle cx="475.7" cy="320.0"/><circle cx="494.7" cy="323.1"/><circle cx="482.4" cy="315.2"/><circle cx="483.6" cy="311.2"/><circle cx="491.8" cy="330.8"/><circle cx="476.4" cy="317.5"/><circle cx="472.8" cy="341.0"/><circle cx="492.8" cy="338.9"/><circle cx="480.1" cy="310.9"/><circle cx="481.3" cy="334.2"/><circle cx="479.6" cy="339.9"/><circle cx="481.1" cy="327.5"/><circle cx="489.4" cy="338.0"/><circle cx="489.9" cy="321.3"/><circle cx="496.1" cy="329.8"/><circle cx="479.3" cy="315.0"/><circle cx="481.3" cy="322.9"/><circle cx="477.5" cy="309.0"/><circle cx="475.1" cy="309.0"/><circle cx="471.3" cy="325.9"/><circle cx="476.0" cy="341.8"/><circle cx="492.4" cy="312.6"/><circle cx="470.6" cy="325.2"/><circle cx="483.4" cy="336.5"/><circle cx="470.7" cy="330.5"/><circle cx="468.5" cy="331.3"/><circle cx="484.9" cy="330.4"/><circle cx="473.1" cy="317.2"/><circle cx="493.4" cy="319.6"/><circle cx="481.0" cy="320.7"/><circle cx="477.2" cy="312.0"/><circle cx="485.8" cy="331.3"/><circle cx="481.4" cy="320.8"/><circle cx="490.0" cy="310.9"/><circle cx="474.4" cy="310.6"/><circle cx="478.8" cy="326.1"/><circle cx="477.0" cy="313.9"/><circle cx="482.4" cy="329.5"/><circle cx="488.6" cy="337.1"/><circle cx="487.5" cy="332.5"/><circle cx="489.8" cy="331.9"/><circle cx="488.1" cy="315.4"/><circle cx="491.0" cy="311.8"/><circle cx="473.4" cy="331.3"/><circle cx="474.3" cy="342.6"/><circle cx="478.7" cy="338.4"/><circle cx="483.3" cy="328.9"/><circle cx="474.4" cy="325.8"/><circle cx="490.6" cy="346.0"/><circle cx="485.5" cy="342.8"/><circle cx="493.7" cy="347.4"/><circle cx="487.5" cy="320.9"/><circle cx="483.5" cy="338.8"/><circle cx="478.4" cy="326.5"/><circle cx="476.5" cy="321.3"/><circle cx="472.3" cy="338.2"/><circle cx="477.5" cy="327.7"/><circle cx="485.7" cy="323.7"/><circle cx="474.6" cy="320.7"/><circle cx="474.7" cy="327.6"/><circle cx="477.7" cy="337.4"/><circle cx="479.5" cy="331.6"/><circle cx="475.5" cy="308.9"/><circle cx="479.6" cy="335.7"/><circle cx="488.6" cy="338.1"/><circle cx="479.0" cy="322.8"/><circle cx="482.7" cy="323.0"/><circle cx="485.6" cy="334.5"/><circle cx="488.3" cy="318.5"/><circle cx="492.0" cy="307.6"/><circle cx="479.5" cy="320.8"/><circle cx="481.4" cy="323.4"/><circle cx="489.4" cy="318.5"/><circle cx="486.7" cy="314.9"/><circle cx="481.5" cy="329.6"/><circle cx="488.4" cy="314.6"/><circle cx="466.6" cy="342.7"/><circle cx="475.3" cy="323.2"/><circle cx="480.5" cy="339.7"/><circle cx="486.7" cy="337.9"/><circle cx="490.9" cy="331.1"/><circle cx="480.2" cy="339.3"/><circle cx="488.7" cy="329.3"/><circle cx="469.2" cy="320.4"/><circle cx="484.9" cy="321.6"/><circle cx="488.3" cy="352.2"/><circle cx="482.6" cy="329.9"/><circle cx="487.9" cy="343.8"/><circle cx="467.2" cy="321.5"/><circle cx="491.7" cy="326.0"/><circle cx="470.0" cy="331.6"/><circle cx="472.8" cy="335.4"/><circle cx="488.7" cy="322.7"/><circle cx="473.9" cy="331.5"/><circle cx="479.5" cy="323.6"/><circle cx="477.9" cy="321.6"/><circle cx="475.2" cy="334.7"/><circle cx="489.8" cy="318.0"/><circle cx="473.1" cy="333.9"/></g>
<ellipse cx="430.0" cy="361.0" rx="14.6" ry="18.6" fill="url(#g15)" opacity="0.28"/><g class="p" fill="#a6cf90" fill-opacity="0.094" stroke="#a6cf90" stroke-opacity="0.127"><circle cx="441.9" cy="360.7"/><circle cx="424.6" cy="383.3"/><circle cx="430.3" cy="363.3"/><circle cx="433.3" cy="347.3"/><circle cx="432.8" cy="367.3"/><circle cx="432.5" cy="346.5"/><circle cx="425.8" cy="349.9"/><circle cx="426.7" cy="372.8"/><circle cx="426.1" cy="375.3"/><circle cx="436.4" cy="358.3"/><circle cx="419.1" cy="357.2"/><circle cx="432.8" cy="357.1"/><circle cx="417.6" cy="362.8"/><circle cx="441.6" cy="365.9"/><circle cx="420.2" cy="369.3"/><circle cx="423.9" cy="364.5"/><circle cx="420.9" cy="363.9"/><circle cx="438.3" cy="348.3"/><circle cx="419.6" cy="363.4"/><circle cx="435.0" cy="376.8"/><circle cx="433.2" cy="356.9"/><circle cx="432.5" cy="366.2"/><circle cx="431.1" cy="362.6"/><circle cx="426.1" cy="373.7"/><circle cx="440.1" cy="369.2"/><circle cx="424.1" cy="364.7"/><circle cx="426.0" cy="376.0"/><circle cx="436.6" cy="354.3"/><circle cx="424.1" cy="350.8"/><circle cx="424.5" cy="363.1"/><circle cx="431.4" cy="358.9"/><circle cx="420.6" cy="361.5"/><circle cx="435.3" cy="354.4"/><circle cx="419.8" cy="350.6"/><circle cx="418.4" cy="360.0"/><circle cx="428.9" cy="343.8"/><circle cx="423.6" cy="360.7"/><circle cx="438.4" cy="371.4"/><circle cx="424.8" cy="376.8"/><circle cx="432.6" cy="368.2"/><circle cx="427.7" cy="370.8"/><circle cx="439.7" cy="357.6"/><circle cx="428.1" cy="376.6"/><circle cx="431.1" cy="364.7"/><circle cx="421.8" cy="359.0"/><circle cx="427.1" cy="367.0"/><circle cx="438.2" cy="358.9"/><circle cx="430.8" cy="356.0"/><circle cx="440.1" cy="351.6"/><circle cx="431.6" cy="359.3"/><circle cx="418.4" cy="359.6"/><circle cx="426.2" cy="374.1"/><circle cx="426.8" cy="363.4"/><circle cx="434.7" cy="351.7"/><circle cx="422.9" cy="371.1"/><circle cx="437.1" cy="347.3"/><circle cx="430.3" cy="371.7"/><circle cx="425.0" cy="361.1"/><circle cx="430.4" cy="357.9"/><circle cx="426.6" cy="339.1"/><circle cx="422.9" cy="357.7"/><circle cx="430.9" cy="374.9"/><circle cx="444.4" cy="371.7"/><circle cx="430.8" cy="351.7"/><circle cx="428.5" cy="369.3"/><circle cx="428.8" cy="362.6"/><circle cx="437.3" cy="353.2"/><circle cx="425.5" cy="372.8"/><circle cx="433.1" cy="368.5"/><circle cx="431.5" cy="352.6"/><circle cx="437.8" cy="357.6"/><circle cx="432.9" cy="365.6"/><circle cx="432.7" cy="351.7"/><circle cx="432.9" cy="350.5"/><circle cx="431.9" cy="357.7"/><circle cx="439.0" cy="356.1"/><circle cx="429.0" cy="359.6"/><circle cx="418.4" cy="358.9"/><circle cx="429.6" cy="354.4"/><circle cx="428.8" cy="362.9"/><circle cx="432.1" cy="365.1"/><circle cx="436.1" cy="369.9"/><circle cx="428.1" cy="363.4"/><circle cx="429.6" cy="357.0"/><circle cx="426.8" cy="352.0"/><circle cx="430.9" cy="368.4"/><circle cx="427.2" cy="356.8"/><circle cx="424.3" cy="350.0"/><circle cx="423.2" cy="362.0"/><circle cx="419.8" cy="373.5"/><circle cx="434.5" cy="360.9"/><circle cx="426.1" cy="367.8"/><circle cx="427.7" cy="376.2"/><circle cx="428.9" cy="364.3"/><circle cx="424.7" cy="369.4"/><circle cx="432.7" cy="364.7"/><circle cx="439.7" cy="353.7"/><circle cx="418.8" cy="344.9"/></g>
<path d="M712.0,424.0L755.0,385.0L781.0,337.0L771.5,298.0L736.0,271.4L677.8,265.0L613.0,272.4L546.0,294.5L481.6,327.0L429.7,361.0L389.0,396.0" fill="none" stroke="#e8a422" stroke-width="1.1" stroke-linejoin="round"/>
<ellipse cx="389.0" cy="396.0" rx="12.3" ry="14.2" fill="url(#g15)" opacity="0.42"/><g class="p" fill="#a6cf90" fill-opacity="0.07" stroke="#a6cf90" stroke-opacity="0.09"><circle cx="378.8" cy="391.6"/><circle cx="397.0" cy="384.1"/><circle cx="389.2" cy="412.7"/><circle cx="391.9" cy="393.9"/><circle cx="382.8" cy="381.7"/><circle cx="382.3" cy="405.1"/><circle cx="388.7" cy="383.9"/><circle cx="384.7" cy="389.3"/><circle cx="391.4" cy="397.2"/><circle cx="393.8" cy="400.1"/><circle cx="382.9" cy="394.5"/><circle cx="396.0" cy="396.8"/><circle cx="385.0" cy="390.8"/><circle cx="393.4" cy="385.7"/><circle cx="395.3" cy="389.7"/><circle cx="390.3" cy="383.8"/><circle cx="395.8" cy="398.6"/><circle cx="390.1" cy="402.4"/><circle cx="382.4" cy="402.9"/><circle cx="396.1" cy="392.9"/><circle cx="390.6" cy="385.0"/><circle cx="384.9" cy="395.5"/><circle cx="392.2" cy="403.8"/><circle cx="380.2" cy="389.9"/><circle cx="387.5" cy="399.6"/><circle cx="386.0" cy="400.2"/><circle cx="394.0" cy="394.7"/><circle cx="385.3" cy="404.6"/><circle cx="380.4" cy="398.6"/><circle cx="383.7" cy="402.7"/><circle cx="390.7" cy="402.7"/><circle cx="398.8" cy="398.3"/><circle cx="388.7" cy="399.9"/><circle cx="390.4" cy="402.7"/><circle cx="390.2" cy="402.6"/><circle cx="391.2" cy="401.8"/><circle cx="387.2" cy="391.7"/><circle cx="380.8" cy="403.2"/><circle cx="381.8" cy="404.6"/><circle cx="396.9" cy="397.7"/><circle cx="398.6" cy="397.9"/><circle cx="394.5" cy="395.1"/><circle cx="396.4" cy="388.5"/><circle cx="395.3" cy="388.4"/><circle cx="379.9" cy="397.9"/><circle cx="393.4" cy="387.0"/><circle cx="388.4" cy="395.0"/><circle cx="394.3" cy="404.6"/><circle cx="383.2" cy="392.6"/><circle cx="381.6" cy="391.9"/><circle cx="388.3" cy="402.1"/><circle cx="381.5" cy="388.5"/><circle cx="380.7" cy="389.2"/><circle cx="393.7" cy="405.0"/><circle cx="396.4" cy="403.9"/><circle cx="383.8" cy="388.3"/><circle cx="389.5" cy="388.0"/><circle cx="383.8" cy="385.9"/><circle cx="380.4" cy="390.7"/><circle cx="386.3" cy="391.8"/><circle cx="381.3" cy="394.9"/><circle cx="387.2" cy="397.9"/><circle cx="389.7" cy="396.7"/><circle cx="385.4" cy="395.3"/><circle cx="398.5" cy="395.6"/><circle cx="387.6" cy="400.5"/><circle cx="387.9" cy="394.9"/><circle cx="386.1" cy="382.5"/><circle cx="392.1" cy="395.4"/><circle cx="393.2" cy="414.0"/><circle cx="387.6" cy="399.7"/><circle cx="387.6" cy="392.1"/><circle cx="385.5" cy="394.2"/><circle cx="389.4" cy="406.2"/><circle cx="391.0" cy="393.1"/><circle cx="393.9" cy="391.1"/><circle cx="392.6" cy="397.6"/><circle cx="386.7" cy="398.9"/><circle cx="394.5" cy="399.9"/><circle cx="380.4" cy="386.2"/><circle cx="388.6" cy="394.5"/><circle cx="382.4" cy="400.5"/><circle cx="391.4" cy="403.1"/><circle cx="390.5" cy="406.0"/><circle cx="386.1" cy="393.9"/><circle cx="392.2" cy="398.3"/><circle cx="381.9" cy="391.7"/><circle cx="391.9" cy="396.9"/><circle cx="385.7" cy="394.5"/><circle cx="388.4" cy="394.9"/><circle cx="391.3" cy="399.9"/><circle cx="385.5" cy="409.3"/><circle cx="390.5" cy="395.4"/><circle cx="398.0" cy="396.2"/><circle cx="383.6" cy="388.7"/><circle cx="386.3" cy="392.6"/><circle cx="380.9" cy="393.9"/><circle cx="385.0" cy="403.4"/><circle cx="391.2" cy="391.3"/><circle cx="393.9" cy="395.0"/><circle cx="379.7" cy="395.9"/><circle cx="395.9" cy="396.5"/><circle cx="386.2" cy="396.5"/><circle cx="386.3" cy="399.5"/><circle cx="390.4" cy="394.3"/><circle cx="393.0" cy="405.8"/><circle cx="390.7" cy="403.5"/><circle cx="393.1" cy="395.2"/><circle cx="389.4" cy="404.7"/><circle cx="391.1" cy="401.8"/><circle cx="381.9" cy="400.6"/><circle cx="381.1" cy="407.5"/><circle cx="390.7" cy="401.4"/><circle cx="386.1" cy="395.9"/><circle cx="384.1" cy="390.9"/><circle cx="390.3" cy="394.3"/><circle cx="387.8" cy="395.3"/><circle cx="395.7" cy="402.0"/><circle cx="398.2" cy="395.0"/><circle cx="386.6" cy="397.7"/><circle cx="392.9" cy="388.4"/><circle cx="392.4" cy="394.7"/><circle cx="391.6" cy="398.2"/><circle cx="388.0" cy="392.0"/><circle cx="388.1" cy="402.7"/><circle cx="381.2" cy="397.4"/><circle cx="388.6" cy="395.3"/><circle cx="390.2" cy="398.8"/><circle cx="389.3" cy="403.9"/><circle cx="387.9" cy="408.8"/></g>
<ellipse cx="358.6" cy="426.0" rx="10.4" ry="11.8" fill="url(#g15)" opacity="0.6"/><g class="p" fill="#a6cf90" fill-opacity="0.09" stroke="#a6cf90" stroke-opacity="0.09"><circle cx="359.6" cy="425.0"/><circle cx="351.6" cy="415.3"/><circle cx="348.2" cy="429.5"/><circle cx="358.6" cy="428.6"/><circle cx="360.3" cy="416.8"/><circle cx="355.6" cy="433.2"/><circle cx="359.1" cy="417.9"/><circle cx="362.8" cy="431.7"/><circle cx="362.6" cy="420.6"/><circle cx="355.8" cy="426.3"/><circle cx="352.7" cy="427.3"/><circle cx="360.1" cy="430.1"/><circle cx="359.6" cy="421.9"/><circle cx="354.1" cy="426.4"/><circle cx="357.6" cy="432.7"/><circle cx="360.6" cy="434.9"/><circle cx="355.9" cy="424.2"/><circle cx="363.4" cy="427.8"/><circle cx="356.1" cy="429.0"/><circle cx="365.4" cy="429.2"/><circle cx="361.4" cy="422.7"/><circle cx="354.4" cy="430.3"/><circle cx="363.2" cy="428.6"/><circle cx="352.3" cy="425.5"/><circle cx="358.9" cy="429.0"/><circle cx="353.2" cy="421.5"/><circle cx="361.1" cy="418.4"/><circle cx="354.8" cy="423.8"/><circle cx="362.9" cy="417.9"/><circle cx="353.1" cy="421.3"/><circle cx="359.6" cy="422.2"/><circle cx="354.9" cy="429.4"/><circle cx="357.6" cy="422.9"/><circle cx="356.3" cy="431.4"/><circle cx="358.4" cy="424.5"/><circle cx="363.3" cy="420.1"/><circle cx="356.4" cy="435.2"/><circle cx="350.8" cy="426.8"/><circle cx="355.4" cy="427.7"/><circle cx="362.2" cy="431.2"/><circle cx="355.1" cy="432.3"/><circle cx="355.0" cy="431.4"/><circle cx="362.2" cy="420.3"/><circle cx="357.9" cy="423.5"/><circle cx="362.4" cy="431.1"/><circle cx="362.3" cy="431.9"/><circle cx="357.7" cy="433.0"/><circle cx="352.1" cy="420.3"/><circle cx="359.3" cy="433.3"/><circle cx="362.2" cy="431.7"/><circle cx="357.6" cy="425.2"/><circle cx="356.5" cy="425.2"/><circle cx="360.2" cy="421.9"/><circle cx="358.8" cy="423.4"/><circle cx="361.9" cy="431.3"/><circle cx="360.9" cy="430.4"/><circle cx="356.5" cy="424.2"/><circle cx="359.2" cy="424.4"/><circle cx="360.7" cy="425.0"/><circle cx="353.5" cy="421.2"/><circle cx="359.5" cy="436.8"/><circle cx="358.9" cy="418.7"/><circle cx="359.4" cy="422.6"/><circle cx="353.3" cy="437.9"/><circle cx="367.8" cy="425.6"/><circle cx="358.3" cy="424.5"/><circle cx="361.7" cy="429.7"/><circle cx="362.7" cy="420.9"/><circle cx="357.4" cy="429.6"/><circle cx="359.1" cy="419.1"/><circle cx="358.5" cy="430.5"/><circle cx="350.2" cy="433.0"/><circle cx="357.9" cy="432.8"/><circle cx="362.3" cy="427.7"/><circle cx="358.2" cy="425.2"/><circle cx="355.9" cy="426.6"/><circle cx="359.9" cy="419.0"/><circle cx="356.1" cy="414.9"/><circle cx="352.4" cy="422.2"/><circle cx="360.3" cy="425.8"/><circle cx="358.8" cy="423.6"/><circle cx="354.0" cy="429.6"/><circle cx="361.1" cy="420.4"/><circle cx="357.2" cy="427.4"/><circle cx="354.2" cy="422.0"/><circle cx="360.1" cy="426.3"/><circle cx="362.1" cy="424.4"/><circle cx="360.9" cy="428.3"/><circle cx="365.9" cy="422.4"/><circle cx="358.3" cy="421.4"/><circle cx="360.9" cy="429.2"/><circle cx="365.1" cy="425.1"/><circle cx="361.9" cy="427.1"/><circle cx="365.3" cy="426.4"/><circle cx="358.0" cy="430.1"/><circle cx="358.4" cy="423.0"/><circle cx="351.9" cy="428.4"/><circle cx="363.6" cy="426.8"/><circle cx="362.7" cy="424.5"/><circle cx="361.7" cy="430.2"/></g>
<ellipse cx="389.0" cy="396.0" rx="8.1" ry="8.9" fill="url(#g19)" opacity="0.75"/><g class="p" fill="#e9a03c" fill-opacity="0.12"><circle cx="382.0" cy="383.9"/><circle cx="388.9" cy="402.2"/><circle cx="390.3" cy="396.4"/><circle cx="386.8" cy="391.6"/><circle cx="389.5" cy="390.1"/><circle cx="389.7" cy="394.2"/><circle cx="387.7" cy="399.0"/><circle cx="387.9" cy="395.7"/><circle cx="385.7" cy="393.3"/><circle cx="388.8" cy="398.0"/><circle cx="387.3" cy="391.6"/><circle cx="388.2" cy="395.7"/><circle cx="390.6" cy="401.2"/><circle cx="387.0" cy="394.6"/><circle cx="393.0" cy="393.4"/><circle cx="388.7" cy="395.9"/><circle cx="391.4" cy="399.2"/><circle cx="386.9" cy="398.9"/><circle cx="388.4" cy="395.6"/><circle cx="389.4" cy="398.9"/><circle cx="388.7" cy="397.5"/><circle cx="387.0" cy="391.6"/><circle cx="386.0" cy="396.8"/><circle cx="389.3" cy="396.5"/><circle cx="385.4" cy="393.7"/></g>
<ellipse cx="358.6" cy="426.0" rx="7.0" ry="7.5" fill="url(#g19)" opacity="0.9"/><g class="p" fill="#e9a03c" fill-opacity="0.2"><circle cx="353.4" cy="425.4"/><circle cx="361.0" cy="426.8"/><circle cx="355.1" cy="424.7"/><circle cx="357.1" cy="425.2"/><circle cx="355.7" cy="427.0"/><circle cx="362.9" cy="425.2"/><circle cx="360.5" cy="428.8"/><circle cx="357.8" cy="421.9"/><circle cx="358.1" cy="426.0"/><circle cx="356.3" cy="424.8"/><circle cx="360.7" cy="428.1"/><circle cx="359.6" cy="427.8"/><circle cx="361.4" cy="425.6"/><circle cx="357.1" cy="426.3"/><circle cx="359.0" cy="424.4"/></g>
<ellipse cx="854.5" cy="534.4" rx="16.9" ry="10.0" transform="rotate(-5 854.5 534.4)" fill="url(#g7)" opacity="0.46"/><g class="p" fill="#dc68a9" fill-opacity="0.078" stroke="#dc68a9" stroke-opacity="0.102"><circle cx="850.4" cy="536.5"/><circle cx="853.2" cy="542.1"/><circle cx="867.8" cy="526.7"/><circle cx="857.5" cy="532.4"/><circle cx="839.8" cy="539.5"/><circle cx="853.1" cy="537.1"/><circle cx="856.2" cy="540.4"/><circle cx="848.9" cy="531.8"/><circle cx="857.2" cy="527.0"/><circle cx="859.5" cy="531.4"/><circle cx="855.0" cy="526.8"/><circle cx="864.4" cy="539.4"/><circle cx="848.4" cy="528.4"/><circle cx="852.3" cy="539.2"/><circle cx="839.5" cy="535.4"/><circle cx="859.3" cy="536.8"/><circle cx="844.6" cy="537.2"/><circle cx="848.1" cy="530.3"/><circle cx="859.0" cy="535.9"/><circle cx="841.2" cy="531.5"/><circle cx="859.2" cy="531.8"/><circle cx="843.9" cy="534.4"/><circle cx="852.6" cy="536.6"/><circle cx="857.1" cy="538.1"/><circle cx="840.9" cy="537.2"/><circle cx="844.8" cy="539.2"/><circle cx="850.9" cy="530.3"/><circle cx="853.2" cy="528.3"/><circle cx="852.2" cy="531.6"/><circle cx="854.6" cy="528.1"/><circle cx="857.5" cy="527.0"/><circle cx="854.1" cy="533.5"/><circle cx="854.9" cy="538.6"/><circle cx="847.4" cy="533.2"/><circle cx="851.1" cy="536.2"/><circle cx="867.9" cy="536.7"/><circle cx="845.3" cy="530.5"/><circle cx="862.5" cy="538.4"/><circle cx="849.3" cy="529.3"/><circle cx="842.1" cy="534.0"/><circle cx="862.1" cy="535.5"/><circle cx="848.6" cy="536.6"/><circle cx="850.4" cy="534.1"/><circle cx="854.8" cy="537.4"/><circle cx="860.6" cy="532.4"/><circle cx="867.4" cy="531.2"/><circle cx="861.7" cy="536.5"/><circle cx="852.1" cy="529.9"/><circle cx="842.8" cy="538.4"/><circle cx="861.5" cy="527.2"/><circle cx="859.0" cy="533.0"/><circle cx="842.7" cy="535.4"/><circle cx="847.5" cy="531.3"/><circle cx="850.3" cy="537.2"/><circle cx="849.6" cy="530.9"/><circle cx="868.1" cy="532.8"/><circle cx="850.8" cy="538.2"/><circle cx="865.9" cy="534.5"/><circle cx="864.7" cy="532.6"/><circle cx="856.6" cy="534.4"/><circle cx="848.5" cy="528.3"/><circle cx="841.7" cy="532.1"/><circle cx="843.2" cy="539.4"/><circle cx="863.5" cy="531.4"/><circle cx="862.2" cy="537.2"/><circle cx="855.9" cy="540.6"/><circle cx="861.2" cy="527.0"/><circle cx="865.4" cy="533.7"/><circle cx="854.2" cy="538.7"/><circle cx="860.1" cy="538.6"/><circle cx="844.5" cy="538.1"/><circle cx="852.9" cy="528.4"/><circle cx="868.6" cy="531.0"/><circle cx="855.4" cy="540.2"/><circle cx="868.5" cy="533.8"/><circle cx="859.1" cy="531.6"/><circle cx="857.4" cy="537.1"/><circle cx="859.8" cy="530.8"/><circle cx="847.6" cy="535.2"/><circle cx="848.1" cy="544.0"/><circle cx="848.7" cy="532.2"/><circle cx="859.1" cy="532.4"/><circle cx="837.9" cy="535.4"/><circle cx="847.4" cy="533.2"/><circle cx="842.8" cy="532.2"/><circle cx="853.2" cy="534.2"/><circle cx="846.2" cy="532.5"/><circle cx="848.3" cy="535.3"/><circle cx="852.8" cy="529.9"/><circle cx="858.5" cy="531.4"/><circle cx="856.6" cy="530.8"/><circle cx="856.2" cy="533.6"/><circle cx="854.6" cy="536.0"/><circle cx="857.2" cy="534.5"/><circle cx="854.8" cy="529.6"/><circle cx="852.9" cy="526.5"/><circle cx="838.1" cy="534.5"/><circle cx="852.9" cy="539.7"/><circle cx="859.1" cy="537.7"/><circle cx="852.0" cy="536.0"/><circle cx="862.5" cy="535.4"/><circle cx="856.7" cy="534.4"/><circle cx="847.4" cy="531.7"/><circle cx="844.2" cy="536.6"/><circle cx="852.1" cy="532.1"/><circle cx="856.6" cy="532.1"/><circle cx="862.3" cy="540.4"/><circle cx="857.3" cy="531.6"/><circle cx="844.3" cy="542.4"/><circle cx="857.1" cy="529.9"/><circle cx="861.4" cy="527.8"/><circle cx="851.1" cy="533.8"/><circle cx="851.4" cy="530.5"/><circle cx="871.2" cy="531.4"/><circle cx="857.1" cy="534.2"/><circle cx="842.8" cy="533.4"/><circle cx="856.1" cy="537.5"/><circle cx="852.0" cy="535.9"/><circle cx="852.1" cy="536.6"/><circle cx="837.0" cy="538.0"/><circle cx="849.8" cy="532.7"/><circle cx="833.8" cy="532.3"/><circle cx="859.5" cy="542.2"/><circle cx="849.2" cy="532.4"/><circle cx="858.0" cy="535.1"/><circle cx="850.2" cy="534.1"/><circle cx="851.9" cy="536.8"/><circle cx="860.6" cy="540.1"/><circle cx="861.2" cy="536.2"/><circle cx="855.9" cy="537.6"/><circle cx="848.1" cy="542.7"/><circle cx="856.9" cy="539.2"/><circle cx="849.1" cy="538.6"/><circle cx="857.3" cy="533.5"/><circle cx="849.4" cy="531.7"/><circle cx="867.7" cy="537.6"/><circle cx="855.4" cy="535.0"/><circle cx="848.7" cy="528.3"/><circle cx="841.5" cy="533.3"/><circle cx="853.0" cy="530.3"/><circle cx="860.4" cy="535.7"/><circle cx="855.1" cy="528.0"/><circle cx="853.0" cy="534.4"/><circle cx="844.8" cy="527.4"/><circle cx="868.4" cy="535.4"/><circle cx="852.2" cy="540.4"/><circle cx="862.6" cy="535.3"/><circle cx="856.4" cy="537.0"/><circle cx="865.0" cy="533.7"/><circle cx="853.0" cy="536.6"/></g>
<ellipse cx="908.3" cy="476.9" rx="13.1" ry="12.7" fill="url(#g8)" opacity="0.43"/><g class="p" fill="#d860a5" fill-opacity="0.066" stroke="#d860a5" stroke-opacity="0.111"><circle cx="895.8" cy="478.7"/><circle cx="905.9" cy="474.9"/><circle cx="898.9" cy="467.6"/><circle cx="903.0" cy="480.7"/><circle cx="910.8" cy="471.4"/><circle cx="910.7" cy="491.0"/><circle cx="904.4" cy="483.9"/><circle cx="914.5" cy="477.1"/><circle cx="900.0" cy="483.1"/><circle cx="902.6" cy="470.6"/><circle cx="906.3" cy="471.4"/><circle cx="906.3" cy="468.4"/><circle cx="908.2" cy="478.6"/><circle cx="915.5" cy="473.3"/><circle cx="900.5" cy="474.7"/><circle cx="909.1" cy="479.6"/><circle cx="916.7" cy="473.5"/><circle cx="907.5" cy="475.5"/><circle cx="906.3" cy="472.6"/><circle cx="900.8" cy="471.1"/><circle cx="915.4" cy="477.0"/><circle cx="899.3" cy="474.0"/><circle cx="906.9" cy="469.1"/><circle cx="904.5" cy="470.6"/><circle cx="910.2" cy="485.0"/><circle cx="906.7" cy="477.1"/><circle cx="908.2" cy="476.3"/><circle cx="917.1" cy="470.9"/><circle cx="909.5" cy="485.8"/><circle cx="904.0" cy="474.9"/><circle cx="916.8" cy="480.7"/><circle cx="913.2" cy="486.1"/><circle cx="900.9" cy="483.7"/><circle cx="917.2" cy="477.8"/><circle cx="903.4" cy="483.1"/><circle cx="914.4" cy="470.7"/><circle cx="906.8" cy="481.2"/><circle cx="912.7" cy="482.7"/><circle cx="916.6" cy="483.0"/><circle cx="901.9" cy="474.8"/><circle cx="903.6" cy="480.1"/><circle cx="902.6" cy="471.4"/><circle cx="900.1" cy="482.5"/><circle cx="898.0" cy="475.2"/><circle cx="899.0" cy="482.9"/><circle cx="905.7" cy="487.2"/><circle cx="912.0" cy="477.1"/><circle cx="906.8" cy="484.0"/><circle cx="907.9" cy="468.9"/><circle cx="903.1" cy="484.2"/><circle cx="908.8" cy="473.3"/><circle cx="914.8" cy="478.6"/><circle cx="906.3" cy="470.6"/><circle cx="912.3" cy="469.4"/><circle cx="908.6" cy="483.4"/><circle cx="903.7" cy="481.1"/><circle cx="907.9" cy="481.5"/><circle cx="899.9" cy="480.3"/><circle cx="913.7" cy="474.0"/><circle cx="906.6" cy="472.3"/><circle cx="916.8" cy="483.2"/><circle cx="915.2" cy="476.8"/><circle cx="905.7" cy="471.7"/><circle cx="909.6" cy="473.9"/><circle cx="912.6" cy="470.4"/><circle cx="914.0" cy="473.9"/><circle cx="909.7" cy="468.8"/><circle cx="907.5" cy="482.8"/><circle cx="908.2" cy="469.5"/><circle cx="906.3" cy="473.5"/><circle cx="905.9" cy="478.2"/><circle cx="915.7" cy="469.3"/><circle cx="917.9" cy="477.6"/><circle cx="901.1" cy="476.7"/><circle cx="912.0" cy="473.7"/><circle cx="909.2" cy="472.3"/><circle cx="913.7" cy="478.9"/><circle cx="912.6" cy="482.1"/><circle cx="915.5" cy="482.0"/><circle cx="907.8" cy="477.3"/><circle cx="910.4" cy="476.3"/><circle cx="907.0" cy="486.1"/><circle cx="910.8" cy="486.3"/><circle cx="904.3" cy="476.7"/><circle cx="906.0" cy="474.9"/><circle cx="906.8" cy="476.3"/><circle cx="906.0" cy="485.8"/><circle cx="911.8" cy="473.2"/><circle cx="905.5" cy="480.6"/><circle cx="911.1" cy="473.9"/><circle cx="913.0" cy="469.8"/><circle cx="905.9" cy="485.4"/><circle cx="894.9" cy="475.9"/><circle cx="913.4" cy="476.2"/><circle cx="904.3" cy="472.5"/><circle cx="897.6" cy="470.3"/><circle cx="908.6" cy="474.1"/><circle cx="908.2" cy="476.2"/><circle cx="909.8" cy="468.7"/><circle cx="906.7" cy="475.2"/><circle cx="906.7" cy="472.5"/><circle cx="897.0" cy="480.0"/><circle cx="912.5" cy="488.6"/><circle cx="912.1" cy="485.0"/><circle cx="911.4" cy="475.0"/><circle cx="910.8" cy="471.1"/><circle cx="909.5" cy="476.4"/><circle cx="902.9" cy="482.9"/><circle cx="914.1" cy="479.2"/><circle cx="912.5" cy="485.1"/><circle cx="907.6" cy="470.2"/><circle cx="903.4" cy="480.4"/><circle cx="909.5" cy="469.5"/><circle cx="915.1" cy="478.0"/><circle cx="916.6" cy="482.5"/><circle cx="906.1" cy="477.4"/><circle cx="904.5" cy="472.8"/><circle cx="906.8" cy="479.4"/><circle cx="915.4" cy="472.5"/><circle cx="912.0" cy="477.2"/><circle cx="907.2" cy="482.6"/><circle cx="906.6" cy="483.8"/><circle cx="906.7" cy="472.4"/><circle cx="912.4" cy="469.8"/><circle cx="902.3" cy="476.1"/><circle cx="908.4" cy="475.7"/><circle cx="898.2" cy="470.4"/><circle cx="911.1" cy="479.7"/><circle cx="903.2" cy="478.4"/><circle cx="909.5" cy="482.1"/><circle cx="904.7" cy="484.3"/><circle cx="906.9" cy="484.2"/><circle cx="913.3" cy="472.0"/><circle cx="906.9" cy="478.5"/><circle cx="913.7" cy="470.2"/><circle cx="905.9" cy="480.2"/><circle cx="911.0" cy="471.8"/><circle cx="903.8" cy="479.2"/><circle cx="903.2" cy="478.2"/><circle cx="913.2" cy="477.1"/><circle cx="894.6" cy="482.9"/><circle cx="914.4" cy="484.1"/><circle cx="912.9" cy="468.7"/><circle cx="915.8" cy="478.8"/><circle cx="913.3" cy="476.3"/><circle cx="907.2" cy="475.9"/><circle cx="916.7" cy="478.4"/><circle cx="907.4" cy="470.7"/><circle cx="910.9" cy="477.1"/><circle cx="909.3" cy="482.0"/></g>
<ellipse cx="887.2" cy="414.2" rx="12.7" ry="15.0" fill="url(#g9)" opacity="0.42"/><g class="p" fill="#d4589f" fill-opacity="0.062" stroke="#d4589f" stroke-opacity="0.111"><circle cx="883.0" cy="431.5"/><circle cx="898.4" cy="423.2"/><circle cx="886.4" cy="410.9"/><circle cx="886.6" cy="427.5"/><circle cx="879.8" cy="415.5"/><circle cx="900.3" cy="423.1"/><circle cx="884.4" cy="416.4"/><circle cx="883.0" cy="418.9"/><circle cx="883.8" cy="422.8"/><circle cx="881.2" cy="414.2"/><circle cx="884.5" cy="406.0"/><circle cx="886.6" cy="403.0"/><circle cx="887.8" cy="408.6"/><circle cx="880.9" cy="406.8"/><circle cx="897.7" cy="415.5"/><circle cx="887.4" cy="426.3"/><circle cx="884.0" cy="407.1"/><circle cx="893.6" cy="421.4"/><circle cx="884.0" cy="412.0"/><circle cx="896.3" cy="415.3"/><circle cx="892.1" cy="404.4"/><circle cx="889.7" cy="419.6"/><circle cx="881.1" cy="417.5"/><circle cx="893.3" cy="421.3"/><circle cx="891.1" cy="423.9"/><circle cx="878.9" cy="416.1"/><circle cx="878.0" cy="412.6"/><circle cx="893.7" cy="404.9"/><circle cx="889.1" cy="423.0"/><circle cx="888.2" cy="413.1"/><circle cx="888.0" cy="426.1"/><circle cx="884.4" cy="416.9"/><circle cx="894.8" cy="411.7"/><circle cx="878.2" cy="413.2"/><circle cx="886.9" cy="426.2"/><circle cx="879.7" cy="417.0"/><circle cx="891.0" cy="404.7"/><circle cx="894.5" cy="404.7"/><circle cx="894.4" cy="421.8"/><circle cx="881.5" cy="413.5"/><circle cx="879.8" cy="423.3"/><circle cx="894.9" cy="419.7"/><circle cx="881.7" cy="416.9"/><circle cx="885.6" cy="420.9"/><circle cx="886.7" cy="405.4"/><circle cx="894.8" cy="415.2"/><circle cx="877.8" cy="417.8"/><circle cx="883.1" cy="421.7"/><circle cx="879.2" cy="419.6"/><circle cx="881.5" cy="417.3"/><circle cx="894.5" cy="413.0"/><circle cx="884.8" cy="407.2"/><circle cx="882.2" cy="419.7"/><circle cx="882.5" cy="423.7"/><circle cx="882.4" cy="416.7"/><circle cx="894.1" cy="410.4"/><circle cx="879.6" cy="407.6"/><circle cx="888.2" cy="413.8"/><circle cx="889.1" cy="422.4"/><circle cx="877.8" cy="412.7"/><circle cx="885.6" cy="403.6"/><circle cx="891.6" cy="403.5"/><circle cx="891.5" cy="418.3"/><circle cx="880.2" cy="420.0"/><circle cx="891.3" cy="408.9"/><circle cx="884.8" cy="411.7"/><circle cx="893.2" cy="423.4"/><circle cx="882.0" cy="417.7"/><circle cx="878.0" cy="414.1"/><circle cx="896.6" cy="414.3"/><circle cx="878.7" cy="419.9"/><circle cx="881.5" cy="415.4"/><circle cx="896.6" cy="411.4"/><circle cx="881.9" cy="413.5"/><circle cx="878.6" cy="412.4"/><circle cx="884.9" cy="413.1"/><circle cx="885.2" cy="411.9"/><circle cx="885.9" cy="396.9"/><circle cx="886.3" cy="410.1"/><circle cx="886.8" cy="411.2"/><circle cx="887.2" cy="416.0"/><circle cx="895.9" cy="409.2"/><circle cx="895.5" cy="412.8"/><circle cx="882.9" cy="405.4"/><circle cx="891.5" cy="405.0"/><circle cx="891.7" cy="416.3"/><circle cx="884.4" cy="410.2"/><circle cx="889.6" cy="415.2"/><circle cx="890.8" cy="414.2"/><circle cx="884.7" cy="417.5"/><circle cx="881.4" cy="419.4"/><circle cx="887.5" cy="407.4"/><circle cx="882.2" cy="412.2"/><circle cx="878.3" cy="422.7"/><circle cx="891.9" cy="407.6"/><circle cx="886.6" cy="424.5"/><circle cx="889.2" cy="408.0"/><circle cx="876.6" cy="404.2"/><circle cx="893.1" cy="416.1"/><circle cx="880.8" cy="418.5"/><circle cx="885.4" cy="410.1"/><circle cx="884.6" cy="411.4"/><circle cx="895.4" cy="408.4"/><circle cx="885.2" cy="422.4"/><circle cx="894.6" cy="408.2"/><circle cx="897.4" cy="421.0"/><circle cx="879.9" cy="425.3"/><circle cx="879.9" cy="418.4"/><circle cx="881.5" cy="403.3"/><circle cx="891.4" cy="416.8"/><circle cx="886.8" cy="415.4"/><circle cx="886.7" cy="412.6"/><circle cx="881.9" cy="417.8"/><circle cx="887.3" cy="412.7"/><circle cx="884.4" cy="412.5"/><circle cx="879.7" cy="412.3"/><circle cx="882.3" cy="422.1"/><circle cx="882.5" cy="411.4"/><circle cx="887.3" cy="419.1"/><circle cx="889.5" cy="414.3"/><circle cx="897.9" cy="414.1"/><circle cx="888.8" cy="431.0"/><circle cx="882.8" cy="420.1"/><circle cx="889.4" cy="406.1"/><circle cx="884.1" cy="419.3"/><circle cx="880.0" cy="413.1"/><circle cx="891.8" cy="412.7"/><circle cx="888.5" cy="410.1"/><circle cx="884.1" cy="410.4"/><circle cx="885.5" cy="418.1"/><circle cx="887.6" cy="426.3"/><circle cx="889.9" cy="415.9"/><circle cx="898.4" cy="413.5"/><circle cx="883.2" cy="415.1"/><circle cx="881.8" cy="417.4"/><circle cx="894.0" cy="418.1"/><circle cx="885.2" cy="413.3"/><circle cx="889.6" cy="421.5"/><circle cx="885.2" cy="411.6"/><circle cx="892.6" cy="415.6"/><circle cx="888.9" cy="417.2"/><circle cx="883.4" cy="413.3"/><circle cx="892.5" cy="413.2"/><circle cx="886.2" cy="416.1"/><circle cx="889.1" cy="429.9"/><circle cx="883.2" cy="415.1"/><circle cx="897.2" cy="414.4"/><circle cx="889.1" cy="405.3"/><circle cx="892.1" cy="419.6"/><circle cx="891.3" cy="413.1"/></g>
<ellipse cx="807.2" cy="366.7" rx="15.0" ry="13.5" transform="rotate(10 807.2 366.7)" fill="url(#g9)" opacity="0.42"/><g class="p" fill="#d4589f" fill-opacity="0.062" stroke="#d4589f" stroke-opacity="0.111"><circle cx="789.4" cy="350.5"/><circle cx="805.4" cy="343.8"/><circle cx="800.2" cy="372.6"/><circle cx="796.7" cy="366.1"/><circle cx="797.9" cy="368.8"/><circle cx="811.6" cy="378.9"/><circle cx="816.0" cy="368.7"/><circle cx="812.2" cy="368.5"/><circle cx="810.8" cy="356.7"/><circle cx="803.1" cy="364.2"/><circle cx="804.1" cy="358.3"/><circle cx="814.6" cy="376.3"/><circle cx="813.3" cy="367.0"/><circle cx="796.2" cy="363.9"/><circle cx="799.6" cy="361.6"/><circle cx="803.8" cy="356.2"/><circle cx="800.4" cy="357.4"/><circle cx="810.7" cy="359.2"/><circle cx="808.1" cy="374.7"/><circle cx="817.2" cy="372.4"/><circle cx="796.6" cy="369.5"/><circle cx="809.7" cy="360.5"/><circle cx="809.5" cy="355.7"/><circle cx="799.1" cy="370.7"/><circle cx="808.1" cy="361.0"/><circle cx="809.8" cy="359.8"/><circle cx="810.8" cy="360.2"/><circle cx="816.5" cy="366.3"/><circle cx="799.4" cy="367.0"/><circle cx="807.4" cy="358.8"/><circle cx="819.4" cy="363.0"/><circle cx="801.9" cy="377.1"/><circle cx="813.9" cy="367.3"/><circle cx="802.4" cy="371.4"/><circle cx="804.2" cy="359.9"/><circle cx="810.5" cy="371.6"/><circle cx="808.6" cy="372.1"/><circle cx="814.1" cy="372.4"/><circle cx="802.7" cy="360.1"/><circle cx="810.7" cy="367.9"/><circle cx="797.6" cy="365.9"/><circle cx="808.2" cy="358.8"/><circle cx="803.5" cy="377.5"/><circle cx="809.7" cy="377.3"/><circle cx="817.8" cy="366.4"/><circle cx="808.6" cy="375.1"/><circle cx="803.8" cy="364.1"/><circle cx="796.6" cy="367.0"/><circle cx="818.8" cy="362.4"/><circle cx="799.9" cy="356.9"/><circle cx="794.4" cy="365.7"/><circle cx="805.2" cy="376.5"/><circle cx="812.2" cy="361.7"/><circle cx="804.2" cy="370.8"/><circle cx="810.4" cy="362.1"/><circle cx="805.8" cy="359.4"/><circle cx="803.2" cy="364.7"/><circle cx="814.5" cy="367.8"/><circle cx="800.8" cy="356.4"/><circle cx="799.0" cy="359.4"/><circle cx="805.8" cy="356.9"/><circle cx="809.1" cy="371.1"/><circle cx="798.0" cy="368.2"/><circle cx="816.4" cy="368.3"/><circle cx="814.0" cy="376.5"/><circle cx="817.3" cy="370.6"/><circle cx="801.2" cy="362.8"/><circle cx="803.2" cy="371.3"/><circle cx="808.6" cy="370.4"/><circle cx="798.9" cy="370.1"/><circle cx="817.6" cy="365.6"/><circle cx="814.5" cy="370.6"/><circle cx="815.7" cy="375.6"/><circle cx="816.6" cy="361.2"/><circle cx="807.7" cy="375.3"/><circle cx="807.7" cy="359.9"/><circle cx="796.2" cy="372.3"/><circle cx="828.8" cy="366.5"/><circle cx="795.9" cy="372.5"/><circle cx="813.2" cy="370.4"/><circle cx="816.5" cy="366.5"/><circle cx="808.1" cy="371.2"/><circle cx="804.8" cy="368.9"/><circle cx="805.3" cy="368.9"/><circle cx="810.0" cy="356.3"/><circle cx="809.1" cy="359.2"/><circle cx="803.5" cy="356.9"/><circle cx="812.5" cy="365.8"/><circle cx="803.7" cy="372.9"/><circle cx="811.7" cy="366.3"/><circle cx="793.9" cy="367.9"/><circle cx="805.9" cy="364.5"/><circle cx="812.3" cy="364.1"/><circle cx="805.8" cy="371.3"/><circle cx="811.2" cy="364.0"/><circle cx="815.0" cy="374.4"/><circle cx="818.8" cy="368.4"/><circle cx="807.5" cy="372.5"/><circle cx="809.7" cy="367.9"/><circle cx="806.9" cy="365.0"/><circle cx="803.8" cy="362.6"/><circle cx="810.0" cy="365.5"/><circle cx="798.5" cy="365.5"/><circle cx="816.0" cy="375.7"/><circle cx="795.7" cy="360.0"/><circle cx="811.9" cy="368.0"/><circle cx="807.8" cy="366.1"/><circle cx="808.5" cy="361.4"/><circle cx="815.4" cy="362.5"/><circle cx="804.9" cy="374.7"/><circle cx="813.8" cy="367.9"/><circle cx="807.7" cy="363.6"/><circle cx="804.4" cy="364.9"/><circle cx="815.8" cy="365.9"/><circle cx="810.3" cy="369.6"/><circle cx="810.0" cy="365.7"/><circle cx="811.6" cy="368.4"/><circle cx="808.3" cy="364.4"/><circle cx="793.5" cy="368.4"/><circle cx="812.4" cy="365.0"/><circle cx="805.9" cy="368.1"/><circle cx="800.7" cy="369.5"/><circle cx="810.8" cy="372.1"/><circle cx="814.7" cy="357.8"/><circle cx="810.9" cy="365.1"/><circle cx="813.1" cy="373.7"/><circle cx="812.4" cy="367.3"/><circle cx="824.4" cy="369.6"/><circle cx="800.1" cy="370.9"/><circle cx="796.8" cy="375.5"/><circle cx="812.3" cy="375.0"/><circle cx="813.3" cy="370.2"/><circle cx="800.0" cy="362.4"/><circle cx="811.0" cy="366.5"/><circle cx="810.3" cy="363.8"/><circle cx="802.4" cy="367.7"/><circle cx="811.9" cy="367.8"/><circle cx="803.1" cy="357.2"/><circle cx="820.7" cy="363.1"/><circle cx="802.8" cy="362.2"/><circle cx="813.5" cy="363.9"/><circle cx="810.4" cy="369.1"/><circle cx="800.3" cy="366.5"/><circle cx="800.1" cy="364.7"/><circle cx="812.0" cy="366.4"/><circle cx="802.2" cy="363.7"/><circle cx="805.9" cy="368.4"/><circle cx="795.1" cy="354.6"/><circle cx="810.3" cy="366.7"/><circle cx="807.1" cy="367.9"/></g>
<ellipse cx="693.6" cy="347.6" rx="16.9" ry="12.7" fill="url(#g9)" opacity="0.42"/><g class="p" fill="#d4589f" fill-opacity="0.062" stroke="#d4589f" stroke-opacity="0.111"><circle cx="714.1" cy="346.5"/><circle cx="687.8" cy="348.7"/><circle cx="688.2" cy="339.3"/><circle cx="693.8" cy="347.1"/><circle cx="686.1" cy="344.5"/><circle cx="682.4" cy="348.8"/><circle cx="706.0" cy="346.6"/><circle cx="707.8" cy="347.6"/><circle cx="693.9" cy="341.5"/><circle cx="682.8" cy="353.9"/><circle cx="687.7" cy="339.3"/><circle cx="700.3" cy="348.2"/><circle cx="685.6" cy="355.0"/><circle cx="703.7" cy="349.2"/><circle cx="687.3" cy="349.7"/><circle cx="690.5" cy="342.8"/><circle cx="702.5" cy="348.4"/><circle cx="704.1" cy="342.0"/><circle cx="698.7" cy="349.8"/><circle cx="694.6" cy="356.2"/><circle cx="682.9" cy="353.8"/><circle cx="702.1" cy="352.6"/><circle cx="693.4" cy="337.4"/><circle cx="688.0" cy="339.4"/><circle cx="684.2" cy="343.5"/><circle cx="679.9" cy="352.1"/><circle cx="684.1" cy="343.1"/><circle cx="689.4" cy="350.5"/><circle cx="690.0" cy="343.3"/><circle cx="704.7" cy="341.6"/><circle cx="695.7" cy="337.8"/><circle cx="687.1" cy="352.6"/><circle cx="700.6" cy="343.4"/><circle cx="690.9" cy="352.1"/><circle cx="687.5" cy="338.7"/><circle cx="692.6" cy="336.9"/><circle cx="680.9" cy="353.1"/><circle cx="700.2" cy="342.1"/><circle cx="708.0" cy="345.9"/><circle cx="698.7" cy="350.9"/><circle cx="697.6" cy="348.4"/><circle cx="690.5" cy="355.3"/><circle cx="702.6" cy="348.6"/><circle cx="704.3" cy="347.0"/><circle cx="693.1" cy="350.5"/><circle cx="697.2" cy="351.3"/><circle cx="684.3" cy="343.7"/><circle cx="704.2" cy="345.5"/><circle cx="702.7" cy="341.1"/><circle cx="703.0" cy="341.1"/><circle cx="696.7" cy="353.9"/><circle cx="692.4" cy="354.8"/><circle cx="700.6" cy="350.6"/><circle cx="691.7" cy="343.6"/><circle cx="687.5" cy="353.0"/><circle cx="687.5" cy="340.6"/><circle cx="708.7" cy="349.8"/><circle cx="692.9" cy="338.4"/><circle cx="703.2" cy="354.6"/><circle cx="707.6" cy="346.8"/><circle cx="691.9" cy="357.9"/><circle cx="678.8" cy="348.3"/><circle cx="696.4" cy="343.5"/><circle cx="687.7" cy="343.1"/><circle cx="700.6" cy="350.3"/><circle cx="706.0" cy="343.3"/><circle cx="692.6" cy="340.1"/><circle cx="693.9" cy="337.2"/><circle cx="681.9" cy="347.0"/><circle cx="694.9" cy="349.2"/><circle cx="689.3" cy="343.2"/><circle cx="689.9" cy="353.9"/><circle cx="696.4" cy="344.2"/><circle cx="688.1" cy="354.7"/><circle cx="692.0" cy="345.6"/><circle cx="694.1" cy="350.1"/><circle cx="706.9" cy="353.1"/><circle cx="698.1" cy="347.5"/><circle cx="684.0" cy="345.3"/><circle cx="683.8" cy="347.2"/><circle cx="701.5" cy="353.0"/><circle cx="700.4" cy="347.8"/><circle cx="701.0" cy="346.3"/><circle cx="679.5" cy="348.4"/><circle cx="694.0" cy="338.9"/><circle cx="689.9" cy="335.3"/><circle cx="690.3" cy="353.8"/><circle cx="689.1" cy="354.4"/><circle cx="695.4" cy="344.0"/><circle cx="680.8" cy="351.5"/><circle cx="698.6" cy="340.2"/><circle cx="690.7" cy="353.3"/><circle cx="688.3" cy="349.7"/><circle cx="679.5" cy="343.0"/><circle cx="699.1" cy="341.7"/><circle cx="683.2" cy="340.7"/><circle cx="691.0" cy="339.7"/><circle cx="692.9" cy="350.5"/><circle cx="704.9" cy="345.7"/><circle cx="705.5" cy="350.6"/><circle cx="692.1" cy="350.3"/><circle cx="704.8" cy="355.3"/><circle cx="699.3" cy="347.2"/><circle cx="699.8" cy="348.8"/><circle cx="695.0" cy="349.0"/><circle cx="707.0" cy="341.6"/><circle cx="693.2" cy="342.2"/><circle cx="700.1" cy="353.3"/><circle cx="703.6" cy="345.9"/><circle cx="694.2" cy="351.6"/><circle cx="695.1" cy="349.2"/><circle cx="695.2" cy="349.1"/><circle cx="693.0" cy="350.0"/><circle cx="683.1" cy="345.6"/><circle cx="684.1" cy="347.3"/><circle cx="688.5" cy="350.5"/><circle cx="703.0" cy="341.5"/><circle cx="688.1" cy="349.4"/><circle cx="704.3" cy="351.7"/><circle cx="697.0" cy="347.5"/><circle cx="690.6" cy="349.7"/><circle cx="697.5" cy="348.6"/><circle cx="689.6" cy="339.6"/><circle cx="687.6" cy="345.8"/><circle cx="685.4" cy="349.4"/><circle cx="683.4" cy="346.2"/><circle cx="696.4" cy="351.9"/><circle cx="695.6" cy="353.8"/><circle cx="689.5" cy="343.8"/><circle cx="701.7" cy="343.3"/><circle cx="692.7" cy="339.0"/><circle cx="702.0" cy="351.4"/><circle cx="688.3" cy="338.9"/><circle cx="695.6" cy="349.1"/><circle cx="702.3" cy="357.1"/><circle cx="695.5" cy="346.6"/><circle cx="692.1" cy="346.2"/><circle cx="683.8" cy="343.2"/><circle cx="693.1" cy="339.4"/><circle cx="684.2" cy="353.9"/><circle cx="688.9" cy="351.8"/><circle cx="701.7" cy="347.8"/><circle cx="699.8" cy="346.8"/><circle cx="687.4" cy="347.2"/><circle cx="694.3" cy="348.3"/><circle cx="694.3" cy="345.7"/><circle cx="701.5" cy="346.7"/><circle cx="690.8" cy="352.4"/><circle cx="686.6" cy="347.7"/><circle cx="704.5" cy="348.1"/></g>
<ellipse cx="577.6" cy="354.0" rx="13.8" ry="16.9" transform="rotate(25 577.6 354.0)" fill="url(#g9)" opacity="0.42"/><g class="p" fill="#d4589f" fill-opacity="0.062" stroke="#d4589f" stroke-opacity="0.111"><circle cx="572.8" cy="363.5"/><circle cx="585.8" cy="344.2"/><circle cx="588.4" cy="353.9"/><circle cx="596.1" cy="355.7"/><circle cx="579.3" cy="348.4"/><circle cx="573.3" cy="358.5"/><circle cx="589.8" cy="348.5"/><circle cx="574.6" cy="366.3"/><circle cx="574.0" cy="347.8"/><circle cx="586.5" cy="360.5"/><circle cx="578.9" cy="342.5"/><circle cx="577.9" cy="356.9"/><circle cx="572.8" cy="359.1"/><circle cx="573.4" cy="349.2"/><circle cx="565.9" cy="352.5"/><circle cx="584.1" cy="343.5"/><circle cx="581.6" cy="357.4"/><circle cx="574.2" cy="367.7"/><circle cx="575.9" cy="363.3"/><circle cx="565.1" cy="359.2"/><circle cx="586.3" cy="347.8"/><circle cx="578.9" cy="354.2"/><circle cx="585.3" cy="355.1"/><circle cx="576.2" cy="366.2"/><circle cx="575.5" cy="363.8"/><circle cx="570.4" cy="364.1"/><circle cx="575.9" cy="350.4"/><circle cx="579.0" cy="352.8"/><circle cx="574.4" cy="352.2"/><circle cx="584.9" cy="360.6"/><circle cx="578.3" cy="347.0"/><circle cx="574.4" cy="342.0"/><circle cx="566.6" cy="359.4"/><circle cx="574.3" cy="351.1"/><circle cx="576.2" cy="357.5"/><circle cx="569.8" cy="363.6"/><circle cx="572.6" cy="344.3"/><circle cx="566.1" cy="360.3"/><circle cx="570.8" cy="359.3"/><circle cx="577.9" cy="356.3"/><circle cx="588.4" cy="348.6"/><circle cx="569.8" cy="348.9"/><circle cx="589.4" cy="347.0"/><circle cx="574.6" cy="347.4"/><circle cx="578.3" cy="355.1"/><circle cx="579.8" cy="355.9"/><circle cx="576.7" cy="367.9"/><circle cx="570.3" cy="358.0"/><circle cx="577.4" cy="358.0"/><circle cx="575.6" cy="355.4"/><circle cx="587.8" cy="351.9"/><circle cx="583.7" cy="357.9"/><circle cx="583.4" cy="363.4"/><circle cx="580.6" cy="342.4"/><circle cx="580.1" cy="347.0"/><circle cx="572.1" cy="364.8"/><circle cx="581.8" cy="360.9"/><circle cx="568.3" cy="361.6"/><circle cx="578.8" cy="346.6"/><circle cx="573.1" cy="361.2"/><circle cx="573.2" cy="351.7"/><circle cx="573.0" cy="354.3"/><circle cx="585.6" cy="351.0"/><circle cx="574.7" cy="343.7"/><circle cx="568.7" cy="360.6"/><circle cx="572.1" cy="356.0"/><circle cx="579.5" cy="362.4"/><circle cx="583.8" cy="346.1"/><circle cx="576.6" cy="361.0"/><circle cx="580.7" cy="364.3"/><circle cx="571.3" cy="359.9"/><circle cx="577.6" cy="349.4"/><circle cx="569.6" cy="347.9"/><circle cx="582.0" cy="356.5"/><circle cx="573.9" cy="347.3"/><circle cx="570.4" cy="363.9"/><circle cx="581.8" cy="362.3"/><circle cx="592.1" cy="345.8"/><circle cx="579.2" cy="352.9"/><circle cx="566.7" cy="352.0"/><circle cx="580.2" cy="357.7"/><circle cx="569.0" cy="348.6"/><circle cx="579.5" cy="353.4"/><circle cx="577.6" cy="358.5"/><circle cx="584.3" cy="359.5"/><circle cx="590.7" cy="362.3"/><circle cx="576.8" cy="360.4"/><circle cx="578.4" cy="352.2"/><circle cx="590.8" cy="343.3"/><circle cx="562.1" cy="364.1"/><circle cx="579.9" cy="360.0"/><circle cx="578.4" cy="357.2"/><circle cx="573.7" cy="350.4"/><circle cx="568.9" cy="359.8"/><circle cx="580.3" cy="357.8"/><circle cx="580.2" cy="354.7"/><circle cx="566.5" cy="363.2"/><circle cx="581.7" cy="355.1"/><circle cx="576.9" cy="364.6"/><circle cx="581.8" cy="362.0"/><circle cx="582.7" cy="355.2"/><circle cx="581.8" cy="364.3"/><circle cx="586.7" cy="348.4"/><circle cx="579.0" cy="360.7"/><circle cx="590.0" cy="339.3"/><circle cx="567.2" cy="352.0"/><circle cx="571.6" cy="354.9"/><circle cx="574.6" cy="360.1"/><circle cx="578.1" cy="346.1"/><circle cx="581.3" cy="354.0"/><circle cx="577.8" cy="338.4"/><circle cx="595.2" cy="359.7"/><circle cx="582.6" cy="340.7"/><circle cx="572.9" cy="350.9"/><circle cx="577.0" cy="360.4"/><circle cx="572.3" cy="355.8"/><circle cx="585.3" cy="353.8"/><circle cx="583.0" cy="342.1"/><circle cx="577.7" cy="343.1"/><circle cx="581.7" cy="354.8"/><circle cx="585.4" cy="359.5"/><circle cx="580.2" cy="359.8"/><circle cx="582.1" cy="347.7"/><circle cx="586.6" cy="357.8"/><circle cx="569.9" cy="346.0"/><circle cx="568.2" cy="359.6"/><circle cx="578.4" cy="367.2"/><circle cx="591.2" cy="355.4"/><circle cx="570.8" cy="343.5"/><circle cx="588.3" cy="337.2"/><circle cx="571.9" cy="358.6"/><circle cx="573.6" cy="351.5"/><circle cx="567.4" cy="364.0"/><circle cx="591.1" cy="352.3"/><circle cx="572.8" cy="353.2"/><circle cx="580.0" cy="359.1"/><circle cx="578.0" cy="363.0"/><circle cx="578.2" cy="370.6"/><circle cx="580.2" cy="352.4"/><circle cx="570.4" cy="370.2"/><circle cx="580.1" cy="362.3"/><circle cx="581.1" cy="367.1"/><circle cx="592.9" cy="355.8"/><circle cx="576.6" cy="361.1"/><circle cx="583.5" cy="354.9"/><circle cx="570.2" cy="349.6"/><circle cx="574.6" cy="353.0"/><circle cx="581.5" cy="362.8"/><circle cx="574.3" cy="347.4"/><circle cx="575.3" cy="363.5"/></g>
<ellipse cx="483.0" cy="377.0" rx="12.3" ry="14.2" transform="rotate(15 483.0 377.0)" fill="url(#g9)" opacity="0.44"/><g class="p" fill="#d4589f" fill-opacity="0.066" stroke="#d4589f" stroke-opacity="0.111"><circle cx="482.4" cy="385.7"/><circle cx="482.8" cy="379.2"/><circle cx="480.4" cy="367.7"/><circle cx="486.2" cy="367.3"/><circle cx="482.4" cy="367.7"/><circle cx="487.6" cy="366.2"/><circle cx="477.7" cy="370.8"/><circle cx="477.1" cy="386.1"/><circle cx="483.5" cy="388.7"/><circle cx="477.8" cy="380.8"/><circle cx="476.7" cy="386.1"/><circle cx="483.3" cy="382.3"/><circle cx="475.5" cy="380.1"/><circle cx="475.9" cy="383.3"/><circle cx="474.6" cy="372.3"/><circle cx="487.3" cy="371.8"/><circle cx="474.4" cy="384.6"/><circle cx="481.5" cy="366.7"/><circle cx="484.9" cy="388.4"/><circle cx="481.8" cy="383.2"/><circle cx="489.5" cy="371.4"/><circle cx="485.0" cy="368.8"/><circle cx="483.9" cy="364.9"/><circle cx="489.5" cy="368.2"/><circle cx="487.0" cy="374.8"/><circle cx="493.0" cy="375.0"/><circle cx="484.0" cy="369.6"/><circle cx="490.1" cy="375.1"/><circle cx="482.0" cy="379.7"/><circle cx="475.6" cy="376.3"/><circle cx="483.7" cy="388.6"/><circle cx="487.0" cy="383.5"/><circle cx="481.2" cy="377.9"/><circle cx="475.6" cy="385.1"/><circle cx="480.0" cy="369.7"/><circle cx="479.8" cy="378.4"/><circle cx="485.4" cy="386.6"/><circle cx="478.7" cy="376.0"/><circle cx="477.0" cy="384.2"/><circle cx="485.8" cy="369.4"/><circle cx="482.6" cy="370.9"/><circle cx="489.9" cy="376.5"/><circle cx="488.7" cy="377.0"/><circle cx="477.9" cy="371.6"/><circle cx="480.0" cy="386.0"/><circle cx="477.4" cy="371.9"/><circle cx="481.6" cy="379.5"/><circle cx="475.8" cy="373.8"/><circle cx="486.7" cy="365.5"/><circle cx="484.4" cy="365.6"/><circle cx="476.2" cy="377.3"/><circle cx="477.4" cy="386.2"/><circle cx="486.8" cy="379.0"/><circle cx="490.4" cy="370.5"/><circle cx="486.3" cy="373.1"/><circle cx="481.3" cy="374.3"/><circle cx="488.4" cy="368.6"/><circle cx="483.3" cy="384.3"/><circle cx="481.1" cy="368.7"/><circle cx="481.7" cy="379.4"/><circle cx="486.4" cy="372.4"/><circle cx="480.3" cy="378.3"/><circle cx="473.1" cy="375.9"/><circle cx="479.9" cy="379.5"/><circle cx="473.0" cy="379.8"/><circle cx="485.4" cy="375.2"/><circle cx="487.7" cy="377.3"/><circle cx="479.4" cy="386.8"/><circle cx="488.0" cy="368.6"/><circle cx="485.4" cy="376.9"/><circle cx="484.7" cy="383.9"/><circle cx="487.0" cy="374.4"/><circle cx="482.5" cy="371.2"/><circle cx="488.7" cy="370.6"/><circle cx="482.8" cy="378.2"/><circle cx="489.9" cy="373.9"/><circle cx="486.3" cy="371.5"/><circle cx="488.3" cy="376.0"/><circle cx="482.9" cy="370.9"/><circle cx="481.0" cy="372.3"/><circle cx="478.2" cy="382.6"/><circle cx="477.8" cy="376.9"/><circle cx="488.6" cy="371.3"/><circle cx="472.0" cy="376.7"/><circle cx="476.3" cy="370.2"/><circle cx="482.0" cy="378.2"/><circle cx="482.7" cy="372.4"/><circle cx="487.2" cy="379.3"/><circle cx="493.3" cy="374.0"/><circle cx="482.5" cy="376.4"/><circle cx="485.1" cy="378.8"/><circle cx="480.0" cy="388.0"/><circle cx="481.5" cy="379.1"/><circle cx="484.7" cy="373.5"/><circle cx="489.2" cy="367.1"/><circle cx="490.7" cy="369.4"/><circle cx="481.3" cy="377.0"/><circle cx="481.4" cy="373.2"/><circle cx="484.9" cy="391.9"/><circle cx="487.6" cy="379.0"/><circle cx="481.1" cy="371.6"/><circle cx="487.2" cy="383.4"/><circle cx="487.6" cy="384.2"/><circle cx="490.1" cy="375.1"/><circle cx="480.7" cy="370.0"/><circle cx="483.1" cy="375.7"/><circle cx="485.3" cy="370.1"/><circle cx="482.5" cy="381.6"/><circle cx="487.4" cy="361.6"/><circle cx="483.3" cy="374.7"/><circle cx="487.4" cy="377.0"/><circle cx="486.5" cy="375.4"/><circle cx="483.0" cy="382.7"/><circle cx="481.2" cy="378.2"/><circle cx="482.7" cy="380.4"/><circle cx="481.6" cy="379.3"/><circle cx="474.7" cy="373.2"/><circle cx="485.7" cy="381.6"/><circle cx="479.6" cy="371.0"/><circle cx="484.2" cy="379.3"/><circle cx="485.0" cy="377.7"/><circle cx="481.8" cy="382.7"/><circle cx="480.6" cy="367.8"/><circle cx="488.8" cy="373.7"/><circle cx="487.1" cy="373.8"/><circle cx="475.4" cy="384.1"/><circle cx="484.7" cy="368.7"/><circle cx="482.1" cy="375.5"/><circle cx="481.6" cy="377.4"/><circle cx="477.9" cy="373.6"/><circle cx="484.0" cy="380.7"/><circle cx="484.5" cy="372.3"/><circle cx="471.5" cy="382.4"/><circle cx="478.3" cy="372.7"/><circle cx="482.2" cy="379.2"/><circle cx="484.0" cy="372.0"/><circle cx="479.5" cy="388.3"/><circle cx="494.8" cy="378.6"/><circle cx="488.5" cy="367.7"/><circle cx="482.8" cy="381.0"/></g>
<ellipse cx="410.6" cy="410.0" rx="11.8" ry="12.3" fill="url(#g9)" opacity="0.46"/><g class="p" fill="#d4589f" fill-opacity="0.07" stroke="#d4589f" stroke-opacity="0.111"><circle cx="410.6" cy="412.1"/><circle cx="415.1" cy="407.1"/><circle cx="401.1" cy="412.4"/><circle cx="403.3" cy="406.9"/><circle cx="408.4" cy="416.8"/><circle cx="411.5" cy="418.0"/><circle cx="409.9" cy="407.3"/><circle cx="412.0" cy="412.1"/><circle cx="409.2" cy="404.7"/><circle cx="410.2" cy="415.4"/><circle cx="414.7" cy="417.5"/><circle cx="416.5" cy="402.7"/><circle cx="415.7" cy="415.6"/><circle cx="415.7" cy="402.7"/><circle cx="403.8" cy="404.3"/><circle cx="409.9" cy="416.5"/><circle cx="411.2" cy="417.7"/><circle cx="403.2" cy="405.1"/><circle cx="410.0" cy="420.0"/><circle cx="403.6" cy="404.5"/><circle cx="405.9" cy="405.6"/><circle cx="413.5" cy="410.5"/><circle cx="410.2" cy="415.1"/><circle cx="409.8" cy="402.5"/><circle cx="413.5" cy="413.6"/><circle cx="410.6" cy="401.1"/><circle cx="411.5" cy="404.8"/><circle cx="413.3" cy="403.8"/><circle cx="415.2" cy="405.7"/><circle cx="404.4" cy="417.8"/><circle cx="416.5" cy="407.8"/><circle cx="418.2" cy="412.4"/><circle cx="419.4" cy="413.7"/><circle cx="403.6" cy="405.2"/><circle cx="418.2" cy="413.4"/><circle cx="401.9" cy="408.7"/><circle cx="408.3" cy="416.1"/><circle cx="408.7" cy="405.4"/><circle cx="406.4" cy="412.0"/><circle cx="409.1" cy="412.9"/><circle cx="409.2" cy="407.6"/><circle cx="419.4" cy="408.1"/><circle cx="411.5" cy="419.9"/><circle cx="418.6" cy="413.9"/><circle cx="413.1" cy="414.1"/><circle cx="412.3" cy="408.9"/><circle cx="409.6" cy="401.2"/><circle cx="417.8" cy="410.1"/><circle cx="412.4" cy="417.7"/><circle cx="411.3" cy="403.5"/><circle cx="415.2" cy="416.3"/><circle cx="402.3" cy="410.7"/><circle cx="413.1" cy="416.7"/><circle cx="409.3" cy="416.6"/><circle cx="404.5" cy="412.2"/><circle cx="408.7" cy="410.2"/><circle cx="414.4" cy="405.2"/><circle cx="404.6" cy="410.7"/><circle cx="415.2" cy="408.4"/><circle cx="402.6" cy="409.0"/><circle cx="402.2" cy="412.1"/><circle cx="409.1" cy="416.3"/><circle cx="404.3" cy="415.7"/><circle cx="417.4" cy="408.8"/><circle cx="405.4" cy="408.6"/><circle cx="412.6" cy="401.2"/><circle cx="406.3" cy="406.8"/><circle cx="411.2" cy="409.1"/><circle cx="419.6" cy="408.2"/><circle cx="409.5" cy="402.6"/><circle cx="418.9" cy="410.4"/><circle cx="410.1" cy="406.9"/><circle cx="411.0" cy="408.3"/><circle cx="416.1" cy="406.1"/><circle cx="408.7" cy="407.5"/><circle cx="413.3" cy="411.6"/><circle cx="415.1" cy="412.7"/><circle cx="413.2" cy="410.3"/><circle cx="414.7" cy="412.4"/><circle cx="412.2" cy="402.3"/><circle cx="408.5" cy="406.7"/><circle cx="402.4" cy="416.4"/><circle cx="417.2" cy="415.3"/><circle cx="413.2" cy="417.2"/><circle cx="403.1" cy="416.2"/><circle cx="401.5" cy="410.8"/><circle cx="411.2" cy="412.5"/><circle cx="413.6" cy="413.5"/><circle cx="407.5" cy="406.8"/><circle cx="406.8" cy="410.6"/><circle cx="409.1" cy="402.3"/><circle cx="414.9" cy="404.5"/><circle cx="408.4" cy="406.4"/><circle cx="407.2" cy="412.8"/><circle cx="407.5" cy="403.1"/><circle cx="407.6" cy="405.0"/><circle cx="403.6" cy="414.4"/><circle cx="415.8" cy="403.0"/><circle cx="417.6" cy="418.8"/><circle cx="404.3" cy="412.0"/><circle cx="409.3" cy="414.0"/><circle cx="397.3" cy="413.0"/><circle cx="408.9" cy="412.3"/><circle cx="414.6" cy="398.6"/><circle cx="410.3" cy="410.0"/><circle cx="413.3" cy="415.4"/><circle cx="414.0" cy="406.3"/><circle cx="413.8" cy="406.3"/><circle cx="414.0" cy="409.1"/><circle cx="409.8" cy="410.6"/><circle cx="403.4" cy="408.4"/><circle cx="405.2" cy="414.4"/><circle cx="416.3" cy="403.0"/><circle cx="400.5" cy="411.1"/><circle cx="408.0" cy="405.5"/><circle cx="420.9" cy="408.0"/><circle cx="405.9" cy="408.6"/><circle cx="411.9" cy="417.5"/><circle cx="412.0" cy="403.9"/><circle cx="408.4" cy="418.8"/><circle cx="402.7" cy="409.7"/><circle cx="415.9" cy="411.3"/><circle cx="409.6" cy="405.7"/><circle cx="411.3" cy="412.5"/><circle cx="411.6" cy="414.9"/><circle cx="411.5" cy="416.2"/><circle cx="411.2" cy="414.4"/><circle cx="409.1" cy="418.4"/><circle cx="416.3" cy="413.3"/><circle cx="406.2" cy="410.9"/></g>
<ellipse cx="363.5" cy="442.0" rx="9.5" ry="10.0" fill="url(#g10)" opacity="0.95"/><g class="p" fill="#d4569f" fill-opacity="0.16" stroke="#d4569f" stroke-opacity="0.15"><circle cx="361.7" cy="441.6"/><circle cx="360.8" cy="451.6"/><circle cx="368.1" cy="444.2"/><circle cx="369.5" cy="445.8"/><circle cx="365.7" cy="443.6"/><circle cx="362.1" cy="448.1"/><circle cx="360.0" cy="444.6"/><circle cx="361.7" cy="446.6"/><circle cx="359.7" cy="448.1"/><circle cx="361.2" cy="435.4"/><circle cx="364.7" cy="437.6"/><circle cx="362.7" cy="435.7"/><circle cx="362.5" cy="438.1"/><circle cx="368.6" cy="443.6"/><circle cx="362.0" cy="444.9"/><circle cx="358.4" cy="446.0"/><circle cx="361.6" cy="440.0"/><circle cx="361.8" cy="442.8"/><circle cx="362.7" cy="441.4"/><circle cx="365.1" cy="435.2"/><circle cx="358.3" cy="439.1"/><circle cx="364.1" cy="448.3"/><circle cx="369.2" cy="438.0"/><circle cx="367.1" cy="436.8"/><circle cx="362.1" cy="442.2"/><circle cx="363.4" cy="439.9"/><circle cx="365.0" cy="442.7"/><circle cx="361.6" cy="440.5"/><circle cx="361.6" cy="440.6"/><circle cx="366.8" cy="440.4"/><circle cx="362.6" cy="437.9"/><circle cx="365.7" cy="443.4"/><circle cx="360.1" cy="440.3"/><circle cx="360.4" cy="444.3"/><circle cx="363.2" cy="446.7"/><circle cx="368.2" cy="443.4"/><circle cx="367.6" cy="446.0"/><circle cx="368.7" cy="440.5"/><circle cx="365.8" cy="449.0"/><circle cx="365.9" cy="440.8"/><circle cx="364.6" cy="450.6"/><circle cx="362.5" cy="440.0"/><circle cx="366.8" cy="441.0"/><circle cx="358.6" cy="436.6"/><circle cx="363.8" cy="440.0"/><circle cx="368.7" cy="440.2"/><circle cx="359.2" cy="439.5"/><circle cx="359.7" cy="446.6"/><circle cx="361.2" cy="447.8"/><circle cx="365.7" cy="449.8"/><circle cx="363.5" cy="445.4"/><circle cx="356.8" cy="440.6"/><circle cx="361.3" cy="446.6"/><circle cx="363.4" cy="444.8"/><circle cx="361.4" cy="437.7"/><circle cx="363.6" cy="447.1"/><circle cx="363.7" cy="448.1"/><circle cx="362.7" cy="441.1"/><circle cx="362.7" cy="441.4"/><circle cx="361.5" cy="441.5"/></g>
<ellipse cx="335.7" cy="465.2" rx="7.5" ry="8.0" fill="url(#g11)" opacity="0.97"/><g class="p" fill="#d4569f" fill-opacity="0.25" stroke="#d4569f" stroke-opacity="0.1"><circle cx="333.1" cy="458.5"/><circle cx="339.3" cy="462.6"/><circle cx="333.4" cy="467.3"/><circle cx="334.5" cy="464.7"/><circle cx="331.7" cy="465.0"/><circle cx="337.1" cy="462.6"/><circle cx="335.1" cy="462.3"/><circle cx="333.8" cy="460.7"/><circle cx="333.6" cy="468.2"/><circle cx="331.1" cy="465.1"/><circle cx="340.2" cy="466.7"/><circle cx="336.2" cy="465.9"/><circle cx="332.2" cy="461.4"/><circle cx="335.6" cy="467.1"/><circle cx="338.2" cy="465.0"/><circle cx="335.5" cy="465.7"/><circle cx="335.3" cy="464.0"/><circle cx="336.8" cy="464.0"/><circle cx="335.2" cy="468.2"/><circle cx="336.2" cy="464.0"/><circle cx="337.3" cy="464.9"/><circle cx="337.2" cy="463.1"/><circle cx="334.0" cy="461.8"/><circle cx="338.2" cy="468.6"/><circle cx="338.4" cy="466.1"/></g>
<ellipse cx="321.8" cy="480.5" rx="5.5" ry="5.5" fill="url(#g12)" opacity="1.0"/>
<ellipse cx="314.0" cy="488.0" rx="4.5" ry="4.5" fill="url(#g12)" opacity="1.0"/>
<ellipse cx="309.5" cy="493.0" rx="4.0" ry="4.0" fill="url(#g12)" opacity="1.0"/>
<ellipse cx="307.0" cy="496.0" rx="3.5" ry="3.5" fill="url(#g12)" opacity="1.0"/>
<ellipse cx="362.2" cy="514.2" rx="9.5" ry="6.0" transform="rotate(8 362.2 514.2)" fill="url(#g26)" opacity="0.9"/>
<ellipse cx="400.5" cy="522.8" rx="11.0" ry="6.6" transform="rotate(8 400.5 522.8)" fill="url(#g26)" opacity="0.8"/><g class="p" fill="#f0a07e" fill-opacity="0.06"><circle cx="399.6" cy="526.2"/><circle cx="404.7" cy="522.6"/><circle cx="395.3" cy="522.6"/><circle cx="401.2" cy="523.5"/><circle cx="396.0" cy="522.1"/><circle cx="405.3" cy="526.0"/><circle cx="394.1" cy="520.4"/><circle cx="395.7" cy="520.7"/><circle cx="400.1" cy="519.5"/><circle cx="393.9" cy="520.8"/><circle cx="400.7" cy="521.1"/><circle cx="395.9" cy="524.1"/><circle cx="399.3" cy="521.5"/><circle cx="401.1" cy="526.4"/><circle cx="401.1" cy="520.2"/><circle cx="404.1" cy="525.8"/><circle cx="404.5" cy="525.3"/><circle cx="399.5" cy="520.3"/><circle cx="402.7" cy="522.5"/><circle cx="400.5" cy="525.8"/><circle cx="394.4" cy="518.0"/><circle cx="395.4" cy="520.5"/><circle cx="400.0" cy="523.4"/><circle cx="397.2" cy="524.9"/><circle cx="399.1" cy="524.3"/></g>
<ellipse cx="452.0" cy="531.0" rx="12.5" ry="7.2" transform="rotate(5 452.0 531.0)" fill="url(#g26)" opacity="0.7"/><g class="p" fill="#f0a07e" fill-opacity="0.05"><circle cx="455.1" cy="529.9"/><circle cx="446.8" cy="531.4"/><circle cx="446.2" cy="533.4"/><circle cx="445.6" cy="528.0"/><circle cx="455.8" cy="533.0"/><circle cx="449.0" cy="530.3"/><circle cx="453.2" cy="527.8"/><circle cx="443.5" cy="530.3"/><circle cx="445.9" cy="532.0"/><circle cx="460.5" cy="531.0"/><circle cx="448.7" cy="529.8"/><circle cx="453.4" cy="526.2"/><circle cx="454.6" cy="532.6"/><circle cx="444.3" cy="531.7"/><circle cx="450.0" cy="531.6"/><circle cx="444.8" cy="534.5"/><circle cx="453.9" cy="531.0"/><circle cx="452.6" cy="533.1"/><circle cx="454.6" cy="531.6"/><circle cx="456.1" cy="532.4"/><circle cx="460.9" cy="529.0"/><circle cx="450.5" cy="533.0"/><circle cx="455.8" cy="530.1"/><circle cx="457.7" cy="534.0"/><circle cx="459.6" cy="531.1"/><circle cx="457.5" cy="531.4"/><circle cx="453.6" cy="533.3"/><circle cx="450.4" cy="530.2"/><circle cx="460.0" cy="529.3"/><circle cx="454.3" cy="534.8"/></g>
<ellipse cx="517.0" cy="537.0" rx="13.0" ry="7.6" fill="url(#g26)" opacity="0.64"/><g class="p" fill="#f0a07e" fill-opacity="0.05"><circle cx="519.0" cy="532.8"/><circle cx="510.1" cy="536.9"/><circle cx="513.6" cy="540.3"/><circle cx="524.6" cy="537.9"/><circle cx="514.0" cy="539.0"/><circle cx="522.9" cy="533.5"/><circle cx="514.1" cy="532.4"/><circle cx="511.2" cy="539.9"/><circle cx="522.1" cy="540.9"/><circle cx="521.3" cy="533.5"/><circle cx="516.7" cy="534.5"/><circle cx="517.7" cy="531.4"/><circle cx="522.5" cy="534.0"/><circle cx="511.8" cy="539.8"/><circle cx="526.6" cy="537.6"/><circle cx="516.2" cy="534.2"/><circle cx="523.5" cy="537.0"/><circle cx="512.6" cy="538.3"/><circle cx="514.8" cy="531.7"/><circle cx="517.4" cy="541.2"/><circle cx="509.2" cy="535.8"/><circle cx="520.2" cy="537.8"/><circle cx="521.1" cy="536.3"/><circle cx="523.0" cy="537.1"/><circle cx="516.6" cy="538.1"/><circle cx="515.7" cy="536.2"/><circle cx="514.9" cy="534.8"/><circle cx="513.7" cy="533.3"/><circle cx="519.5" cy="537.8"/><circle cx="508.1" cy="535.8"/></g>
<ellipse cx="582.6" cy="536.3" rx="13.5" ry="8.0" fill="url(#g27)" opacity="0.56"/><g class="p" fill="#ea8a6c" fill-opacity="0.05"><circle cx="591.4" cy="543.2"/><circle cx="579.4" cy="540.2"/><circle cx="588.3" cy="541.3"/><circle cx="579.6" cy="537.2"/><circle cx="573.4" cy="538.3"/><circle cx="582.0" cy="537.4"/><circle cx="576.2" cy="536.7"/><circle cx="579.6" cy="540.9"/><circle cx="584.7" cy="535.1"/><circle cx="577.2" cy="537.9"/><circle cx="584.3" cy="536.9"/><circle cx="579.6" cy="537.2"/><circle cx="579.7" cy="536.9"/><circle cx="574.5" cy="539.1"/><circle cx="573.0" cy="538.2"/><circle cx="584.9" cy="534.4"/><circle cx="587.2" cy="530.8"/><circle cx="573.0" cy="534.2"/><circle cx="585.5" cy="539.0"/><circle cx="583.1" cy="540.6"/><circle cx="585.0" cy="535.9"/><circle cx="589.9" cy="537.4"/><circle cx="578.9" cy="537.3"/><circle cx="577.7" cy="539.6"/><circle cx="581.6" cy="531.2"/><circle cx="588.8" cy="537.5"/><circle cx="580.3" cy="536.9"/><circle cx="585.9" cy="536.3"/><circle cx="583.9" cy="539.5"/><circle cx="580.8" cy="536.4"/></g>
<ellipse cx="643.5" cy="527.5" rx="13.5" ry="8.4" fill="url(#g27)" opacity="0.5"/><g class="p" fill="#ea8a6c" fill-opacity="0.045"><circle cx="664.2" cy="528.0"/><circle cx="651.7" cy="531.1"/><circle cx="637.2" cy="528.0"/><circle cx="634.9" cy="524.6"/><circle cx="635.0" cy="529.7"/><circle cx="645.5" cy="531.6"/><circle cx="651.0" cy="524.0"/><circle cx="651.7" cy="525.5"/><circle cx="647.9" cy="530.9"/><circle cx="644.3" cy="529.3"/><circle cx="642.6" cy="530.8"/><circle cx="640.1" cy="528.4"/><circle cx="641.4" cy="522.6"/><circle cx="636.9" cy="529.1"/><circle cx="639.1" cy="522.5"/><circle cx="648.5" cy="531.9"/><circle cx="641.4" cy="523.0"/><circle cx="644.2" cy="531.7"/><circle cx="645.8" cy="527.8"/><circle cx="635.9" cy="529.7"/><circle cx="642.3" cy="527.9"/><circle cx="644.5" cy="526.3"/><circle cx="639.3" cy="528.1"/><circle cx="646.5" cy="533.1"/><circle cx="642.5" cy="524.5"/><circle cx="652.8" cy="531.0"/><circle cx="640.2" cy="526.9"/><circle cx="644.2" cy="532.2"/><circle cx="643.8" cy="532.2"/><circle cx="645.0" cy="525.5"/></g>
<ellipse cx="692.7" cy="514.0" rx="13.0" ry="8.6" fill="url(#g28)" opacity="0.42"/><g class="p" fill="#e0705a" fill-opacity="0.045"><circle cx="694.9" cy="514.6"/><circle cx="695.9" cy="515.9"/><circle cx="687.0" cy="516.9"/><circle cx="699.4" cy="518.8"/><circle cx="686.7" cy="515.4"/><circle cx="692.4" cy="511.3"/><circle cx="686.0" cy="516.5"/><circle cx="689.0" cy="509.5"/><circle cx="691.0" cy="520.4"/><circle cx="697.4" cy="518.9"/><circle cx="689.6" cy="519.7"/><circle cx="695.1" cy="509.0"/><circle cx="695.7" cy="518.0"/><circle cx="684.8" cy="515.5"/><circle cx="689.5" cy="507.6"/><circle cx="688.9" cy="515.3"/><circle cx="696.2" cy="518.1"/><circle cx="683.7" cy="514.7"/><circle cx="695.8" cy="518.2"/><circle cx="694.8" cy="514.4"/><circle cx="689.8" cy="519.0"/><circle cx="692.6" cy="519.3"/><circle cx="693.5" cy="515.2"/><circle cx="689.3" cy="509.8"/><circle cx="694.3" cy="513.6"/><circle cx="699.1" cy="509.7"/><circle cx="686.9" cy="517.7"/><circle cx="688.8" cy="510.5"/><circle cx="683.2" cy="511.0"/><circle cx="695.5" cy="517.1"/></g>
<ellipse cx="719.6" cy="493.8" rx="13.0" ry="9.0" fill="url(#g28)" opacity="0.41"/><g class="p" fill="#e0705a" fill-opacity="0.045"><circle cx="726.3" cy="502.1"/><circle cx="728.3" cy="495.8"/><circle cx="713.2" cy="498.3"/><circle cx="711.6" cy="494.1"/><circle cx="720.7" cy="487.4"/><circle cx="711.3" cy="491.3"/><circle cx="718.7" cy="493.9"/><circle cx="726.2" cy="490.6"/><circle cx="724.2" cy="489.1"/><circle cx="713.7" cy="489.2"/><circle cx="715.0" cy="491.0"/><circle cx="716.4" cy="496.3"/><circle cx="725.5" cy="490.4"/><circle cx="711.9" cy="490.2"/><circle cx="721.1" cy="501.0"/><circle cx="728.3" cy="489.7"/><circle cx="724.2" cy="496.0"/><circle cx="716.6" cy="492.7"/><circle cx="715.6" cy="499.7"/><circle cx="731.3" cy="488.8"/><circle cx="716.2" cy="493.3"/><circle cx="715.5" cy="497.6"/><circle cx="720.8" cy="493.0"/><circle cx="712.3" cy="488.2"/><circle cx="719.7" cy="487.0"/><circle cx="723.3" cy="492.2"/><circle cx="724.2" cy="495.0"/><circle cx="722.3" cy="495.3"/><circle cx="716.8" cy="491.7"/><circle cx="718.0" cy="494.3"/></g>
<ellipse cx="720.6" cy="472.5" rx="13.0" ry="9.4" fill="url(#g28)" opacity="0.39"/><g class="p" fill="#e0705a" fill-opacity="0.045"><circle cx="736.9" cy="482.9"/><circle cx="727.8" cy="469.1"/><circle cx="725.6" cy="477.6"/><circle cx="725.2" cy="475.4"/><circle cx="714.4" cy="466.5"/><circle cx="715.5" cy="465.9"/><circle cx="712.8" cy="476.5"/><circle cx="716.9" cy="470.7"/><circle cx="713.9" cy="470.5"/><circle cx="725.7" cy="469.6"/><circle cx="722.5" cy="475.7"/><circle cx="719.6" cy="465.6"/><circle cx="713.9" cy="467.3"/><circle cx="718.7" cy="475.6"/><circle cx="721.9" cy="478.3"/><circle cx="715.4" cy="469.2"/><circle cx="720.1" cy="468.6"/><circle cx="719.1" cy="468.2"/><circle cx="722.7" cy="480.1"/><circle cx="722.4" cy="472.2"/><circle cx="714.5" cy="469.8"/><circle cx="723.5" cy="473.1"/><circle cx="719.5" cy="465.5"/><circle cx="715.6" cy="473.8"/><circle cx="716.1" cy="475.4"/><circle cx="720.9" cy="468.7"/><circle cx="728.6" cy="463.0"/><circle cx="718.6" cy="466.8"/><circle cx="718.9" cy="474.4"/><circle cx="726.4" cy="473.9"/></g>
<ellipse cx="698.5" cy="453.8" rx="13.0" ry="9.4" fill="url(#g28)" opacity="0.39"/><g class="p" fill="#e0705a" fill-opacity="0.045"><circle cx="705.9" cy="459.5"/><circle cx="695.6" cy="460.7"/><circle cx="691.3" cy="458.9"/><circle cx="700.5" cy="447.9"/><circle cx="691.5" cy="448.5"/><circle cx="694.2" cy="450.2"/><circle cx="701.7" cy="456.4"/><circle cx="696.0" cy="455.2"/><circle cx="705.5" cy="454.4"/><circle cx="697.7" cy="455.6"/><circle cx="696.4" cy="451.5"/><circle cx="691.0" cy="449.2"/><circle cx="703.8" cy="459.0"/><circle cx="693.3" cy="455.1"/><circle cx="703.0" cy="458.6"/><circle cx="701.3" cy="448.4"/><circle cx="695.9" cy="456.2"/><circle cx="694.0" cy="455.2"/><circle cx="696.6" cy="456.5"/><circle cx="692.5" cy="461.3"/><circle cx="694.4" cy="451.4"/><circle cx="693.1" cy="458.7"/><circle cx="700.4" cy="454.1"/><circle cx="705.1" cy="449.5"/><circle cx="694.6" cy="454.9"/><circle cx="695.0" cy="452.7"/><circle cx="697.7" cy="452.8"/><circle cx="699.8" cy="449.7"/><circle cx="703.2" cy="453.9"/><circle cx="695.4" cy="451.9"/></g>
<ellipse cx="654.5" cy="438.5" rx="13.5" ry="9.4" fill="url(#g28)" opacity="0.39"/><g class="p" fill="#e0705a" fill-opacity="0.045"><circle cx="654.3" cy="433.8"/><circle cx="655.1" cy="435.6"/><circle cx="650.9" cy="444.4"/><circle cx="655.2" cy="444.0"/><circle cx="657.7" cy="441.0"/><circle cx="662.7" cy="439.2"/><circle cx="657.5" cy="439.8"/><circle cx="663.1" cy="441.9"/><circle cx="658.6" cy="436.9"/><circle cx="652.7" cy="435.5"/><circle cx="651.8" cy="432.9"/><circle cx="659.7" cy="434.0"/><circle cx="659.8" cy="442.9"/><circle cx="661.4" cy="435.6"/><circle cx="659.7" cy="435.4"/><circle cx="647.5" cy="440.2"/><circle cx="653.7" cy="435.9"/><circle cx="664.4" cy="444.8"/><circle cx="649.1" cy="438.0"/><circle cx="652.6" cy="435.4"/><circle cx="656.7" cy="441.3"/><circle cx="659.4" cy="434.2"/><circle cx="657.0" cy="443.0"/><circle cx="644.9" cy="437.1"/><circle cx="650.7" cy="441.0"/><circle cx="647.6" cy="438.1"/><circle cx="653.4" cy="435.6"/><circle cx="654.2" cy="432.7"/><circle cx="649.0" cy="434.9"/><circle cx="657.9" cy="443.4"/></g>
<ellipse cx="601.6" cy="428.6" rx="13.5" ry="9.4" fill="url(#g28)" opacity="0.39"/><g class="p" fill="#e0705a" fill-opacity="0.045"><circle cx="587.5" cy="429.5"/><circle cx="603.3" cy="430.1"/><circle cx="599.5" cy="429.3"/><circle cx="601.0" cy="436.0"/><circle cx="595.6" cy="431.6"/><circle cx="606.7" cy="434.4"/><circle cx="600.3" cy="434.3"/><circle cx="602.1" cy="428.9"/><circle cx="594.3" cy="426.0"/><circle cx="599.7" cy="421.9"/><circle cx="604.1" cy="433.5"/><circle cx="610.1" cy="428.3"/><circle cx="600.5" cy="432.1"/><circle cx="607.0" cy="422.4"/><circle cx="601.1" cy="436.2"/><circle cx="609.1" cy="431.2"/><circle cx="606.8" cy="424.8"/><circle cx="599.8" cy="425.6"/><circle cx="608.3" cy="428.2"/><circle cx="598.0" cy="428.4"/><circle cx="606.9" cy="423.9"/><circle cx="605.3" cy="429.1"/><circle cx="600.8" cy="429.9"/><circle cx="598.5" cy="424.9"/><circle cx="594.9" cy="429.9"/><circle cx="594.8" cy="426.5"/><circle cx="597.8" cy="431.9"/><circle cx="589.4" cy="427.2"/><circle cx="601.5" cy="429.4"/><circle cx="601.3" cy="431.8"/></g>
<ellipse cx="545.0" cy="427.3" rx="13.5" ry="9.4" fill="url(#g28)" opacity="0.41"/><g class="p" fill="#e0705a" fill-opacity="0.045"><circle cx="544.5" cy="414.8"/><circle cx="541.7" cy="429.2"/><circle cx="543.5" cy="434.9"/><circle cx="537.9" cy="425.0"/><circle cx="548.6" cy="426.1"/><circle cx="539.0" cy="422.0"/><circle cx="545.5" cy="428.9"/><circle cx="545.4" cy="426.5"/><circle cx="546.1" cy="434.4"/><circle cx="547.7" cy="433.1"/><circle cx="537.1" cy="428.8"/><circle cx="540.7" cy="423.3"/><circle cx="546.2" cy="425.9"/><circle cx="547.7" cy="430.2"/><circle cx="542.4" cy="434.0"/><circle cx="543.9" cy="428.1"/><circle cx="553.9" cy="430.0"/><circle cx="547.4" cy="431.5"/><circle cx="539.1" cy="429.5"/><circle cx="531.7" cy="425.5"/><circle cx="545.7" cy="422.0"/><circle cx="534.2" cy="422.2"/><circle cx="546.8" cy="428.5"/><circle cx="546.4" cy="426.6"/><circle cx="549.5" cy="429.1"/><circle cx="542.2" cy="427.1"/><circle cx="553.8" cy="425.3"/><circle cx="539.5" cy="422.3"/><circle cx="535.8" cy="422.4"/><circle cx="550.8" cy="429.5"/></g>
<ellipse cx="490.5" cy="431.5" rx="13.0" ry="9.4" fill="url(#g28)" opacity="0.42"/><g class="p" fill="#e0705a" fill-opacity="0.045"><circle cx="500.4" cy="436.6"/><circle cx="497.0" cy="432.4"/><circle cx="486.4" cy="434.9"/><circle cx="492.5" cy="434.2"/><circle cx="482.8" cy="429.5"/><circle cx="489.7" cy="428.4"/><circle cx="492.9" cy="433.9"/><circle cx="496.2" cy="428.5"/><circle cx="486.7" cy="435.2"/><circle cx="493.1" cy="432.6"/><circle cx="494.0" cy="436.0"/><circle cx="492.3" cy="430.0"/><circle cx="497.5" cy="429.3"/><circle cx="490.5" cy="435.7"/><circle cx="489.3" cy="433.7"/><circle cx="493.0" cy="424.6"/><circle cx="490.4" cy="434.5"/><circle cx="490.5" cy="427.9"/><circle cx="490.8" cy="437.3"/><circle cx="494.7" cy="435.9"/><circle cx="486.6" cy="431.4"/><circle cx="488.0" cy="430.9"/><circle cx="486.3" cy="429.0"/><circle cx="496.3" cy="427.2"/><circle cx="493.5" cy="430.9"/><circle cx="488.0" cy="434.1"/><circle cx="491.3" cy="436.3"/><circle cx="499.6" cy="433.9"/><circle cx="488.9" cy="429.3"/><circle cx="483.3" cy="431.8"/></g>
<ellipse cx="442.0" cy="440.0" rx="12.5" ry="9.0" fill="url(#g28)" opacity="0.45"/><g class="p" fill="#e0705a" fill-opacity="0.05"><circle cx="439.1" cy="439.6"/><circle cx="437.0" cy="435.7"/><circle cx="442.9" cy="446.3"/><circle cx="441.4" cy="442.6"/><circle cx="446.3" cy="433.7"/><circle cx="435.8" cy="438.1"/><circle cx="441.3" cy="443.7"/><circle cx="435.1" cy="443.6"/><circle cx="437.2" cy="438.0"/><circle cx="435.0" cy="436.6"/><circle cx="447.4" cy="439.9"/><circle cx="443.2" cy="440.6"/><circle cx="448.5" cy="438.7"/><circle cx="447.1" cy="437.1"/><circle cx="440.3" cy="438.6"/><circle cx="443.5" cy="441.8"/><circle cx="447.1" cy="437.3"/><circle cx="441.0" cy="435.7"/><circle cx="443.9" cy="440.2"/><circle cx="442.8" cy="436.4"/><circle cx="444.8" cy="436.0"/><circle cx="436.7" cy="438.2"/><circle cx="438.2" cy="441.8"/><circle cx="442.4" cy="437.4"/><circle cx="446.1" cy="442.1"/><circle cx="440.9" cy="437.2"/><circle cx="437.5" cy="440.8"/><circle cx="441.7" cy="440.9"/><circle cx="443.4" cy="440.8"/><circle cx="439.0" cy="441.0"/></g>
<ellipse cx="402.6" cy="452.5" rx="12.0" ry="8.8" fill="url(#g28)" opacity="0.49"/><g class="p" fill="#e0705a" fill-opacity="0.05"><circle cx="395.0" cy="455.1"/><circle cx="398.7" cy="454.9"/><circle cx="406.2" cy="450.3"/><circle cx="404.8" cy="456.0"/><circle cx="398.9" cy="446.8"/><circle cx="399.7" cy="450.2"/><circle cx="402.2" cy="456.2"/><circle cx="408.7" cy="451.4"/><circle cx="410.0" cy="450.0"/><circle cx="407.2" cy="448.0"/><circle cx="407.2" cy="449.5"/><circle cx="402.4" cy="455.9"/><circle cx="409.2" cy="449.6"/><circle cx="397.3" cy="454.0"/><circle cx="403.3" cy="453.6"/><circle cx="404.0" cy="458.0"/><circle cx="401.1" cy="453.3"/><circle cx="405.1" cy="455.1"/><circle cx="406.2" cy="452.9"/><circle cx="402.8" cy="453.1"/><circle cx="400.8" cy="446.9"/><circle cx="403.8" cy="452.6"/><circle cx="412.4" cy="451.0"/><circle cx="398.1" cy="450.5"/><circle cx="400.5" cy="454.1"/><circle cx="400.8" cy="454.2"/><circle cx="400.4" cy="450.8"/><circle cx="403.1" cy="452.8"/><circle cx="397.3" cy="453.9"/><circle cx="401.7" cy="458.5"/></g>
<ellipse cx="370.8" cy="461.5" rx="11.0" ry="8.4" fill="url(#g27)" opacity="0.74"/><g class="p" fill="#ea8a6c" fill-opacity="0.06"><circle cx="365.8" cy="460.9"/><circle cx="368.9" cy="463.6"/><circle cx="371.2" cy="455.9"/><circle cx="373.5" cy="466.6"/><circle cx="370.4" cy="466.5"/><circle cx="370.7" cy="464.7"/><circle cx="367.2" cy="457.8"/><circle cx="369.4" cy="461.9"/><circle cx="369.2" cy="464.7"/><circle cx="375.6" cy="461.3"/><circle cx="373.7" cy="466.2"/><circle cx="367.6" cy="460.4"/><circle cx="370.7" cy="460.3"/><circle cx="370.9" cy="462.4"/><circle cx="368.4" cy="465.7"/><circle cx="367.3" cy="462.8"/><circle cx="377.1" cy="465.5"/><circle cx="370.2" cy="462.9"/><circle cx="367.9" cy="462.6"/><circle cx="367.6" cy="464.7"/><circle cx="371.9" cy="459.7"/><circle cx="373.3" cy="459.9"/><circle cx="371.5" cy="459.3"/><circle cx="368.9" cy="463.9"/><circle cx="377.0" cy="466.2"/></g>
<ellipse cx="349.6" cy="470.5" rx="10.0" ry="8.0" fill="url(#g27)" opacity="0.82"/>
<ellipse cx="333.7" cy="479.7" rx="9.0" ry="7.5" fill="url(#g27)" opacity="0.9"/>
<ellipse cx="323.0" cy="486.4" rx="7.0" ry="6.2" fill="url(#g24)" opacity="0.92"/>
<ellipse cx="316.5" cy="491.0" rx="5.5" ry="5.0" fill="url(#g24)" opacity="0.95"/>
<ellipse cx="311.0" cy="494.5" rx="4.5" ry="4.0" fill="url(#g24)" opacity="0.95"/>
<ellipse cx="307.5" cy="497.0" rx="3.5" ry="3.2" fill="url(#g24)" opacity="0.95"/>
<path d="M305.5,497.5L309.0,499.0L315.0,501.0L325.0,504.5L337.0,507.0L362.2,514.2L400.5,522.8L452.0,531.0L517.0,537.0L582.6,536.3L643.5,527.5L692.7,514.0L719.6,493.8L720.6,472.5L698.5,453.8L654.5,438.5L601.6,428.6L545.0,427.3L490.5,431.5L442.0,440.0L402.6,452.5L370.8,461.5L349.6,470.5L333.7,479.7L323.0,486.4L316.5,491.0L311.0,494.5L307.5,497.0L305.5,497.5" fill="none" stroke="#d63a2c" stroke-width="1.3" stroke-linejoin="round"/>
<ellipse cx="304.8" cy="496.5" rx="5.0" ry="5.0" fill="url(#g16)" opacity="1.0"/>
<ellipse cx="305.0" cy="496.8" rx="4.0" ry="4.0" fill="url(#g23)" opacity="1.0"/>
<ellipse cx="307.5" cy="492.6" rx="6.0" ry="6.0" fill="url(#g16)" opacity="1.0"/>
<ellipse cx="307.9" cy="493.0" rx="4.7" ry="4.7" fill="url(#g22)" opacity="1.0"/>
<ellipse cx="312.0" cy="486.5" rx="7.0" ry="7.0" fill="url(#g16)" opacity="1.0"/>
<ellipse cx="312.5" cy="487.0" rx="5.4" ry="5.5" fill="url(#g21)" opacity="1.0"/>
<ellipse cx="317.2" cy="477.8" rx="8.0" ry="8.4" fill="url(#g16)" opacity="1.0"/>
<ellipse cx="317.8" cy="478.4" rx="6.2" ry="6.6" fill="url(#g17)" opacity="1.0"/>
<ellipse cx="325.0" cy="465.8" rx="9.5" ry="10.0" fill="url(#g16)" opacity="1.0"/>
<ellipse cx="325.8" cy="466.5" rx="7.0" ry="7.5" fill="url(#g17)" opacity="1.0"/>
<ellipse cx="339.2" cy="448.0" rx="10.5" ry="11.0" fill="url(#g15)" opacity="0.85"/><g class="p" fill="#a6cf90" fill-opacity="0.16" stroke="#a6cf90" stroke-opacity="0.1"><circle cx="335.1" cy="447.0"/><circle cx="341.3" cy="447.0"/><circle cx="340.7" cy="447.0"/><circle cx="333.9" cy="450.8"/><circle cx="337.3" cy="451.0"/><circle cx="338.5" cy="444.2"/><circle cx="338.8" cy="446.5"/><circle cx="341.3" cy="443.9"/><circle cx="341.9" cy="452.3"/><circle cx="336.3" cy="452.9"/><circle cx="342.0" cy="442.5"/><circle cx="334.1" cy="449.9"/><circle cx="338.6" cy="449.2"/><circle cx="338.1" cy="445.9"/><circle cx="338.1" cy="443.7"/><circle cx="340.6" cy="453.4"/><circle cx="342.0" cy="454.0"/><circle cx="343.7" cy="452.4"/><circle cx="344.0" cy="451.7"/><circle cx="342.2" cy="453.0"/><circle cx="338.5" cy="446.9"/><circle cx="336.9" cy="451.2"/><circle cx="339.8" cy="446.0"/><circle cx="338.5" cy="449.5"/><circle cx="340.2" cy="451.0"/><circle cx="343.0" cy="446.6"/><circle cx="336.6" cy="446.6"/><circle cx="339.7" cy="446.2"/><circle cx="340.2" cy="444.2"/><circle cx="339.2" cy="449.2"/><circle cx="336.9" cy="450.6"/><circle cx="344.0" cy="438.2"/><circle cx="337.1" cy="447.5"/><circle cx="341.4" cy="444.8"/><circle cx="339.7" cy="452.7"/><circle cx="340.1" cy="446.3"/><circle cx="337.6" cy="448.9"/><circle cx="340.5" cy="449.3"/><circle cx="339.3" cy="441.1"/><circle cx="336.9" cy="447.1"/></g>
<ellipse cx="339.7" cy="448.6" rx="6.6" ry="7.0" fill="url(#g20)" opacity="1.0"/>
<ellipse cx="804.4" cy="485.3" rx="20.3" ry="8.0" transform="rotate(3 804.4 485.3)" fill="url(#g1)" opacity="0.42"/><g class="p" fill="#548dca" fill-opacity="0.1" stroke="#548dca" stroke-opacity="0.14"><circle cx="828.1" cy="483.7"/><circle cx="806.3" cy="497.1"/><circle cx="793.6" cy="481.1"/><circle cx="803.9" cy="485.1"/><circle cx="816.5" cy="486.5"/><circle cx="821.4" cy="486.4"/><circle cx="787.2" cy="482.4"/><circle cx="795.1" cy="485.8"/><circle cx="818.8" cy="488.1"/><circle cx="803.8" cy="487.2"/><circle cx="799.3" cy="488.7"/><circle cx="800.7" cy="486.6"/><circle cx="800.8" cy="481.3"/><circle cx="811.3" cy="489.1"/><circle cx="793.7" cy="485.8"/><circle cx="795.6" cy="482.9"/><circle cx="819.9" cy="484.6"/><circle cx="814.3" cy="488.3"/><circle cx="815.2" cy="487.5"/><circle cx="806.6" cy="487.1"/><circle cx="806.1" cy="488.2"/><circle cx="813.4" cy="490.0"/><circle cx="821.2" cy="488.6"/><circle cx="807.2" cy="488.6"/><circle cx="807.1" cy="490.4"/><circle cx="786.5" cy="485.0"/><circle cx="799.1" cy="483.0"/><circle cx="797.7" cy="487.1"/><circle cx="812.1" cy="489.6"/><circle cx="813.2" cy="487.4"/><circle cx="802.6" cy="490.4"/><circle cx="809.8" cy="488.4"/><circle cx="788.0" cy="485.0"/><circle cx="815.8" cy="482.6"/><circle cx="802.7" cy="482.8"/><circle cx="809.4" cy="490.4"/><circle cx="815.2" cy="486.6"/><circle cx="810.2" cy="486.3"/><circle cx="800.4" cy="485.6"/><circle cx="795.8" cy="487.6"/><circle cx="798.3" cy="481.1"/><circle cx="813.0" cy="487.2"/><circle cx="803.6" cy="490.2"/><circle cx="800.6" cy="482.5"/><circle cx="788.3" cy="482.4"/><circle cx="800.9" cy="485.0"/><circle cx="812.6" cy="484.1"/><circle cx="810.2" cy="487.0"/><circle cx="808.6" cy="488.9"/><circle cx="794.0" cy="483.5"/><circle cx="793.3" cy="483.4"/><circle cx="822.1" cy="485.6"/><circle cx="819.0" cy="485.5"/><circle cx="791.7" cy="482.5"/><circle cx="805.2" cy="482.0"/><circle cx="799.0" cy="480.4"/><circle cx="813.4" cy="488.6"/><circle cx="791.2" cy="481.8"/><circle cx="797.8" cy="489.8"/><circle cx="794.7" cy="488.1"/><circle cx="811.3" cy="488.6"/><circle cx="814.3" cy="486.0"/><circle cx="815.8" cy="481.8"/><circle cx="801.2" cy="480.5"/><circle cx="804.9" cy="480.5"/><circle cx="813.0" cy="481.5"/><circle cx="800.5" cy="485.5"/><circle cx="813.6" cy="489.2"/><circle cx="800.4" cy="483.2"/><circle cx="808.5" cy="484.6"/><circle cx="801.5" cy="487.9"/><circle cx="819.6" cy="486.8"/><circle cx="802.6" cy="486.6"/><circle cx="787.4" cy="484.4"/><circle cx="794.6" cy="490.8"/><circle cx="810.9" cy="486.0"/><circle cx="803.0" cy="478.9"/><circle cx="810.6" cy="489.7"/><circle cx="797.8" cy="486.7"/><circle cx="811.1" cy="481.8"/><circle cx="812.6" cy="489.1"/><circle cx="806.5" cy="485.2"/><circle cx="811.7" cy="481.8"/><circle cx="805.1" cy="488.0"/><circle cx="793.1" cy="487.2"/><circle cx="800.9" cy="479.9"/><circle cx="803.6" cy="482.8"/><circle cx="807.4" cy="482.5"/><circle cx="813.9" cy="484.0"/><circle cx="807.7" cy="484.0"/><circle cx="801.3" cy="488.1"/><circle cx="806.4" cy="484.4"/><circle cx="793.0" cy="487.6"/><circle cx="811.0" cy="484.8"/><circle cx="806.7" cy="482.8"/><circle cx="795.4" cy="482.8"/><circle cx="807.5" cy="486.2"/><circle cx="797.6" cy="486.8"/><circle cx="811.4" cy="486.1"/><circle cx="813.8" cy="485.1"/><circle cx="803.3" cy="486.4"/><circle cx="804.0" cy="487.3"/><circle cx="793.0" cy="488.3"/><circle cx="797.4" cy="484.5"/><circle cx="791.9" cy="486.1"/><circle cx="815.7" cy="488.6"/><circle cx="812.1" cy="481.8"/><circle cx="797.4" cy="483.8"/><circle cx="795.9" cy="487.7"/><circle cx="806.1" cy="485.3"/><circle cx="808.9" cy="483.2"/><circle cx="796.4" cy="482.7"/><circle cx="808.8" cy="486.4"/><circle cx="809.5" cy="488.3"/><circle cx="792.3" cy="483.3"/><circle cx="805.9" cy="482.0"/><circle cx="799.5" cy="487.6"/><circle cx="814.2" cy="488.5"/><circle cx="804.8" cy="484.8"/><circle cx="814.2" cy="484.9"/><circle cx="807.3" cy="488.8"/><circle cx="801.2" cy="483.6"/><circle cx="804.2" cy="486.8"/><circle cx="808.7" cy="485.9"/><circle cx="809.6" cy="481.6"/><circle cx="796.7" cy="485.3"/><circle cx="796.2" cy="481.5"/><circle cx="793.7" cy="482.4"/><circle cx="802.9" cy="482.7"/><circle cx="806.3" cy="489.6"/></g>
<ellipse cx="936.4" cy="388.6" rx="17.0" ry="8.0" fill="url(#g2)" opacity="0.3"/><g class="p" fill="#4c84c2" fill-opacity="0.095" stroke="#4c84c2" stroke-opacity="0.15"><circle cx="933.1" cy="403.0"/><circle cx="936.6" cy="380.9"/><circle cx="948.3" cy="382.3"/><circle cx="927.6" cy="390.9"/><circle cx="920.0" cy="385.9"/><circle cx="929.6" cy="383.4"/><circle cx="913.3" cy="389.4"/><circle cx="932.2" cy="385.1"/><circle cx="931.5" cy="389.1"/><circle cx="943.8" cy="380.1"/><circle cx="934.2" cy="383.8"/><circle cx="944.2" cy="390.6"/><circle cx="938.2" cy="382.8"/><circle cx="933.4" cy="394.0"/><circle cx="948.7" cy="391.4"/><circle cx="952.2" cy="394.6"/><circle cx="930.7" cy="393.2"/><circle cx="927.9" cy="388.1"/><circle cx="931.1" cy="392.4"/><circle cx="943.0" cy="397.4"/><circle cx="938.3" cy="382.5"/><circle cx="926.4" cy="392.6"/><circle cx="951.0" cy="382.7"/><circle cx="937.2" cy="397.7"/><circle cx="930.2" cy="382.3"/><circle cx="923.1" cy="395.3"/><circle cx="943.5" cy="384.7"/><circle cx="927.9" cy="384.1"/><circle cx="928.6" cy="382.1"/><circle cx="946.0" cy="391.1"/><circle cx="936.5" cy="383.6"/><circle cx="930.2" cy="391.8"/><circle cx="935.7" cy="383.8"/><circle cx="948.6" cy="381.4"/><circle cx="951.6" cy="394.5"/><circle cx="944.3" cy="388.9"/><circle cx="937.1" cy="383.0"/><circle cx="956.1" cy="387.0"/><circle cx="954.2" cy="383.5"/><circle cx="920.1" cy="391.4"/><circle cx="946.5" cy="381.6"/><circle cx="947.8" cy="389.3"/><circle cx="955.9" cy="391.6"/><circle cx="917.7" cy="384.4"/><circle cx="921.5" cy="387.6"/><circle cx="941.6" cy="384.5"/><circle cx="936.8" cy="390.3"/><circle cx="918.1" cy="390.3"/><circle cx="955.2" cy="388.1"/><circle cx="936.1" cy="388.9"/><circle cx="922.3" cy="392.5"/><circle cx="918.5" cy="382.9"/><circle cx="940.4" cy="388.6"/><circle cx="940.0" cy="391.8"/><circle cx="934.3" cy="386.5"/><circle cx="923.0" cy="391.8"/><circle cx="924.5" cy="392.0"/><circle cx="935.5" cy="397.4"/><circle cx="930.4" cy="389.1"/><circle cx="927.0" cy="386.7"/><circle cx="960.1" cy="390.7"/><circle cx="934.3" cy="392.5"/><circle cx="941.9" cy="390.6"/><circle cx="930.8" cy="388.9"/><circle cx="938.6" cy="385.8"/><circle cx="924.1" cy="389.2"/><circle cx="947.1" cy="391.4"/><circle cx="941.8" cy="390.8"/><circle cx="964.8" cy="389.7"/><circle cx="947.9" cy="397.2"/><circle cx="937.0" cy="389.8"/><circle cx="947.9" cy="396.0"/><circle cx="939.8" cy="390.2"/><circle cx="937.4" cy="383.3"/><circle cx="948.7" cy="387.5"/><circle cx="917.5" cy="388.0"/><circle cx="917.4" cy="384.2"/><circle cx="936.6" cy="384.6"/><circle cx="948.2" cy="382.2"/><circle cx="939.4" cy="391.1"/><circle cx="952.5" cy="392.7"/><circle cx="939.1" cy="389.0"/><circle cx="935.8" cy="393.6"/><circle cx="929.3" cy="390.9"/><circle cx="935.5" cy="389.7"/><circle cx="933.6" cy="398.0"/><circle cx="929.3" cy="389.8"/><circle cx="939.6" cy="391.3"/><circle cx="941.5" cy="390.5"/><circle cx="947.3" cy="382.0"/><circle cx="936.6" cy="383.2"/><circle cx="939.1" cy="383.4"/><circle cx="926.0" cy="388.4"/><circle cx="951.9" cy="391.2"/><circle cx="939.8" cy="394.8"/><circle cx="926.1" cy="379.5"/><circle cx="931.9" cy="387.4"/><circle cx="950.1" cy="398.1"/><circle cx="921.9" cy="399.6"/><circle cx="953.8" cy="392.4"/><circle cx="940.6" cy="399.3"/><circle cx="937.4" cy="386.6"/><circle cx="938.1" cy="382.6"/><circle cx="941.7" cy="388.2"/><circle cx="940.2" cy="390.2"/><circle cx="924.9" cy="394.5"/><circle cx="925.4" cy="392.6"/><circle cx="919.0" cy="390.3"/><circle cx="927.5" cy="388.9"/><circle cx="929.4" cy="379.1"/><circle cx="924.3" cy="389.0"/><circle cx="943.4" cy="382.2"/><circle cx="913.2" cy="384.8"/><circle cx="934.2" cy="385.9"/><circle cx="927.7" cy="392.4"/><circle cx="947.2" cy="391.9"/><circle cx="926.3" cy="389.0"/><circle cx="934.4" cy="382.4"/><circle cx="946.3" cy="389.1"/><circle cx="931.2" cy="394.9"/></g>
<ellipse cx="981.5" cy="267.9" rx="15.0" ry="9.0" transform="rotate(5 981.5 267.9)" fill="url(#g3)" opacity="0.25"/><g class="p" fill="#4a80be" fill-opacity="0.09" stroke="#4a80be" stroke-opacity="0.15"><circle cx="981.7" cy="263.9"/><circle cx="950.0" cy="281.7"/><circle cx="955.3" cy="262.5"/><circle cx="992.1" cy="272.2"/><circle cx="965.1" cy="272.1"/><circle cx="989.5" cy="272.7"/><circle cx="972.3" cy="260.9"/><circle cx="964.3" cy="268.9"/><circle cx="994.5" cy="270.3"/><circle cx="991.5" cy="268.1"/><circle cx="998.0" cy="266.3"/><circle cx="979.0" cy="278.4"/><circle cx="993.6" cy="258.5"/><circle cx="969.1" cy="268.7"/><circle cx="976.7" cy="262.0"/><circle cx="978.2" cy="264.9"/><circle cx="980.8" cy="262.4"/><circle cx="978.1" cy="268.3"/><circle cx="987.9" cy="273.3"/><circle cx="988.8" cy="258.8"/><circle cx="974.3" cy="268.8"/><circle cx="964.3" cy="269.9"/><circle cx="982.8" cy="261.5"/><circle cx="977.7" cy="262.3"/><circle cx="997.2" cy="268.7"/><circle cx="969.7" cy="272.0"/><circle cx="972.1" cy="261.0"/><circle cx="988.0" cy="270.5"/><circle cx="993.8" cy="274.9"/><circle cx="979.9" cy="279.2"/><circle cx="981.0" cy="269.0"/><circle cx="975.4" cy="268.5"/><circle cx="983.0" cy="277.2"/><circle cx="993.4" cy="266.3"/><circle cx="971.1" cy="269.6"/><circle cx="964.3" cy="274.5"/><circle cx="992.0" cy="264.9"/><circle cx="988.6" cy="257.4"/><circle cx="984.6" cy="258.8"/><circle cx="985.0" cy="267.1"/><circle cx="981.1" cy="261.7"/><circle cx="979.1" cy="270.8"/><circle cx="997.7" cy="267.2"/><circle cx="1002.5" cy="271.7"/><circle cx="985.8" cy="266.6"/><circle cx="978.1" cy="268.6"/><circle cx="979.3" cy="269.5"/><circle cx="969.8" cy="267.9"/><circle cx="973.8" cy="270.1"/><circle cx="996.4" cy="260.1"/><circle cx="989.2" cy="258.6"/><circle cx="982.1" cy="256.2"/><circle cx="982.6" cy="277.1"/><circle cx="962.2" cy="270.3"/><circle cx="998.0" cy="274.0"/><circle cx="981.5" cy="261.4"/><circle cx="998.8" cy="272.0"/><circle cx="971.6" cy="271.0"/><circle cx="989.8" cy="275.3"/><circle cx="994.5" cy="260.2"/><circle cx="989.5" cy="273.7"/><circle cx="995.3" cy="278.9"/><circle cx="978.5" cy="260.6"/><circle cx="953.7" cy="263.3"/><circle cx="989.3" cy="270.7"/><circle cx="982.9" cy="266.1"/><circle cx="974.9" cy="265.7"/><circle cx="986.4" cy="258.4"/><circle cx="989.8" cy="260.4"/><circle cx="980.2" cy="264.2"/><circle cx="978.1" cy="261.7"/><circle cx="969.5" cy="265.5"/><circle cx="968.9" cy="280.6"/><circle cx="977.4" cy="263.8"/><circle cx="976.2" cy="261.4"/><circle cx="955.9" cy="264.2"/><circle cx="985.4" cy="259.7"/><circle cx="982.1" cy="261.1"/><circle cx="980.9" cy="269.8"/><circle cx="986.3" cy="270.7"/><circle cx="973.6" cy="272.1"/><circle cx="976.6" cy="269.4"/><circle cx="988.9" cy="266.8"/><circle cx="967.7" cy="270.1"/><circle cx="970.2" cy="261.9"/><circle cx="969.5" cy="271.5"/><circle cx="980.8" cy="255.1"/><circle cx="988.1" cy="280.1"/><circle cx="1000.5" cy="266.3"/><circle cx="982.0" cy="270.7"/><circle cx="990.7" cy="268.8"/><circle cx="969.6" cy="271.0"/><circle cx="988.5" cy="261.0"/><circle cx="977.4" cy="269.0"/><circle cx="981.1" cy="270.8"/><circle cx="989.4" cy="271.6"/><circle cx="980.8" cy="260.2"/><circle cx="987.1" cy="276.2"/><circle cx="1002.1" cy="269.4"/><circle cx="980.3" cy="275.9"/><circle cx="996.3" cy="271.0"/><circle cx="989.2" cy="264.2"/><circle cx="987.9" cy="263.7"/><circle cx="979.9" cy="267.0"/><circle cx="977.5" cy="255.6"/><circle cx="972.6" cy="268.9"/><circle cx="980.9" cy="265.6"/><circle cx="985.5" cy="272.0"/><circle cx="990.6" cy="264.1"/><circle cx="981.7" cy="266.0"/><circle cx="972.9" cy="258.6"/><circle cx="980.7" cy="262.8"/><circle cx="1003.9" cy="269.2"/><circle cx="979.2" cy="265.4"/><circle cx="1001.4" cy="264.3"/><circle cx="980.0" cy="263.4"/><circle cx="980.0" cy="267.5"/><circle cx="993.5" cy="260.9"/><circle cx="980.3" cy="276.8"/><circle cx="976.1" cy="266.3"/></g>
<ellipse cx="930.5" cy="166.0" rx="13.0" ry="11.0" fill="url(#g3)" opacity="0.24"/><g class="p" fill="#4a80be" fill-opacity="0.09" stroke="#4a80be" stroke-opacity="0.15"><circle cx="923.3" cy="151.6"/><circle cx="925.6" cy="173.5"/><circle cx="950.2" cy="161.7"/><circle cx="949.0" cy="180.2"/><circle cx="921.5" cy="162.8"/><circle cx="923.3" cy="180.4"/><circle cx="924.3" cy="167.6"/><circle cx="932.9" cy="166.1"/><circle cx="947.6" cy="167.5"/><circle cx="913.5" cy="165.3"/><circle cx="936.6" cy="153.7"/><circle cx="942.9" cy="165.9"/><circle cx="936.3" cy="150.9"/><circle cx="919.0" cy="164.4"/><circle cx="929.2" cy="164.5"/><circle cx="924.9" cy="156.5"/><circle cx="928.8" cy="154.2"/><circle cx="943.9" cy="165.4"/><circle cx="921.1" cy="178.8"/><circle cx="926.1" cy="167.4"/><circle cx="933.5" cy="151.1"/><circle cx="933.3" cy="177.5"/><circle cx="943.2" cy="173.9"/><circle cx="939.9" cy="159.8"/><circle cx="940.3" cy="166.9"/><circle cx="938.7" cy="160.1"/><circle cx="938.6" cy="161.6"/><circle cx="936.7" cy="175.5"/><circle cx="931.0" cy="153.4"/><circle cx="926.5" cy="180.5"/><circle cx="929.5" cy="172.8"/><circle cx="942.6" cy="164.9"/><circle cx="940.5" cy="158.2"/><circle cx="932.0" cy="151.3"/><circle cx="916.5" cy="171.4"/><circle cx="944.7" cy="164.9"/><circle cx="917.1" cy="160.2"/><circle cx="942.5" cy="164.6"/><circle cx="927.6" cy="151.6"/><circle cx="946.3" cy="170.3"/><circle cx="934.6" cy="154.3"/><circle cx="933.7" cy="161.2"/><circle cx="939.1" cy="158.8"/><circle cx="923.8" cy="160.2"/><circle cx="938.2" cy="167.7"/><circle cx="937.1" cy="159.4"/><circle cx="916.1" cy="173.0"/><circle cx="934.0" cy="175.1"/><circle cx="933.6" cy="176.3"/><circle cx="933.8" cy="175.6"/><circle cx="933.6" cy="159.6"/><circle cx="942.8" cy="171.4"/><circle cx="940.7" cy="160.8"/><circle cx="947.9" cy="167.7"/><circle cx="928.1" cy="153.3"/><circle cx="932.7" cy="182.0"/><circle cx="913.8" cy="164.6"/><circle cx="936.1" cy="176.3"/><circle cx="932.4" cy="164.8"/><circle cx="935.1" cy="172.3"/><circle cx="918.4" cy="165.3"/><circle cx="915.8" cy="158.5"/><circle cx="924.9" cy="157.9"/><circle cx="932.4" cy="162.5"/><circle cx="929.7" cy="158.2"/><circle cx="924.1" cy="169.7"/><circle cx="933.4" cy="162.3"/><circle cx="933.4" cy="167.2"/><circle cx="931.6" cy="177.9"/><circle cx="926.9" cy="169.0"/><circle cx="933.8" cy="164.0"/><circle cx="920.5" cy="171.0"/><circle cx="932.4" cy="166.1"/><circle cx="930.4" cy="165.9"/><circle cx="922.7" cy="167.9"/><circle cx="915.0" cy="165.5"/><circle cx="917.6" cy="163.0"/><circle cx="936.1" cy="163.7"/><circle cx="926.1" cy="169.5"/><circle cx="927.8" cy="162.5"/><circle cx="926.8" cy="177.1"/><circle cx="935.7" cy="169.3"/><circle cx="920.1" cy="170.3"/><circle cx="919.2" cy="169.2"/><circle cx="920.7" cy="180.4"/><circle cx="915.9" cy="174.8"/><circle cx="936.7" cy="152.1"/><circle cx="928.0" cy="176.5"/><circle cx="939.5" cy="152.9"/><circle cx="925.6" cy="156.6"/><circle cx="921.4" cy="160.6"/><circle cx="945.4" cy="166.5"/><circle cx="928.1" cy="163.0"/><circle cx="935.6" cy="170.8"/><circle cx="922.2" cy="176.7"/><circle cx="920.9" cy="163.4"/><circle cx="933.7" cy="178.5"/><circle cx="927.0" cy="167.7"/><circle cx="940.9" cy="170.2"/><circle cx="939.4" cy="173.4"/><circle cx="932.1" cy="170.3"/><circle cx="937.7" cy="165.3"/><circle cx="943.4" cy="150.4"/><circle cx="922.2" cy="176.5"/><circle cx="933.5" cy="160.6"/><circle cx="933.1" cy="173.8"/><circle cx="925.3" cy="171.3"/><circle cx="928.9" cy="164.6"/><circle cx="929.4" cy="174.0"/><circle cx="920.6" cy="162.7"/><circle cx="935.5" cy="156.3"/><circle cx="916.7" cy="169.8"/><circle cx="930.0" cy="164.4"/><circle cx="931.2" cy="158.1"/><circle cx="954.4" cy="158.0"/><circle cx="926.3" cy="154.7"/><circle cx="926.5" cy="177.1"/><circle cx="930.1" cy="170.0"/><circle cx="925.9" cy="179.3"/><circle cx="931.3" cy="156.0"/></g>
<ellipse cx="815.0" cy="121.0" rx="15.0" ry="10.0" transform="rotate(-60 815.0 121.0)" fill="url(#g3)" opacity="0.2"/><g class="p" fill="#4a80be" fill-opacity="0.09" stroke="#4a80be" stroke-opacity="0.15"><circle cx="804.3" cy="146.7"/><circle cx="822.0" cy="122.9"/><circle cx="812.2" cy="133.1"/><circle cx="813.8" cy="134.5"/><circle cx="810.7" cy="121.2"/><circle cx="799.5" cy="135.5"/><circle cx="823.2" cy="134.1"/><circle cx="827.5" cy="117.9"/><circle cx="816.9" cy="128.0"/><circle cx="810.8" cy="131.1"/><circle cx="821.2" cy="120.6"/><circle cx="822.4" cy="132.2"/><circle cx="815.1" cy="108.8"/><circle cx="810.6" cy="142.4"/><circle cx="825.3" cy="115.7"/><circle cx="805.1" cy="123.2"/><circle cx="817.5" cy="136.2"/><circle cx="802.8" cy="139.4"/><circle cx="814.2" cy="136.0"/><circle cx="821.1" cy="117.4"/><circle cx="809.2" cy="118.6"/><circle cx="801.3" cy="134.1"/><circle cx="824.5" cy="102.7"/><circle cx="827.1" cy="100.9"/><circle cx="802.5" cy="132.1"/><circle cx="810.8" cy="140.2"/><circle cx="810.4" cy="138.9"/><circle cx="804.0" cy="118.1"/><circle cx="827.2" cy="126.9"/><circle cx="814.1" cy="130.5"/><circle cx="821.9" cy="117.8"/><circle cx="806.0" cy="129.7"/><circle cx="811.3" cy="134.5"/><circle cx="829.5" cy="103.7"/><circle cx="828.1" cy="125.5"/><circle cx="813.8" cy="139.0"/><circle cx="801.6" cy="138.5"/><circle cx="825.6" cy="113.0"/><circle cx="797.6" cy="130.8"/><circle cx="808.3" cy="106.4"/><circle cx="817.3" cy="128.2"/><circle cx="824.9" cy="111.4"/><circle cx="824.7" cy="117.5"/><circle cx="809.7" cy="117.0"/><circle cx="801.2" cy="139.0"/><circle cx="826.0" cy="116.2"/><circle cx="831.0" cy="117.7"/><circle cx="810.8" cy="108.1"/><circle cx="810.9" cy="121.5"/><circle cx="804.3" cy="120.8"/><circle cx="830.5" cy="114.6"/><circle cx="821.2" cy="109.2"/><circle cx="821.9" cy="125.3"/><circle cx="816.0" cy="126.6"/><circle cx="824.7" cy="124.7"/><circle cx="821.3" cy="99.8"/><circle cx="812.6" cy="122.1"/><circle cx="800.5" cy="136.9"/><circle cx="812.3" cy="137.6"/><circle cx="807.0" cy="119.3"/><circle cx="818.3" cy="111.1"/><circle cx="822.8" cy="123.3"/><circle cx="821.9" cy="123.9"/><circle cx="812.1" cy="120.3"/><circle cx="810.8" cy="121.3"/><circle cx="822.7" cy="126.9"/><circle cx="798.6" cy="126.3"/><circle cx="825.2" cy="127.0"/><circle cx="828.9" cy="115.6"/><circle cx="817.6" cy="106.5"/><circle cx="799.7" cy="110.5"/><circle cx="815.5" cy="128.8"/><circle cx="794.2" cy="128.5"/><circle cx="809.4" cy="134.0"/><circle cx="837.4" cy="118.8"/><circle cx="814.0" cy="101.9"/><circle cx="803.5" cy="143.5"/><circle cx="811.4" cy="105.0"/><circle cx="809.9" cy="124.2"/><circle cx="814.6" cy="119.8"/><circle cx="824.8" cy="119.5"/><circle cx="820.5" cy="122.6"/><circle cx="820.4" cy="98.1"/><circle cx="813.0" cy="132.4"/><circle cx="826.9" cy="103.6"/><circle cx="819.9" cy="109.1"/><circle cx="817.0" cy="109.7"/><circle cx="822.0" cy="115.5"/><circle cx="826.4" cy="121.6"/><circle cx="818.2" cy="108.3"/><circle cx="810.6" cy="106.1"/><circle cx="838.2" cy="120.7"/><circle cx="822.1" cy="117.2"/><circle cx="821.6" cy="122.7"/><circle cx="817.8" cy="127.0"/><circle cx="812.2" cy="121.4"/><circle cx="816.7" cy="118.9"/><circle cx="819.4" cy="144.1"/><circle cx="806.9" cy="113.0"/><circle cx="822.2" cy="109.9"/><circle cx="821.8" cy="120.8"/><circle cx="793.7" cy="118.5"/><circle cx="817.4" cy="122.0"/><circle cx="817.4" cy="108.0"/><circle cx="817.4" cy="124.2"/><circle cx="813.2" cy="122.4"/><circle cx="811.8" cy="114.3"/><circle cx="819.6" cy="101.9"/><circle cx="814.6" cy="118.7"/><circle cx="815.8" cy="128.9"/><circle cx="830.8" cy="115.7"/><circle cx="816.9" cy="113.1"/><circle cx="812.4" cy="107.0"/><circle cx="819.8" cy="121.6"/><circle cx="812.5" cy="110.9"/><circle cx="818.2" cy="140.4"/><circle cx="803.5" cy="119.4"/><circle cx="809.5" cy="132.2"/><circle cx="822.7" cy="109.1"/><circle cx="824.2" cy="109.7"/></g>
<ellipse cx="675.0" cy="137.5" rx="16.0" ry="9.0" transform="rotate(-50 675.0 137.5)" fill="url(#g3)" opacity="0.22"/><g class="p" fill="#4a80be" fill-opacity="0.09" stroke="#4a80be" stroke-opacity="0.15"><circle cx="673.7" cy="132.1"/><circle cx="657.5" cy="128.2"/><circle cx="677.9" cy="130.1"/><circle cx="680.4" cy="136.6"/><circle cx="670.4" cy="147.0"/><circle cx="678.8" cy="137.2"/><circle cx="671.1" cy="129.9"/><circle cx="686.7" cy="127.5"/><circle cx="687.2" cy="138.2"/><circle cx="674.2" cy="136.3"/><circle cx="661.1" cy="152.6"/><circle cx="678.9" cy="135.5"/><circle cx="686.1" cy="123.4"/><circle cx="674.3" cy="140.2"/><circle cx="665.4" cy="157.6"/><circle cx="668.0" cy="132.8"/><circle cx="663.9" cy="151.4"/><circle cx="675.0" cy="133.2"/><circle cx="658.8" cy="153.1"/><circle cx="680.0" cy="141.2"/><circle cx="662.5" cy="149.5"/><circle cx="675.8" cy="123.0"/><circle cx="680.3" cy="147.6"/><circle cx="663.9" cy="142.0"/><circle cx="670.3" cy="140.9"/><circle cx="660.6" cy="137.2"/><circle cx="673.2" cy="146.9"/><circle cx="677.4" cy="138.5"/><circle cx="662.1" cy="140.2"/><circle cx="676.9" cy="120.9"/><circle cx="670.7" cy="143.7"/><circle cx="678.8" cy="136.0"/><circle cx="672.4" cy="126.1"/><circle cx="661.4" cy="151.2"/><circle cx="667.2" cy="138.1"/><circle cx="684.7" cy="131.7"/><circle cx="670.3" cy="127.1"/><circle cx="674.3" cy="140.3"/><circle cx="678.4" cy="127.6"/><circle cx="680.7" cy="142.0"/><circle cx="689.9" cy="120.4"/><circle cx="675.8" cy="146.1"/><circle cx="672.2" cy="136.5"/><circle cx="664.5" cy="134.2"/><circle cx="676.7" cy="122.8"/><circle cx="679.6" cy="138.4"/><circle cx="658.9" cy="147.8"/><circle cx="690.0" cy="126.2"/><circle cx="682.1" cy="140.2"/><circle cx="689.1" cy="124.8"/><circle cx="662.2" cy="143.2"/><circle cx="681.7" cy="119.3"/><circle cx="656.6" cy="148.5"/><circle cx="664.0" cy="144.0"/><circle cx="677.5" cy="131.3"/><circle cx="675.1" cy="147.3"/><circle cx="660.5" cy="149.7"/><circle cx="673.7" cy="130.2"/><circle cx="680.6" cy="137.7"/><circle cx="668.7" cy="136.7"/><circle cx="671.6" cy="130.0"/><circle cx="682.7" cy="131.8"/><circle cx="670.3" cy="142.5"/><circle cx="670.8" cy="137.3"/><circle cx="699.0" cy="136.3"/><circle cx="686.4" cy="133.5"/><circle cx="675.2" cy="134.5"/><circle cx="690.9" cy="115.8"/><circle cx="678.1" cy="133.2"/><circle cx="679.9" cy="131.7"/><circle cx="674.7" cy="127.2"/><circle cx="680.6" cy="143.1"/><circle cx="664.7" cy="144.4"/><circle cx="687.8" cy="126.1"/><circle cx="674.2" cy="119.4"/><circle cx="671.2" cy="131.3"/><circle cx="666.5" cy="151.5"/><circle cx="678.2" cy="121.0"/><circle cx="664.4" cy="145.4"/><circle cx="668.8" cy="133.6"/><circle cx="695.4" cy="118.6"/><circle cx="670.4" cy="138.7"/><circle cx="703.0" cy="124.0"/><circle cx="673.1" cy="143.1"/><circle cx="680.1" cy="121.4"/><circle cx="676.7" cy="147.6"/><circle cx="668.1" cy="142.2"/><circle cx="661.7" cy="147.0"/><circle cx="677.1" cy="128.0"/><circle cx="662.5" cy="147.1"/><circle cx="689.8" cy="121.7"/><circle cx="671.6" cy="143.1"/><circle cx="679.2" cy="133.7"/><circle cx="662.5" cy="155.2"/><circle cx="677.2" cy="142.4"/><circle cx="669.2" cy="153.7"/><circle cx="663.9" cy="135.8"/><circle cx="683.2" cy="123.3"/><circle cx="677.3" cy="133.4"/><circle cx="688.3" cy="131.4"/><circle cx="686.8" cy="129.7"/><circle cx="655.2" cy="146.3"/><circle cx="672.5" cy="132.2"/><circle cx="679.3" cy="133.8"/><circle cx="659.5" cy="146.8"/><circle cx="662.3" cy="144.8"/><circle cx="676.3" cy="141.9"/><circle cx="681.2" cy="121.6"/><circle cx="677.3" cy="148.4"/><circle cx="682.9" cy="130.1"/><circle cx="652.3" cy="155.6"/><circle cx="673.6" cy="133.9"/><circle cx="690.9" cy="119.4"/><circle cx="672.4" cy="130.9"/><circle cx="663.9" cy="144.8"/><circle cx="669.1" cy="142.5"/><circle cx="678.9" cy="134.9"/><circle cx="676.9" cy="123.3"/><circle cx="677.6" cy="136.4"/><circle cx="686.4" cy="122.0"/></g>
<ellipse cx="308.0" cy="499.0" rx="3.5" ry="3.5" fill="url(#g13)" opacity="1.0"/>
<ellipse cx="312.0" cy="500.5" rx="4.0" ry="4.0" fill="url(#g13)" opacity="1.0"/>
<ellipse cx="321.5" cy="502.0" rx="6.5" ry="5.5" fill="url(#g13)" opacity="1.0"/>
<ellipse cx="340.0" cy="504.5" rx="11.0" ry="7.5" fill="url(#g14)" opacity="0.9"/><g class="p" fill="#aed58c" fill-opacity="0.2"><circle cx="341.3" cy="505.7"/><circle cx="338.9" cy="501.5"/><circle cx="334.9" cy="504.6"/><circle cx="345.3" cy="501.8"/><circle cx="337.1" cy="505.9"/><circle cx="336.1" cy="504.5"/><circle cx="336.3" cy="501.4"/><circle cx="332.9" cy="504.8"/><circle cx="335.0" cy="507.3"/><circle cx="339.9" cy="503.4"/><circle cx="341.7" cy="501.6"/><circle cx="343.1" cy="502.5"/><circle cx="344.4" cy="506.0"/><circle cx="341.2" cy="504.2"/><circle cx="339.3" cy="506.5"/><circle cx="340.2" cy="504.5"/><circle cx="346.7" cy="504.8"/><circle cx="339.0" cy="504.0"/><circle cx="344.6" cy="503.4"/><circle cx="338.2" cy="506.8"/><circle cx="344.2" cy="507.5"/><circle cx="336.9" cy="505.4"/><circle cx="337.9" cy="505.4"/><circle cx="334.3" cy="504.1"/><circle cx="343.9" cy="504.9"/></g>
<ellipse cx="370.7" cy="508.2" rx="14.0" ry="8.5" fill="url(#g14)" opacity="0.8"/><g class="p" fill="#aed58c" fill-opacity="0.16" stroke="#aed58c" stroke-opacity="0.05"><circle cx="377.5" cy="515.4"/><circle cx="373.4" cy="509.2"/><circle cx="371.8" cy="513.1"/><circle cx="376.4" cy="508.7"/><circle cx="374.8" cy="511.2"/><circle cx="363.9" cy="510.8"/><circle cx="376.5" cy="508.6"/><circle cx="379.9" cy="507.5"/><circle cx="377.3" cy="505.0"/><circle cx="370.3" cy="506.7"/><circle cx="370.2" cy="512.5"/><circle cx="363.5" cy="504.3"/><circle cx="374.4" cy="512.3"/><circle cx="375.8" cy="508.0"/><circle cx="369.4" cy="505.4"/><circle cx="362.4" cy="511.1"/><circle cx="361.6" cy="509.5"/><circle cx="366.5" cy="510.0"/><circle cx="375.5" cy="505.1"/><circle cx="366.3" cy="505.9"/><circle cx="365.2" cy="507.2"/><circle cx="376.4" cy="508.3"/><circle cx="367.4" cy="512.8"/><circle cx="377.4" cy="508.4"/><circle cx="362.0" cy="511.6"/><circle cx="377.4" cy="506.7"/><circle cx="378.0" cy="506.1"/><circle cx="369.5" cy="507.1"/><circle cx="371.7" cy="507.9"/><circle cx="378.0" cy="507.3"/><circle cx="373.1" cy="508.4"/><circle cx="372.1" cy="506.1"/><circle cx="370.6" cy="511.9"/><circle cx="375.0" cy="505.2"/><circle cx="368.8" cy="505.6"/><circle cx="367.2" cy="506.6"/><circle cx="364.6" cy="509.5"/><circle cx="375.4" cy="508.7"/><circle cx="368.4" cy="508.7"/><circle cx="367.0" cy="511.0"/></g>
<ellipse cx="417.0" cy="510.0" rx="16.5" ry="9.7" fill="url(#g14)" opacity="0.65"/><g class="p" fill="#aed58c" fill-opacity="0.13" stroke="#aed58c" stroke-opacity="0.06"><circle cx="406.0" cy="512.3"/><circle cx="449.3" cy="504.8"/><circle cx="411.2" cy="504.8"/><circle cx="414.1" cy="507.3"/><circle cx="415.0" cy="516.4"/><circle cx="421.3" cy="512.6"/><circle cx="409.7" cy="507.7"/><circle cx="405.9" cy="506.5"/><circle cx="421.5" cy="507.6"/><circle cx="416.8" cy="514.9"/><circle cx="417.3" cy="516.6"/><circle cx="427.7" cy="507.3"/><circle cx="412.8" cy="510.2"/><circle cx="412.2" cy="510.2"/><circle cx="409.2" cy="504.8"/><circle cx="420.5" cy="510.1"/><circle cx="419.4" cy="512.7"/><circle cx="420.2" cy="509.1"/><circle cx="421.6" cy="512.3"/><circle cx="427.6" cy="507.4"/><circle cx="424.3" cy="508.1"/><circle cx="419.2" cy="510.4"/><circle cx="404.9" cy="509.3"/><circle cx="413.4" cy="515.3"/><circle cx="411.5" cy="505.3"/><circle cx="427.6" cy="507.7"/><circle cx="412.8" cy="515.5"/><circle cx="421.3" cy="512.5"/><circle cx="418.7" cy="509.7"/><circle cx="418.4" cy="505.5"/><circle cx="415.7" cy="510.7"/><circle cx="422.7" cy="506.2"/><circle cx="403.5" cy="509.0"/><circle cx="420.9" cy="511.5"/><circle cx="408.1" cy="514.2"/><circle cx="412.6" cy="514.9"/><circle cx="409.7" cy="509.2"/><circle cx="414.2" cy="506.9"/><circle cx="416.6" cy="512.4"/><circle cx="411.4" cy="516.5"/><circle cx="418.9" cy="511.2"/><circle cx="411.7" cy="509.8"/><circle cx="423.3" cy="506.6"/><circle cx="412.3" cy="507.2"/><circle cx="407.9" cy="512.2"/><circle cx="411.4" cy="515.6"/><circle cx="408.3" cy="508.9"/><circle cx="417.4" cy="506.6"/><circle cx="402.1" cy="507.8"/><circle cx="416.9" cy="506.8"/><circle cx="418.9" cy="503.7"/><circle cx="419.1" cy="517.1"/><circle cx="423.8" cy="513.4"/><circle cx="414.5" cy="508.6"/><circle cx="424.9" cy="508.9"/><circle cx="421.5" cy="506.7"/><circle cx="419.7" cy="510.6"/><circle cx="401.5" cy="509.6"/><circle cx="421.0" cy="511.8"/><circle cx="419.6" cy="514.4"/><circle cx="416.6" cy="507.4"/><circle cx="423.4" cy="517.2"/><circle cx="414.6" cy="515.2"/><circle cx="415.8" cy="505.0"/><circle cx="410.7" cy="507.1"/><circle cx="425.2" cy="510.4"/><circle cx="413.2" cy="510.4"/><circle cx="426.8" cy="509.7"/><circle cx="412.0" cy="511.2"/><circle cx="411.2" cy="511.7"/></g>
<ellipse cx="478.5" cy="505.0" rx="18.4" ry="10.8" fill="url(#g14)" opacity="0.6"/><g class="p" fill="#aed58c" fill-opacity="0.12" stroke="#aed58c" stroke-opacity="0.07"><circle cx="473.9" cy="507.2"/><circle cx="476.4" cy="498.6"/><circle cx="451.3" cy="511.0"/><circle cx="465.9" cy="502.5"/><circle cx="473.5" cy="502.9"/><circle cx="490.2" cy="501.7"/><circle cx="490.9" cy="509.3"/><circle cx="472.8" cy="510.6"/><circle cx="489.8" cy="504.1"/><circle cx="462.1" cy="502.6"/><circle cx="462.6" cy="506.1"/><circle cx="465.1" cy="508.1"/><circle cx="465.1" cy="503.3"/><circle cx="479.4" cy="501.5"/><circle cx="485.8" cy="506.3"/><circle cx="464.9" cy="506.2"/><circle cx="491.8" cy="508.3"/><circle cx="486.4" cy="507.9"/><circle cx="469.0" cy="509.2"/><circle cx="483.6" cy="509.0"/><circle cx="483.1" cy="512.7"/><circle cx="467.3" cy="506.9"/><circle cx="484.7" cy="501.6"/><circle cx="493.3" cy="502.6"/><circle cx="467.5" cy="505.4"/><circle cx="479.5" cy="512.4"/><circle cx="470.4" cy="503.8"/><circle cx="471.4" cy="510.6"/><circle cx="483.7" cy="500.4"/><circle cx="485.7" cy="504.0"/><circle cx="492.5" cy="505.7"/><circle cx="493.0" cy="506.8"/><circle cx="475.0" cy="498.6"/><circle cx="490.0" cy="503.8"/><circle cx="477.0" cy="512.4"/><circle cx="474.5" cy="503.0"/><circle cx="481.4" cy="505.2"/><circle cx="478.2" cy="501.0"/><circle cx="463.8" cy="505.0"/><circle cx="491.1" cy="504.2"/><circle cx="471.9" cy="506.2"/><circle cx="482.8" cy="502.0"/><circle cx="478.3" cy="508.2"/><circle cx="489.3" cy="506.3"/><circle cx="471.8" cy="498.6"/><circle cx="478.8" cy="503.7"/><circle cx="473.7" cy="502.2"/><circle cx="473.8" cy="505.5"/><circle cx="483.7" cy="501.7"/><circle cx="493.1" cy="510.5"/><circle cx="476.4" cy="506.1"/><circle cx="490.4" cy="501.3"/><circle cx="473.5" cy="502.5"/><circle cx="470.3" cy="507.8"/><circle cx="476.6" cy="505.3"/><circle cx="479.0" cy="504.1"/><circle cx="490.4" cy="504.3"/><circle cx="471.6" cy="499.5"/><circle cx="473.0" cy="505.7"/><circle cx="479.7" cy="506.1"/><circle cx="475.1" cy="506.7"/><circle cx="482.0" cy="500.2"/><circle cx="481.6" cy="506.6"/><circle cx="476.3" cy="509.3"/><circle cx="478.9" cy="502.0"/><circle cx="485.9" cy="512.0"/><circle cx="469.3" cy="504.7"/><circle cx="485.4" cy="507.4"/><circle cx="486.5" cy="510.2"/><circle cx="464.3" cy="507.7"/><circle cx="465.6" cy="501.2"/><circle cx="469.8" cy="506.9"/><circle cx="465.3" cy="505.4"/><circle cx="466.5" cy="512.9"/><circle cx="474.2" cy="504.9"/><circle cx="469.1" cy="502.7"/><circle cx="488.8" cy="505.9"/><circle cx="469.2" cy="503.0"/><circle cx="477.2" cy="511.9"/><circle cx="477.5" cy="506.7"/></g>
<ellipse cx="386.3" cy="524.8" rx="9.5" ry="6.0" transform="rotate(12 386.3 524.8)" fill="url(#g0)" opacity="1"/>
<ellipse cx="335.0" cy="510.3" rx="5.5" ry="4.0" fill="url(#g0)" opacity="1.0"/>
<ellipse cx="323.0" cy="505.0" rx="4.0" ry="3.2" fill="url(#g0)" opacity="1.0"/>
<ellipse cx="315.0" cy="501.5" rx="3.5" ry="3.0" fill="url(#g0)" opacity="1.0"/>
<ellipse cx="337.0" cy="507.0" rx="7.0" ry="4.8" fill="url(#g25)" opacity="0.92"/>
<ellipse cx="325.0" cy="504.5" rx="4.6" ry="3.6" fill="url(#g25)" opacity="0.9"/>
<ellipse cx="315.0" cy="501.0" rx="3.6" ry="3.2" fill="url(#g24)" opacity="0.9"/>
<ellipse cx="309.0" cy="499.0" rx="3.0" ry="3.0" fill="url(#g24)" opacity="0.9"/>
<ellipse cx="479.0" cy="505.7" rx="9.0" ry="5.5" fill="url(#g18)" opacity="0.95"/>
<ellipse cx="417.0" cy="510.0" rx="9.0" ry="5.5" fill="url(#g18)" opacity="0.97"/>
<ellipse cx="370.8" cy="508.2" rx="8.0" ry="5.0" fill="url(#g18)" opacity="1.0"/>
<ellipse cx="339.7" cy="504.9" rx="8.0" ry="5.5" fill="url(#g18)" opacity="1.0"/>
<ellipse cx="321.8" cy="502.3" rx="6.0" ry="5.0" fill="url(#g17)" opacity="1.0"/>
<ellipse cx="313.0" cy="500.8" rx="3.8" ry="3.5" fill="url(#g17)" opacity="1.0"/>
<ellipse cx="308.0" cy="499.0" rx="3.0" ry="3.0" fill="url(#g17)" opacity="1.0"/>
<ellipse cx="485.5" cy="540.0" rx="13.5" ry="7.0" transform="rotate(12 485.5 540.0)" fill="url(#g0)" opacity="0.97"/><g class="p" fill="#5b92cd" fill-opacity="0.2" stroke="#5b92cd" stroke-opacity="0.1"><circle cx="484.9" cy="544.1"/><circle cx="490.9" cy="537.9"/><circle cx="485.8" cy="536.7"/><circle cx="482.1" cy="538.8"/><circle cx="482.6" cy="536.9"/><circle cx="484.8" cy="538.8"/><circle cx="487.5" cy="537.2"/><circle cx="489.6" cy="540.0"/><circle cx="486.4" cy="540.9"/><circle cx="483.6" cy="538.6"/><circle cx="489.2" cy="543.2"/><circle cx="478.5" cy="539.7"/><circle cx="487.1" cy="538.0"/><circle cx="491.6" cy="539.2"/><circle cx="486.3" cy="537.7"/><circle cx="488.6" cy="541.0"/><circle cx="481.9" cy="541.0"/><circle cx="488.0" cy="542.8"/><circle cx="494.1" cy="541.8"/><circle cx="487.2" cy="541.5"/><circle cx="485.3" cy="541.2"/><circle cx="480.8" cy="541.4"/><circle cx="483.0" cy="537.9"/><circle cx="478.2" cy="538.7"/><circle cx="488.0" cy="539.1"/><circle cx="491.0" cy="542.8"/><circle cx="488.0" cy="541.3"/><circle cx="490.0" cy="538.4"/><circle cx="487.8" cy="541.7"/><circle cx="477.9" cy="539.1"/><circle cx="484.1" cy="541.2"/><circle cx="483.7" cy="539.6"/><circle cx="487.3" cy="538.7"/><circle cx="488.1" cy="540.3"/><circle cx="487.8" cy="539.5"/><circle cx="489.8" cy="542.1"/><circle cx="484.5" cy="541.0"/><circle cx="490.1" cy="544.5"/><circle cx="478.5" cy="540.2"/><circle cx="487.5" cy="540.2"/><circle cx="480.8" cy="541.4"/><circle cx="480.0" cy="539.9"/><circle cx="491.6" cy="538.2"/><circle cx="484.7" cy="537.3"/><circle cx="485.9" cy="543.0"/></g>
<ellipse cx="636.5" cy="535.4" rx="16.0" ry="7.0" transform="rotate(5 636.5 535.4)" fill="url(#g0)" opacity="0.95"/><g class="p" fill="#5b92cd" fill-opacity="0.18" stroke="#5b92cd" stroke-opacity="0.12"><circle cx="642.1" cy="537.6"/><circle cx="649.3" cy="539.1"/><circle cx="624.5" cy="535.7"/><circle cx="645.6" cy="539.0"/><circle cx="647.2" cy="533.9"/><circle cx="644.9" cy="533.3"/><circle cx="645.5" cy="535.6"/><circle cx="628.7" cy="533.0"/><circle cx="632.8" cy="532.7"/><circle cx="630.5" cy="536.8"/><circle cx="637.5" cy="536.3"/><circle cx="633.1" cy="538.8"/><circle cx="635.5" cy="533.2"/><circle cx="635.4" cy="536.0"/><circle cx="633.5" cy="532.4"/><circle cx="625.3" cy="534.4"/><circle cx="628.1" cy="535.6"/><circle cx="644.4" cy="535.6"/><circle cx="641.7" cy="538.9"/><circle cx="631.1" cy="535.1"/><circle cx="637.2" cy="535.9"/><circle cx="646.1" cy="535.0"/><circle cx="626.8" cy="534.8"/><circle cx="630.1" cy="538.3"/><circle cx="640.5" cy="538.2"/><circle cx="626.9" cy="532.4"/><circle cx="635.0" cy="535.6"/><circle cx="638.0" cy="536.0"/><circle cx="646.5" cy="536.9"/><circle cx="631.5" cy="536.3"/><circle cx="629.3" cy="534.8"/><circle cx="626.6" cy="538.1"/><circle cx="627.0" cy="535.5"/><circle cx="640.1" cy="532.8"/><circle cx="638.2" cy="537.5"/><circle cx="639.3" cy="536.2"/><circle cx="642.3" cy="536.2"/><circle cx="638.6" cy="535.3"/><circle cx="640.6" cy="533.9"/><circle cx="641.5" cy="534.8"/><circle cx="629.7" cy="535.5"/><circle cx="646.8" cy="538.2"/><circle cx="633.2" cy="536.5"/><circle cx="633.7" cy="534.9"/><circle cx="637.5" cy="530.8"/><circle cx="637.9" cy="533.5"/><circle cx="632.4" cy="532.1"/><circle cx="627.3" cy="532.7"/><circle cx="641.3" cy="539.2"/><circle cx="636.2" cy="537.6"/><circle cx="635.2" cy="531.4"/><circle cx="637.3" cy="536.4"/><circle cx="633.8" cy="535.8"/><circle cx="640.2" cy="534.0"/><circle cx="627.4" cy="534.2"/><circle cx="635.3" cy="534.6"/><circle cx="642.3" cy="539.4"/><circle cx="633.8" cy="536.6"/><circle cx="642.2" cy="537.3"/><circle cx="643.0" cy="535.2"/></g>
<ellipse cx="737.6" cy="567.8" rx="19.0" ry="10.0" fill="url(#g6)" opacity="0.92"/><g class="p" fill="#dc6aa8" fill-opacity="0.18" stroke="#dc6aa8" stroke-opacity="0.12"><circle cx="745.6" cy="566.2"/><circle cx="719.0" cy="562.8"/><circle cx="742.7" cy="571.2"/><circle cx="737.2" cy="563.2"/><circle cx="741.6" cy="568.9"/><circle cx="726.4" cy="567.9"/><circle cx="734.3" cy="565.5"/><circle cx="744.3" cy="563.0"/><circle cx="727.6" cy="566.4"/><circle cx="741.2" cy="569.3"/><circle cx="742.3" cy="563.0"/><circle cx="746.8" cy="566.3"/><circle cx="749.8" cy="568.7"/><circle cx="746.6" cy="565.7"/><circle cx="728.0" cy="564.2"/><circle cx="731.4" cy="566.1"/><circle cx="726.9" cy="571.4"/><circle cx="738.6" cy="568.4"/><circle cx="730.6" cy="565.8"/><circle cx="741.8" cy="566.3"/><circle cx="751.5" cy="568.6"/><circle cx="735.7" cy="567.5"/><circle cx="732.7" cy="565.5"/><circle cx="745.3" cy="566.1"/><circle cx="741.5" cy="567.9"/><circle cx="728.3" cy="571.7"/><circle cx="746.3" cy="571.3"/><circle cx="733.7" cy="571.6"/><circle cx="745.2" cy="565.8"/><circle cx="740.3" cy="570.0"/><circle cx="734.0" cy="569.6"/><circle cx="741.5" cy="564.6"/><circle cx="737.6" cy="563.4"/><circle cx="749.0" cy="565.2"/><circle cx="742.6" cy="569.7"/><circle cx="745.1" cy="566.8"/><circle cx="737.6" cy="568.2"/><circle cx="744.8" cy="565.9"/><circle cx="732.1" cy="566.3"/><circle cx="739.0" cy="568.7"/><circle cx="735.4" cy="570.0"/><circle cx="731.2" cy="567.8"/><circle cx="733.4" cy="565.3"/><circle cx="746.4" cy="567.1"/><circle cx="731.3" cy="568.1"/><circle cx="731.3" cy="569.6"/><circle cx="743.8" cy="570.7"/><circle cx="730.9" cy="567.6"/><circle cx="750.5" cy="567.4"/><circle cx="746.6" cy="572.0"/><circle cx="728.8" cy="571.2"/><circle cx="743.2" cy="570.3"/><circle cx="749.5" cy="569.2"/><circle cx="738.6" cy="569.6"/><circle cx="735.8" cy="569.3"/><circle cx="724.5" cy="572.6"/><circle cx="734.5" cy="569.4"/><circle cx="740.2" cy="568.3"/><circle cx="738.8" cy="568.2"/><circle cx="727.0" cy="566.5"/><circle cx="746.1" cy="565.3"/><circle cx="731.0" cy="573.6"/><circle cx="746.2" cy="572.1"/><circle cx="738.0" cy="568.7"/><circle cx="743.2" cy="569.5"/><circle cx="737.5" cy="564.1"/><circle cx="733.1" cy="564.0"/><circle cx="748.6" cy="566.9"/><circle cx="736.8" cy="568.7"/><circle cx="738.1" cy="569.4"/></g>
<ellipse cx="595.0" cy="571.0" rx="15.5" ry="8.5" transform="rotate(5 595.0 571.0)" fill="url(#g5)" opacity="0.95"/><g class="p" fill="#de70aa" fill-opacity="0.2" stroke="#de70aa" stroke-opacity="0.1"><circle cx="591.0" cy="568.7"/><circle cx="608.3" cy="571.6"/><circle cx="596.3" cy="567.0"/><circle cx="602.7" cy="568.7"/><circle cx="597.8" cy="568.1"/><circle cx="601.6" cy="568.8"/><circle cx="588.0" cy="573.2"/><circle cx="601.9" cy="574.0"/><circle cx="589.5" cy="567.1"/><circle cx="601.2" cy="572.3"/><circle cx="600.5" cy="570.8"/><circle cx="588.7" cy="570.7"/><circle cx="594.2" cy="575.3"/><circle cx="606.3" cy="572.9"/><circle cx="598.9" cy="569.0"/><circle cx="600.1" cy="568.0"/><circle cx="600.7" cy="574.3"/><circle cx="596.9" cy="566.6"/><circle cx="596.2" cy="571.4"/><circle cx="592.2" cy="567.1"/><circle cx="584.3" cy="569.1"/><circle cx="588.0" cy="566.6"/><circle cx="599.7" cy="573.8"/><circle cx="597.5" cy="567.9"/><circle cx="597.9" cy="566.8"/><circle cx="601.5" cy="567.5"/><circle cx="590.2" cy="572.0"/><circle cx="590.6" cy="577.5"/><circle cx="594.8" cy="573.6"/><circle cx="588.7" cy="570.7"/><circle cx="601.7" cy="573.0"/><circle cx="592.3" cy="576.8"/><circle cx="599.9" cy="571.2"/><circle cx="592.5" cy="570.5"/><circle cx="603.4" cy="570.3"/><circle cx="596.2" cy="569.6"/><circle cx="602.7" cy="571.7"/><circle cx="600.4" cy="573.1"/><circle cx="592.5" cy="572.8"/><circle cx="601.2" cy="569.2"/><circle cx="599.0" cy="580.0"/><circle cx="594.1" cy="572.8"/><circle cx="588.4" cy="571.8"/><circle cx="592.4" cy="572.9"/><circle cx="595.8" cy="568.7"/><circle cx="601.9" cy="571.5"/><circle cx="590.2" cy="571.1"/><circle cx="590.4" cy="571.9"/><circle cx="595.5" cy="570.5"/><circle cx="599.8" cy="568.8"/><circle cx="601.6" cy="567.3"/><circle cx="604.7" cy="572.6"/><circle cx="594.5" cy="569.6"/><circle cx="598.9" cy="571.3"/><circle cx="594.6" cy="573.7"/></g>
<ellipse cx="467.5" cy="551.3" rx="14.0" ry="8.0" transform="rotate(12 467.5 551.3)" fill="url(#g5)" opacity="0.97"/><g class="p" fill="#de70aa" fill-opacity="0.2" stroke="#de70aa" stroke-opacity="0.1"><circle cx="465.8" cy="549.4"/><circle cx="465.7" cy="552.2"/><circle cx="462.3" cy="553.3"/><circle cx="472.5" cy="549.0"/><circle cx="476.6" cy="553.6"/><circle cx="470.8" cy="549.6"/><circle cx="476.8" cy="552.6"/><circle cx="474.2" cy="553.7"/><circle cx="474.0" cy="551.8"/><circle cx="464.4" cy="548.0"/><circle cx="471.3" cy="554.2"/><circle cx="472.1" cy="549.1"/><circle cx="472.2" cy="554.5"/><circle cx="460.2" cy="552.5"/><circle cx="467.4" cy="554.3"/><circle cx="465.7" cy="551.6"/><circle cx="469.6" cy="553.1"/><circle cx="462.6" cy="552.2"/><circle cx="461.7" cy="548.8"/><circle cx="458.8" cy="550.3"/><circle cx="460.2" cy="549.3"/><circle cx="470.8" cy="550.9"/><circle cx="463.7" cy="549.2"/><circle cx="466.5" cy="546.1"/><circle cx="470.5" cy="551.9"/><circle cx="467.1" cy="551.4"/><circle cx="467.7" cy="556.1"/><circle cx="468.0" cy="553.1"/><circle cx="465.0" cy="551.5"/><circle cx="466.2" cy="550.7"/><circle cx="463.8" cy="548.9"/><circle cx="469.3" cy="553.2"/><circle cx="469.9" cy="550.5"/><circle cx="470.0" cy="546.7"/><circle cx="471.8" cy="552.2"/><circle cx="468.3" cy="553.9"/><circle cx="465.3" cy="552.8"/><circle cx="465.4" cy="552.0"/><circle cx="465.6" cy="551.6"/><circle cx="474.4" cy="551.5"/><circle cx="465.0" cy="550.1"/><circle cx="467.8" cy="557.0"/><circle cx="465.8" cy="546.8"/><circle cx="465.3" cy="547.6"/><circle cx="465.1" cy="550.9"/></g>
<ellipse cx="379.4" cy="527.4" rx="8.5" ry="6.0" transform="rotate(12 379.4 527.4)" fill="url(#g4)" opacity="1"/>
<ellipse cx="332.4" cy="509.5" rx="7.0" ry="5.5" transform="rotate(12 332.4 509.5)" fill="url(#g4)" opacity="1"/>
<ellipse cx="311.9" cy="500.3" rx="4.6" ry="4.8" fill="url(#g4)" opacity="1.0"/>
<g font-family="DejaVu Sans, Liberation Sans, sans-serif" font-size="25.7" letter-spacing="1.3" fill="#000"><text x="695.4" y="123.8">n=22</text><text x="835.5" y="107">n=20</text><text x="951.6" y="153">n=18</text><text x="1001.7" y="254">n=16</text><text x="955.6" y="375.3">n=14</text><text x="874.7" y="554.8">n=14</text><text x="928.5" y="495.5">n=16</text><text x="907.4" y="434.6">n=18</text><text x="826.7" y="387.3">n=20</text><text x="500.9" y="278.6">n=22</text><text x="632.1" y="224">n=20</text><text x="756.4" y="224">n=18</text><text x="800.9" y="290">n=16</text><text x="726.7" y="426.5">n=14</text><text x="593.3" y="514">n=14</text><text x="667.1" y="479.9">n=16</text><text x="550.6" y="414">n=20</text><text x="437.9" y="417.3">n=22</text></g>
<path d="M252.3,521.7L565.5,689.8L1152.4,588.9L1168.6,124.2M276.1,530.7L260.5,533.3M324.7,556.8L309.1,559.4M374.7,583.6L359.1,586.2M426.1,611.2L410.5,613.8M478.9,639.6L463.3,642.2M533.3,668.8L517.7,671.4M601.0,680.7L610.9,685.9M708.8,662.2L718.7,667.4M814.7,643.9L824.6,649.1M918.7,626.1L928.6,631.3M1020.9,608.5L1030.8,613.7M1121.3,591.2L1131.2,596.4M1148.8,559.5L1159.7,563.7M1152.8,444.5L1163.7,448.7M1156.9,327.5L1167.8,331.7M1161.1,208.4L1172.0,212.6" fill="none" stroke="#000" stroke-width="1.7" stroke-linejoin="round"/>
<g font-family="DejaVu Sans, Liberation Sans, sans-serif" fill="#000"><text x="249.5" y="576.4" font-size="32" text-anchor="middle">0.00</text><text x="347.1" y="629.4" font-size="32" text-anchor="middle">0.04</text><text x="450.9" y="685.8" font-size="32" text-anchor="middle">0.08</text><text x="618" y="732.3" font-size="32" text-anchor="middle">0.00</text><text x="831.8" y="696.2" font-size="32" text-anchor="middle">0.02</text><text x="1037.5" y="658.9" font-size="32" text-anchor="middle">0.04</text><text x="1188.5" y="587.6" font-size="32" text-anchor="middle">0.0</text><text x="1193" y="472.2" font-size="32" text-anchor="middle">0.005</text><text x="1197.6" y="355.8" font-size="32" text-anchor="middle">0.01</text><text x="1202.5" y="236" font-size="32" text-anchor="middle">0.015</text><text x="331.5" y="688" font-size="32" text-anchor="middle" transform="rotate(27.5 331.5 688)">[1,...,1]</text><text x="903.5" y="735.5" font-size="32" text-anchor="middle" transform="rotate(-10.5 903.5 735.5)">[2,1,...,1]</text><text x="1284.5" y="367.7" font-size="32" text-anchor="middle" transform="rotate(-88 1284.5 367.7)">[2,2,1,...,1]</text></g>
<g font-family="Liberation Sans, Arial, sans-serif" fill="#000"><circle cx="24.3" cy="101.3" r="17.8" fill="#5e91c8" filter="url(#sh)"/><text transform="translate(74.3 112.4) scale(0.923 1)" font-size="38.4">GBS</text><circle cx="24.3" cy="186.4" r="17.8" fill="#cf549f" filter="url(#sh)"/><text transform="translate(78.6 199.9) scale(1.085 1)" font-size="38.4">Dist.</text><circle cx="24.3" cy="270.8" r="17.8" fill="#a4c95e" filter="url(#sh)"/><text transform="translate(79.0 281.5) scale(1.02 1)" font-size="38.4">Coh.</text><circle cx="24.3" cy="356" r="17.8" fill="#e8a832" filter="url(#sh)"/><text transform="translate(78.6 367.7) scale(1.03 1)" font-size="38.4">Th.</text><circle cx="24.3" cy="444.3" r="17.8" fill="#d9675a" filter="url(#sh)"/><text transform="translate(78.6 459.9) scale(1.043 1)" font-size="38.4">Dist. Th.</text></g>
</svg>
</body></html>
